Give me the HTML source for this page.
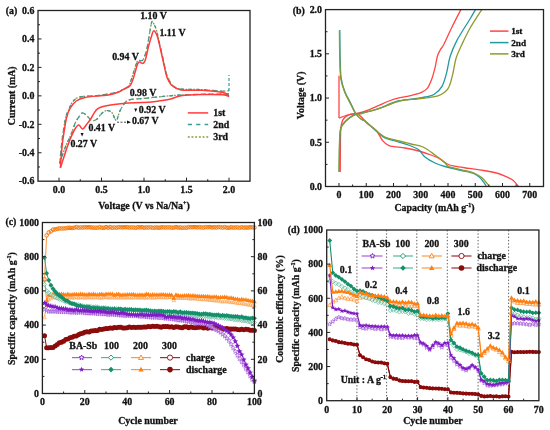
<!DOCTYPE html><html><head><meta charset="utf-8"><style>html,body{margin:0;padding:0;background:#fff;overflow:hidden}svg{display:block;will-change:transform;filter:blur(0.3px)}</style></head><body><svg width="550" height="430" viewBox="0 0 550 430" font-family='"Liberation Serif", serif' font-weight="bold">
<style>text{stroke:#111;stroke-width:0.3px;paint-order:stroke}</style>
<rect width="550" height="430" fill="#fff"/>
<g fill="none" stroke-linejoin="round">
<path d="M229.00,94.00 C227.97,94.00 227.30,93.95 222.80,94.00 C218.30,94.05 208.97,94.13 202.00,94.30 C195.03,94.47 186.38,94.75 181.00,95.00 C175.62,95.25 173.90,95.43 169.70,95.80 C165.50,96.17 160.45,96.73 155.80,97.20 C151.15,97.67 145.98,98.22 141.80,98.60 C137.62,98.98 133.37,98.97 130.70,99.50 C128.03,100.03 127.52,100.05 125.80,101.80 C124.08,103.55 121.67,107.67 120.40,110.00 C119.13,112.33 118.93,114.05 118.20,115.80 C117.47,117.55 117.10,121.10 116.00,120.50 C114.90,119.90 113.18,113.83 111.60,112.20 C110.02,110.57 108.07,110.58 106.50,110.70 C104.93,110.82 103.88,111.43 102.20,112.90 C100.52,114.37 98.22,118.28 96.40,119.50 C94.58,120.72 92.88,120.82 91.30,120.20 C89.72,119.58 88.37,117.02 86.90,115.80 C85.43,114.58 83.90,112.62 82.50,112.90 C81.10,113.18 79.70,115.82 78.50,117.50 C77.30,119.18 76.52,120.25 75.30,123.00 C74.08,125.75 72.75,130.23 71.20,134.00 C69.65,137.77 67.50,141.97 66.00,145.60 C64.50,149.23 63.23,152.82 62.20,155.80 C61.17,158.78 60.20,162.22 59.80,163.50" stroke="#8c9a3a" stroke-width="1.3" stroke-dasharray="1.8 2"/>
<path d="M59.80,163.50 C60.20,159.42 61.20,146.70 62.20,139.00 C63.20,131.30 64.72,122.13 65.80,117.30 C66.88,112.47 67.55,112.60 68.70,110.00 C69.85,107.40 70.82,103.87 72.70,101.70 C74.58,99.53 75.45,98.07 80.00,97.00 C84.55,95.93 93.67,96.13 100.00,95.30 C106.33,94.47 114.33,92.88 118.00,92.00 C121.67,91.12 120.25,90.95 122.00,90.00 C123.75,89.05 126.77,88.62 128.50,86.30 C130.23,83.98 131.32,79.18 132.40,76.10 C133.48,73.02 134.20,70.23 135.00,67.80 C135.80,65.37 136.50,62.73 137.20,61.50 C137.90,60.27 138.33,60.58 139.20,60.40 C140.07,60.22 141.43,61.27 142.40,60.40 C143.37,59.53 144.23,57.27 145.00,55.20 C145.77,53.13 146.42,50.53 147.00,48.00 C147.58,45.47 147.95,43.17 148.50,40.00 C149.05,36.83 149.78,31.92 150.30,29.00 C150.82,26.08 151.22,23.75 151.60,22.50 C151.98,21.25 152.25,21.35 152.60,21.50 C152.95,21.65 153.05,21.92 153.70,23.40 C154.35,24.88 155.45,26.68 156.50,30.40 C157.55,34.12 158.83,40.60 160.00,45.70 C161.17,50.80 162.45,56.35 163.50,61.00 C164.55,65.65 165.48,70.68 166.30,73.60 C167.12,76.52 167.35,76.52 168.40,78.50 C169.45,80.48 170.50,83.75 172.60,85.50 C174.70,87.25 176.10,88.32 181.00,89.00 C185.90,89.68 195.03,89.23 202.00,89.60 C208.97,89.97 218.30,91.05 222.80,91.20 C227.30,91.35 227.97,90.62 229.00,90.50" stroke="#8c9a3a" stroke-width="1.3" stroke-dasharray="1.8 2"/>
<path d="M229.00,94.00 C227.97,94.00 227.30,93.95 222.80,94.00 C218.30,94.05 208.97,94.13 202.00,94.30 C195.03,94.47 186.38,94.75 181.00,95.00 C175.62,95.25 173.90,95.43 169.70,95.80 C165.50,96.17 160.45,96.73 155.80,97.20 C151.15,97.67 145.98,98.22 141.80,98.60 C137.62,98.98 133.37,98.97 130.70,99.50 C128.03,100.03 127.52,100.05 125.80,101.80 C124.08,103.55 121.67,107.67 120.40,110.00 C119.13,112.33 118.93,114.05 118.20,115.80 C117.47,117.55 117.10,121.10 116.00,120.50 C114.90,119.90 113.18,113.83 111.60,112.20 C110.02,110.57 108.07,110.58 106.50,110.70 C104.93,110.82 103.88,111.43 102.20,112.90 C100.52,114.37 98.22,118.28 96.40,119.50 C94.58,120.72 92.88,120.82 91.30,120.20 C89.72,119.58 88.37,117.02 86.90,115.80 C85.43,114.58 83.90,112.62 82.50,112.90 C81.10,113.18 79.70,115.82 78.50,117.50 C77.30,119.18 76.52,120.25 75.30,123.00 C74.08,125.75 72.75,130.23 71.20,134.00 C69.65,137.77 67.50,141.97 66.00,145.60 C64.50,149.23 63.23,152.82 62.20,155.80 C61.17,158.78 60.20,162.22 59.80,163.50" stroke="#3a9a9a" stroke-width="1.3" stroke-dasharray="4 4"/>
<path d="M59.80,163.50 C60.20,159.42 61.20,146.70 62.20,139.00 C63.20,131.30 64.72,122.13 65.80,117.30 C66.88,112.47 67.55,112.60 68.70,110.00 C69.85,107.40 70.82,103.87 72.70,101.70 C74.58,99.53 75.45,98.07 80.00,97.00 C84.55,95.93 93.67,96.13 100.00,95.30 C106.33,94.47 114.33,92.88 118.00,92.00 C121.67,91.12 120.25,90.95 122.00,90.00 C123.75,89.05 126.77,88.62 128.50,86.30 C130.23,83.98 131.32,79.18 132.40,76.10 C133.48,73.02 134.20,70.23 135.00,67.80 C135.80,65.37 136.50,62.73 137.20,61.50 C137.90,60.27 138.33,60.58 139.20,60.40 C140.07,60.22 141.43,61.27 142.40,60.40 C143.37,59.53 144.23,57.27 145.00,55.20 C145.77,53.13 146.42,50.53 147.00,48.00 C147.58,45.47 147.95,43.17 148.50,40.00 C149.05,36.83 149.78,31.92 150.30,29.00 C150.82,26.08 151.22,23.75 151.60,22.50 C151.98,21.25 152.25,21.35 152.60,21.50 C152.95,21.65 153.05,21.92 153.70,23.40 C154.35,24.88 155.45,26.68 156.50,30.40 C157.55,34.12 158.83,40.60 160.00,45.70 C161.17,50.80 162.45,56.35 163.50,61.00 C164.55,65.65 165.48,70.68 166.30,73.60 C167.12,76.52 167.35,76.52 168.40,78.50 C169.45,80.48 170.50,83.75 172.60,85.50 C174.70,87.25 176.10,88.32 181.00,89.00 C185.90,89.68 195.03,89.23 202.00,89.60 C208.97,89.97 218.30,91.05 222.80,91.20 C227.30,91.35 227.97,90.62 229.00,90.50" stroke="#3a9a9a" stroke-width="1.3" stroke-dasharray="4 4"/>
<line x1="229" y1="91" x2="229" y2="75" stroke="#3a9a9a" stroke-width="1.2" stroke-dasharray="3 2"/>
<path d="M229.00,96.50 C227.97,96.22 227.30,95.12 222.80,94.80 C218.30,94.48 208.97,94.43 202.00,94.60 C195.03,94.77 186.38,95.02 181.00,95.80 C175.62,96.58 173.90,98.37 169.70,99.30 C165.50,100.23 160.45,100.85 155.80,101.40 C151.15,101.95 146.45,102.33 141.80,102.60 C137.15,102.87 132.53,102.67 127.90,103.00 C123.27,103.33 118.65,103.85 114.00,104.60 C109.35,105.35 103.08,106.43 100.00,107.50 C96.92,108.57 97.12,109.00 95.50,111.00 C93.88,113.00 91.80,117.25 90.30,119.50 C88.80,121.75 87.77,122.92 86.50,124.50 C85.23,126.08 83.98,128.90 82.70,129.00 C81.42,129.10 80.08,125.10 78.80,125.10 C77.52,125.10 76.27,127.08 75.00,129.00 C73.73,130.92 72.48,133.63 71.20,136.60 C69.92,139.57 68.58,143.18 67.30,146.80 C66.02,150.42 64.65,154.82 63.50,158.30 C62.35,161.78 60.92,166.13 60.40,167.70" stroke="#ff3b3b" stroke-width="1.5"/>
<path d="M60.40,167.70 C60.70,163.92 61.53,151.28 62.20,145.00 C62.87,138.72 63.68,134.50 64.40,130.00 C65.12,125.50 65.57,121.58 66.50,118.00 C67.43,114.42 68.38,111.33 70.00,108.50 C71.62,105.67 73.70,102.83 76.20,101.00 C78.70,99.17 81.03,98.37 85.00,97.50 C88.97,96.63 96.10,96.20 100.00,95.80 C103.90,95.40 105.38,95.68 108.40,95.10 C111.42,94.52 115.83,93.12 118.10,92.30 C120.37,91.48 120.52,91.00 122.00,90.20 C123.48,89.40 125.70,88.20 127.00,87.50 C128.30,86.80 128.97,86.92 129.80,86.00 C130.63,85.08 131.30,83.65 132.00,82.00 C132.70,80.35 133.32,78.30 134.00,76.10 C134.68,73.90 135.48,70.88 136.10,68.80 C136.72,66.72 137.18,64.73 137.70,63.60 C138.22,62.47 138.68,62.17 139.20,62.00 C139.72,61.83 140.27,62.33 140.80,62.60 C141.33,62.87 141.87,63.62 142.40,63.60 C142.93,63.58 143.48,63.18 144.00,62.50 C144.52,61.82 145.00,61.08 145.50,59.50 C146.00,57.92 146.48,55.25 147.00,53.00 C147.52,50.75 147.83,48.83 148.60,46.00 C149.37,43.17 150.75,38.53 151.60,36.00 C152.45,33.47 152.77,30.80 153.70,30.80 C154.63,30.80 156.15,33.28 157.20,36.00 C158.25,38.72 158.95,42.68 160.00,47.10 C161.05,51.52 162.45,57.85 163.50,62.50 C164.55,67.15 165.48,72.00 166.30,75.00 C167.12,78.00 167.35,78.67 168.40,80.50 C169.45,82.33 170.50,84.43 172.60,86.00 C174.70,87.57 176.10,89.18 181.00,89.90 C185.90,90.62 195.03,89.88 202.00,90.30 C208.97,90.72 218.63,91.70 222.80,92.40 C226.97,93.10 225.97,93.82 227.00,94.50 C228.03,95.18 228.67,96.17 229.00,96.50" stroke="#ff3b3b" stroke-width="1.5"/>
</g>
<rect x="38.00" y="10.50" width="212.00" height="170.70" fill="none" stroke="#222" stroke-width="1.3"/>
<line x1="59.00" y1="181.20" x2="59.00" y2="177.70" stroke="#222" stroke-width="1"/>
<line x1="101.50" y1="181.20" x2="101.50" y2="177.70" stroke="#222" stroke-width="1"/>
<line x1="144.00" y1="181.20" x2="144.00" y2="177.70" stroke="#222" stroke-width="1"/>
<line x1="186.50" y1="181.20" x2="186.50" y2="177.70" stroke="#222" stroke-width="1"/>
<line x1="229.00" y1="181.20" x2="229.00" y2="177.70" stroke="#222" stroke-width="1"/>
<line x1="80.25" y1="181.20" x2="80.25" y2="179.20" stroke="#222" stroke-width="1"/>
<line x1="122.75" y1="181.20" x2="122.75" y2="179.20" stroke="#222" stroke-width="1"/>
<line x1="165.25" y1="181.20" x2="165.25" y2="179.20" stroke="#222" stroke-width="1"/>
<line x1="207.75" y1="181.20" x2="207.75" y2="179.20" stroke="#222" stroke-width="1"/>
<line x1="38.00" y1="152.75" x2="41.50" y2="152.75" stroke="#222" stroke-width="1"/>
<line x1="38.00" y1="124.30" x2="41.50" y2="124.30" stroke="#222" stroke-width="1"/>
<line x1="38.00" y1="95.85" x2="41.50" y2="95.85" stroke="#222" stroke-width="1"/>
<line x1="38.00" y1="67.40" x2="41.50" y2="67.40" stroke="#222" stroke-width="1"/>
<line x1="38.00" y1="38.95" x2="41.50" y2="38.95" stroke="#222" stroke-width="1"/>
<line x1="38.00" y1="166.97" x2="40.00" y2="166.97" stroke="#222" stroke-width="1"/>
<line x1="38.00" y1="138.52" x2="40.00" y2="138.52" stroke="#222" stroke-width="1"/>
<line x1="38.00" y1="110.07" x2="40.00" y2="110.07" stroke="#222" stroke-width="1"/>
<line x1="38.00" y1="81.62" x2="40.00" y2="81.62" stroke="#222" stroke-width="1"/>
<line x1="38.00" y1="53.17" x2="40.00" y2="53.17" stroke="#222" stroke-width="1"/>
<line x1="38.00" y1="24.72" x2="40.00" y2="24.72" stroke="#222" stroke-width="1"/>
<text x="59.00" y="192.97" font-size="9.9" text-anchor="middle" fill="#111">0.0</text>
<text x="101.50" y="192.97" font-size="9.9" text-anchor="middle" fill="#111">0.5</text>
<text x="144.00" y="192.97" font-size="9.9" text-anchor="middle" fill="#111">1.0</text>
<text x="186.50" y="192.97" font-size="9.9" text-anchor="middle" fill="#111">1.5</text>
<text x="229.00" y="192.97" font-size="9.9" text-anchor="middle" fill="#111">2.0</text>
<text x="34.40" y="184.47" font-size="9.9" text-anchor="end" fill="#111">-0.6</text>
<text x="34.40" y="156.02" font-size="9.9" text-anchor="end" fill="#111">-0.4</text>
<text x="34.40" y="127.57" font-size="9.9" text-anchor="end" fill="#111">-0.2</text>
<text x="34.40" y="99.12" font-size="9.9" text-anchor="end" fill="#111">0.0</text>
<text x="34.40" y="70.67" font-size="9.9" text-anchor="end" fill="#111">0.2</text>
<text x="34.40" y="42.22" font-size="9.9" text-anchor="end" fill="#111">0.4</text>
<text x="34.40" y="13.77" font-size="9.9" text-anchor="end" fill="#111">0.6</text>
<text x="11.50" y="13.97" font-size="9.9" text-anchor="middle" fill="#111">(a)</text>
<text x="144.00" y="208.70" font-size="9.9" text-anchor="middle" fill="#111">Voltage (V vs Na/Na<tspan font-size="6" dy="-4">+</tspan><tspan dy="4">)</tspan></text>
<text x="14.70" y="95.80" font-size="9.9" text-anchor="middle" fill="#111" transform="rotate(-90 14.70 95.80)">Current (mA)</text>
<text x="153.50" y="19.27" font-size="9.9" text-anchor="middle" fill="#111">1.10 V</text>
<text x="172.50" y="35.87" font-size="9.9" text-anchor="middle" fill="#111">1.11 V</text>
<text x="125.50" y="59.77" font-size="9.9" text-anchor="middle" fill="#111">0.94 V</text>
<text x="143.00" y="95.57" font-size="9.9" text-anchor="middle" fill="#111">0.98 V</text>
<text x="152.20" y="112.97" font-size="9.9" text-anchor="middle" fill="#111">0.92 V</text>
<text x="145.30" y="124.17" font-size="9.9" text-anchor="middle" fill="#111">0.67 V</text>
<text x="101.80" y="131.47" font-size="9.9" text-anchor="middle" fill="#111">0.41 V</text>
<text x="83.80" y="146.77" font-size="9.9" text-anchor="middle" fill="#111">0.27 V</text>
<path d="M80.6,133 L83.6,133 L82.1,136.5 Z" fill="#111"/>
<path d="M134.2,108.6 L137.2,108.6 L135.7,112 Z" fill="#111"/>
<line x1="117" y1="122.2" x2="127.5" y2="122.2" stroke="#333" stroke-width="0.9" stroke-dasharray="2 1.5"/>
<path d="M127,120.6 L131,122.2 L127,123.8 Z" fill="#111"/>
<line x1="187.8" y1="112.9" x2="208.2" y2="112.9" stroke="#ff3b3b" stroke-width="1.5"/>
<line x1="187.8" y1="124.5" x2="208.2" y2="124.5" stroke="#3a9a9a" stroke-width="1.5" stroke-dasharray="4.2 4.2"/>
<line x1="187.8" y1="137" x2="208.2" y2="137" stroke="#8c9a3a" stroke-width="1.5" stroke-dasharray="1.9 1.8"/>
<text x="213.30" y="116.17" font-size="9.9" text-anchor="start" fill="#111">1st</text>
<text x="213.30" y="127.77" font-size="9.9" text-anchor="start" fill="#111">2nd</text>
<text x="213.30" y="140.27" font-size="9.9" text-anchor="start" fill="#111">3rd</text>
<g fill="none" stroke-width="1.3" stroke-linejoin="round">
<path d="M339.00,75.80 L339.00,118.00" stroke="#ff4545"/>
<path d="M339.00,118.00 C340.00,117.67 343.00,116.63 345.00,116.00 C347.00,115.37 349.17,114.57 351.00,114.20 C352.83,113.83 354.42,113.50 356.00,113.80 C357.58,114.10 358.62,114.40 360.50,116.00 C362.38,117.60 364.62,120.93 367.30,123.40 C369.98,125.87 374.12,128.03 376.60,130.80 C379.08,133.57 380.13,137.53 382.20,140.00 C384.27,142.47 385.20,144.27 389.00,145.60 C392.80,146.93 400.00,147.10 405.00,148.00 C410.00,148.90 414.67,149.83 419.00,151.00 C423.33,152.17 427.50,153.68 431.00,155.00 C434.50,156.32 437.28,157.40 440.00,158.90 C442.72,160.40 444.88,162.78 447.30,164.00 C449.72,165.22 450.88,165.47 454.50,166.20 C458.12,166.93 464.15,167.68 469.00,168.40 C473.85,169.12 478.73,169.65 483.60,170.50 C488.47,171.35 494.55,172.52 498.20,173.50 C501.85,174.48 503.08,175.32 505.50,176.40 C507.92,177.48 510.53,178.32 512.70,180.00 C514.87,181.68 517.53,185.42 518.50,186.50" stroke="#ff4545"/>
<path d="M340.20,172.00 C340.23,168.33 340.30,157.17 340.40,150.00 C340.50,142.83 340.37,134.07 340.80,129.00 C341.23,123.93 341.70,121.93 343.00,119.60 C344.30,117.27 346.10,116.08 348.60,115.00 C351.10,113.92 354.88,113.88 358.00,113.10 C361.12,112.32 363.90,111.55 367.30,110.30 C370.70,109.05 374.78,107.15 378.40,105.60 C382.02,104.05 385.73,102.23 389.00,101.00 C392.27,99.77 394.95,98.97 398.00,98.20 C401.05,97.43 404.23,97.10 407.30,96.40 C410.37,95.70 414.12,94.63 416.40,94.00 C418.68,93.37 419.23,93.48 421.00,92.60 C422.77,91.72 425.23,90.90 427.00,88.70 C428.77,86.50 430.27,82.88 431.60,79.40 C432.93,75.92 434.03,71.67 435.00,67.80 C435.97,63.93 436.48,59.25 437.40,56.20 C438.32,53.15 439.43,51.45 440.50,49.50 C441.57,47.55 441.88,48.25 443.80,44.50 C445.72,40.75 449.15,32.82 452.00,27.00 C454.85,21.18 459.42,12.50 460.90,9.60" stroke="#ff4545"/>
<path d="M339.80,30.00 C339.87,35.00 339.97,51.90 340.20,60.00 C340.43,68.10 340.42,73.32 341.20,78.60 C341.98,83.88 343.35,87.65 344.90,91.70 C346.45,95.75 348.65,99.18 350.50,102.90 C352.35,106.62 354.13,111.22 356.00,114.00 C357.87,116.78 360.20,118.43 361.70,119.60 C363.20,120.77 362.78,119.27 365.00,121.00 C367.22,122.73 371.67,127.17 375.00,130.00 C378.33,132.83 381.67,136.17 385.00,138.00 C388.33,139.83 390.67,139.67 395.00,141.00 C399.33,142.33 407.00,144.50 411.00,146.00 C415.00,147.50 416.67,148.17 419.00,150.00 C421.33,151.83 422.33,154.83 425.00,157.00 C427.67,159.17 431.67,161.42 435.00,163.00 C438.33,164.58 440.53,165.25 445.00,166.50 C449.47,167.75 457.05,169.33 461.80,170.50 C466.55,171.67 470.58,172.42 473.50,173.50 C476.42,174.58 477.62,175.55 479.30,177.00 C480.98,178.45 482.40,180.62 483.60,182.20 C484.80,183.78 486.02,185.78 486.50,186.50" stroke="#229a9f"/>
<path d="M339.20,172.00 C339.27,167.50 339.38,152.00 339.60,145.00 C339.82,138.00 339.93,133.50 340.50,130.00 C341.07,126.50 341.58,126.00 343.00,124.00 C344.42,122.00 347.00,119.60 349.00,118.00 C351.00,116.40 352.88,115.22 355.00,114.40 C357.12,113.58 358.10,113.93 361.70,113.10 C365.30,112.27 370.55,111.42 376.60,109.40 C382.65,107.38 391.37,102.82 398.00,101.00 C404.63,99.18 411.90,99.17 416.40,98.50 C420.90,97.83 422.07,97.67 425.00,97.00 C427.93,96.33 431.17,96.27 434.00,94.50 C436.83,92.73 439.88,90.08 442.00,86.40 C444.12,82.72 445.33,77.43 446.70,72.40 C448.07,67.37 448.45,61.62 450.20,56.20 C451.95,50.78 453.90,46.10 457.20,39.90 C460.50,33.70 466.95,24.05 470.00,19.00 C473.05,13.95 474.58,11.17 475.50,9.60" stroke="#229a9f"/>
<path d="M339.40,30.50 C339.47,35.42 339.57,51.98 339.80,60.00 C340.03,68.02 340.02,73.32 340.80,78.60 C341.58,83.88 342.97,87.65 344.50,91.70 C346.03,95.75 348.15,99.27 350.00,102.90 C351.85,106.53 353.68,110.77 355.60,113.50 C357.52,116.23 359.93,118.05 361.50,119.30 C363.07,120.55 362.75,119.30 365.00,121.00 C367.25,122.70 371.67,126.83 375.00,129.50 C378.33,132.17 381.67,135.25 385.00,137.00 C388.33,138.75 390.67,138.83 395.00,140.00 C399.33,141.17 406.33,142.83 411.00,144.00 C415.67,145.17 419.00,145.17 423.00,147.00 C427.00,148.83 431.33,152.33 435.00,155.00 C438.67,157.67 442.72,161.08 445.00,163.00 C447.28,164.92 445.90,165.37 448.70,166.50 C451.50,167.63 457.42,168.63 461.80,169.80 C466.18,170.97 471.63,172.17 475.00,173.50 C478.37,174.83 479.58,175.63 482.00,177.80 C484.42,179.97 488.25,185.05 489.50,186.50" stroke="#8e9a2e"/>
<path d="M339.00,172.00 C339.07,167.50 339.18,152.00 339.40,145.00 C339.62,138.00 339.70,133.42 340.30,130.00 C340.90,126.58 341.55,126.42 343.00,124.50 C344.45,122.58 347.00,120.08 349.00,118.50 C351.00,116.92 352.88,115.83 355.00,115.00 C357.12,114.17 357.53,114.63 361.70,113.50 C365.87,112.37 373.95,110.20 380.00,108.20 C386.05,106.20 391.93,103.03 398.00,101.50 C404.07,99.97 411.90,99.58 416.40,99.00 C420.90,98.42 421.30,98.55 425.00,98.00 C428.70,97.45 434.77,97.25 438.60,95.70 C442.43,94.15 445.67,92.18 448.00,88.70 C450.33,85.22 451.27,79.83 452.60,74.80 C453.93,69.77 454.45,63.55 456.00,58.50 C457.55,53.45 459.57,49.53 461.90,44.50 C464.23,39.47 466.68,34.12 470.00,28.30 C473.32,22.48 479.83,12.72 481.80,9.60" stroke="#8e9a2e"/>
</g>
<rect x="326" y="0" width="217" height="9" fill="#fff"/>
<rect x="325.50" y="9.60" width="218.00" height="176.90" fill="none" stroke="#222" stroke-width="1.3"/>
<line x1="339.00" y1="186.50" x2="339.00" y2="183.00" stroke="#222" stroke-width="1"/>
<line x1="366.25" y1="186.50" x2="366.25" y2="183.00" stroke="#222" stroke-width="1"/>
<line x1="393.50" y1="186.50" x2="393.50" y2="183.00" stroke="#222" stroke-width="1"/>
<line x1="420.75" y1="186.50" x2="420.75" y2="183.00" stroke="#222" stroke-width="1"/>
<line x1="448.00" y1="186.50" x2="448.00" y2="183.00" stroke="#222" stroke-width="1"/>
<line x1="475.25" y1="186.50" x2="475.25" y2="183.00" stroke="#222" stroke-width="1"/>
<line x1="502.50" y1="186.50" x2="502.50" y2="183.00" stroke="#222" stroke-width="1"/>
<line x1="529.75" y1="186.50" x2="529.75" y2="183.00" stroke="#222" stroke-width="1"/>
<line x1="352.62" y1="186.50" x2="352.62" y2="184.50" stroke="#222" stroke-width="1"/>
<line x1="379.88" y1="186.50" x2="379.88" y2="184.50" stroke="#222" stroke-width="1"/>
<line x1="407.12" y1="186.50" x2="407.12" y2="184.50" stroke="#222" stroke-width="1"/>
<line x1="434.38" y1="186.50" x2="434.38" y2="184.50" stroke="#222" stroke-width="1"/>
<line x1="461.62" y1="186.50" x2="461.62" y2="184.50" stroke="#222" stroke-width="1"/>
<line x1="488.88" y1="186.50" x2="488.88" y2="184.50" stroke="#222" stroke-width="1"/>
<line x1="516.12" y1="186.50" x2="516.12" y2="184.50" stroke="#222" stroke-width="1"/>
<line x1="325.50" y1="142.28" x2="329.00" y2="142.28" stroke="#222" stroke-width="1"/>
<line x1="325.50" y1="98.05" x2="329.00" y2="98.05" stroke="#222" stroke-width="1"/>
<line x1="325.50" y1="53.82" x2="329.00" y2="53.82" stroke="#222" stroke-width="1"/>
<line x1="325.50" y1="164.39" x2="327.50" y2="164.39" stroke="#222" stroke-width="1"/>
<line x1="325.50" y1="120.16" x2="327.50" y2="120.16" stroke="#222" stroke-width="1"/>
<line x1="325.50" y1="75.94" x2="327.50" y2="75.94" stroke="#222" stroke-width="1"/>
<line x1="325.50" y1="31.71" x2="327.50" y2="31.71" stroke="#222" stroke-width="1"/>
<text x="339.00" y="197.97" font-size="9.9" text-anchor="middle" fill="#111">0</text>
<text x="366.25" y="197.97" font-size="9.9" text-anchor="middle" fill="#111">100</text>
<text x="393.50" y="197.97" font-size="9.9" text-anchor="middle" fill="#111">200</text>
<text x="420.75" y="197.97" font-size="9.9" text-anchor="middle" fill="#111">300</text>
<text x="448.00" y="197.97" font-size="9.9" text-anchor="middle" fill="#111">400</text>
<text x="475.25" y="197.97" font-size="9.9" text-anchor="middle" fill="#111">500</text>
<text x="502.50" y="197.97" font-size="9.9" text-anchor="middle" fill="#111">600</text>
<text x="529.75" y="197.97" font-size="9.9" text-anchor="middle" fill="#111">700</text>
<text x="322.00" y="189.77" font-size="9.9" text-anchor="end" fill="#111">0.0</text>
<text x="322.00" y="145.54" font-size="9.9" text-anchor="end" fill="#111">0.5</text>
<text x="322.00" y="101.32" font-size="9.9" text-anchor="end" fill="#111">1.0</text>
<text x="322.00" y="57.09" font-size="9.9" text-anchor="end" fill="#111">1.5</text>
<text x="322.00" y="12.87" font-size="9.9" text-anchor="end" fill="#111">2.0</text>
<text x="298.80" y="13.67" font-size="9.9" text-anchor="middle" fill="#111">(b)</text>
<text x="434.50" y="211.10" font-size="9.9" text-anchor="middle" fill="#111">Capacity (mAh g<tspan font-size="6" dy="-4">-1</tspan><tspan dy="4">)</tspan></text>
<text x="303.70" y="95.30" font-size="9.9" text-anchor="middle" fill="#111" transform="rotate(-90 303.70 95.30)">Voltage (V)</text>
<line x1="490" y1="31.1" x2="508.5" y2="31.1" stroke="#ff4545" stroke-width="1.5"/>
<line x1="490" y1="42.6" x2="508.5" y2="42.6" stroke="#229a9f" stroke-width="1.5"/>
<line x1="490" y1="53.9" x2="508.5" y2="53.9" stroke="#8e9a2e" stroke-width="1.5"/>
<text x="511.20" y="34.14" font-size="9.2" text-anchor="start" fill="#111">1st</text>
<text x="511.20" y="45.64" font-size="9.2" text-anchor="start" fill="#111">2nd</text>
<text x="511.20" y="56.94" font-size="9.2" text-anchor="start" fill="#111">3rd</text>
<g>
<path d="M44.52,335.63 L46.64,347.63 L48.76,347.81 L50.88,347.57 L53.00,347.54 L55.12,346.09 L57.24,344.53 L59.36,342.69 L61.48,342.29 L63.60,341.33 L65.72,339.55 L67.84,339.10 L69.96,337.73 L72.08,337.21 L74.20,336.25 L76.32,335.96 L78.44,334.67 L80.56,333.64 L82.68,333.20 L84.80,332.18 L86.92,331.71 L89.04,331.96 L91.16,330.88 L93.28,330.68 L95.40,330.60 L97.52,330.51 L99.64,329.28 L101.76,329.40 L103.88,328.89 L106.00,328.47 L108.12,328.38 L110.24,327.91 L112.36,328.20 L114.48,327.53 L116.60,327.84 L118.72,327.28 L120.84,327.28 L122.96,328.02 L125.08,327.92 L127.20,327.78 L129.32,326.96 L131.44,327.45 L133.56,327.19 L135.68,327.47 L137.80,327.20 L139.92,327.27 L142.04,327.25 L144.16,326.95 L146.28,326.89 L148.40,326.51 L150.52,326.68 L152.64,326.37 L154.76,326.47 L156.88,326.36 L159.00,326.72 L161.12,327.27 L163.24,326.58 L165.36,326.50 L167.48,326.59 L169.60,326.97 L171.72,326.85 L173.84,327.39 L175.96,326.78 L178.08,327.08 L180.20,327.40 L182.32,327.66 L184.44,326.87 L186.56,326.76 L188.68,327.72 L190.80,327.01 L192.92,327.44 L195.04,327.74 L197.16,327.62 L199.28,327.16 L201.40,327.08 L203.52,327.96 L205.64,327.46 L207.76,328.13 L209.88,327.53 L212.00,328.01 L214.12,327.53 L216.24,327.51 L218.36,328.09 L220.48,327.67 L222.60,328.46 L224.72,328.78 L226.84,328.39 L228.96,329.12 L231.08,329.10 L233.20,329.03 L235.32,328.97 L237.44,329.58 L239.56,329.84 L241.68,329.14 L243.80,329.86 L245.92,329.34 L248.04,329.55 L250.16,330.23 L252.28,330.30 L254.40,330.38" fill="none" stroke="#8b0a0a" stroke-width="1" opacity="1"/>
<path d="M42.02,335.63 a2.50,2.50 0 1,0 5.00,0 a2.50,2.50 0 1,0 -5.00,0M44.14,347.63 a2.50,2.50 0 1,0 5.00,0 a2.50,2.50 0 1,0 -5.00,0M46.26,347.81 a2.50,2.50 0 1,0 5.00,0 a2.50,2.50 0 1,0 -5.00,0M48.38,347.57 a2.50,2.50 0 1,0 5.00,0 a2.50,2.50 0 1,0 -5.00,0M50.50,347.54 a2.50,2.50 0 1,0 5.00,0 a2.50,2.50 0 1,0 -5.00,0M52.62,346.09 a2.50,2.50 0 1,0 5.00,0 a2.50,2.50 0 1,0 -5.00,0M54.74,344.53 a2.50,2.50 0 1,0 5.00,0 a2.50,2.50 0 1,0 -5.00,0M56.86,342.69 a2.50,2.50 0 1,0 5.00,0 a2.50,2.50 0 1,0 -5.00,0M58.98,342.29 a2.50,2.50 0 1,0 5.00,0 a2.50,2.50 0 1,0 -5.00,0M61.10,341.33 a2.50,2.50 0 1,0 5.00,0 a2.50,2.50 0 1,0 -5.00,0M63.22,339.55 a2.50,2.50 0 1,0 5.00,0 a2.50,2.50 0 1,0 -5.00,0M65.34,339.10 a2.50,2.50 0 1,0 5.00,0 a2.50,2.50 0 1,0 -5.00,0M67.46,337.73 a2.50,2.50 0 1,0 5.00,0 a2.50,2.50 0 1,0 -5.00,0M69.58,337.21 a2.50,2.50 0 1,0 5.00,0 a2.50,2.50 0 1,0 -5.00,0M71.70,336.25 a2.50,2.50 0 1,0 5.00,0 a2.50,2.50 0 1,0 -5.00,0M73.82,335.96 a2.50,2.50 0 1,0 5.00,0 a2.50,2.50 0 1,0 -5.00,0M75.94,334.67 a2.50,2.50 0 1,0 5.00,0 a2.50,2.50 0 1,0 -5.00,0M78.06,333.64 a2.50,2.50 0 1,0 5.00,0 a2.50,2.50 0 1,0 -5.00,0M80.18,333.20 a2.50,2.50 0 1,0 5.00,0 a2.50,2.50 0 1,0 -5.00,0M82.30,332.18 a2.50,2.50 0 1,0 5.00,0 a2.50,2.50 0 1,0 -5.00,0M84.42,331.71 a2.50,2.50 0 1,0 5.00,0 a2.50,2.50 0 1,0 -5.00,0M86.54,331.96 a2.50,2.50 0 1,0 5.00,0 a2.50,2.50 0 1,0 -5.00,0M88.66,330.88 a2.50,2.50 0 1,0 5.00,0 a2.50,2.50 0 1,0 -5.00,0M90.78,330.68 a2.50,2.50 0 1,0 5.00,0 a2.50,2.50 0 1,0 -5.00,0M92.90,330.60 a2.50,2.50 0 1,0 5.00,0 a2.50,2.50 0 1,0 -5.00,0M95.02,330.51 a2.50,2.50 0 1,0 5.00,0 a2.50,2.50 0 1,0 -5.00,0M97.14,329.28 a2.50,2.50 0 1,0 5.00,0 a2.50,2.50 0 1,0 -5.00,0M99.26,329.40 a2.50,2.50 0 1,0 5.00,0 a2.50,2.50 0 1,0 -5.00,0M101.38,328.89 a2.50,2.50 0 1,0 5.00,0 a2.50,2.50 0 1,0 -5.00,0M103.50,328.47 a2.50,2.50 0 1,0 5.00,0 a2.50,2.50 0 1,0 -5.00,0M105.62,328.38 a2.50,2.50 0 1,0 5.00,0 a2.50,2.50 0 1,0 -5.00,0M107.74,327.91 a2.50,2.50 0 1,0 5.00,0 a2.50,2.50 0 1,0 -5.00,0M109.86,328.20 a2.50,2.50 0 1,0 5.00,0 a2.50,2.50 0 1,0 -5.00,0M111.98,327.53 a2.50,2.50 0 1,0 5.00,0 a2.50,2.50 0 1,0 -5.00,0M114.10,327.84 a2.50,2.50 0 1,0 5.00,0 a2.50,2.50 0 1,0 -5.00,0M116.22,327.28 a2.50,2.50 0 1,0 5.00,0 a2.50,2.50 0 1,0 -5.00,0M118.34,327.28 a2.50,2.50 0 1,0 5.00,0 a2.50,2.50 0 1,0 -5.00,0M120.46,328.02 a2.50,2.50 0 1,0 5.00,0 a2.50,2.50 0 1,0 -5.00,0M122.58,327.92 a2.50,2.50 0 1,0 5.00,0 a2.50,2.50 0 1,0 -5.00,0M124.70,327.78 a2.50,2.50 0 1,0 5.00,0 a2.50,2.50 0 1,0 -5.00,0M126.82,326.96 a2.50,2.50 0 1,0 5.00,0 a2.50,2.50 0 1,0 -5.00,0M128.94,327.45 a2.50,2.50 0 1,0 5.00,0 a2.50,2.50 0 1,0 -5.00,0M131.06,327.19 a2.50,2.50 0 1,0 5.00,0 a2.50,2.50 0 1,0 -5.00,0M133.18,327.47 a2.50,2.50 0 1,0 5.00,0 a2.50,2.50 0 1,0 -5.00,0M135.30,327.20 a2.50,2.50 0 1,0 5.00,0 a2.50,2.50 0 1,0 -5.00,0M137.42,327.27 a2.50,2.50 0 1,0 5.00,0 a2.50,2.50 0 1,0 -5.00,0M139.54,327.25 a2.50,2.50 0 1,0 5.00,0 a2.50,2.50 0 1,0 -5.00,0M141.66,326.95 a2.50,2.50 0 1,0 5.00,0 a2.50,2.50 0 1,0 -5.00,0M143.78,326.89 a2.50,2.50 0 1,0 5.00,0 a2.50,2.50 0 1,0 -5.00,0M145.90,326.51 a2.50,2.50 0 1,0 5.00,0 a2.50,2.50 0 1,0 -5.00,0M148.02,326.68 a2.50,2.50 0 1,0 5.00,0 a2.50,2.50 0 1,0 -5.00,0M150.14,326.37 a2.50,2.50 0 1,0 5.00,0 a2.50,2.50 0 1,0 -5.00,0M152.26,326.47 a2.50,2.50 0 1,0 5.00,0 a2.50,2.50 0 1,0 -5.00,0M154.38,326.36 a2.50,2.50 0 1,0 5.00,0 a2.50,2.50 0 1,0 -5.00,0M156.50,326.72 a2.50,2.50 0 1,0 5.00,0 a2.50,2.50 0 1,0 -5.00,0M158.62,327.27 a2.50,2.50 0 1,0 5.00,0 a2.50,2.50 0 1,0 -5.00,0M160.74,326.58 a2.50,2.50 0 1,0 5.00,0 a2.50,2.50 0 1,0 -5.00,0M162.86,326.50 a2.50,2.50 0 1,0 5.00,0 a2.50,2.50 0 1,0 -5.00,0M164.98,326.59 a2.50,2.50 0 1,0 5.00,0 a2.50,2.50 0 1,0 -5.00,0M167.10,326.97 a2.50,2.50 0 1,0 5.00,0 a2.50,2.50 0 1,0 -5.00,0M169.22,326.85 a2.50,2.50 0 1,0 5.00,0 a2.50,2.50 0 1,0 -5.00,0M171.34,327.39 a2.50,2.50 0 1,0 5.00,0 a2.50,2.50 0 1,0 -5.00,0M173.46,326.78 a2.50,2.50 0 1,0 5.00,0 a2.50,2.50 0 1,0 -5.00,0M175.58,327.08 a2.50,2.50 0 1,0 5.00,0 a2.50,2.50 0 1,0 -5.00,0M177.70,327.40 a2.50,2.50 0 1,0 5.00,0 a2.50,2.50 0 1,0 -5.00,0M179.82,327.66 a2.50,2.50 0 1,0 5.00,0 a2.50,2.50 0 1,0 -5.00,0M181.94,326.87 a2.50,2.50 0 1,0 5.00,0 a2.50,2.50 0 1,0 -5.00,0M184.06,326.76 a2.50,2.50 0 1,0 5.00,0 a2.50,2.50 0 1,0 -5.00,0M186.18,327.72 a2.50,2.50 0 1,0 5.00,0 a2.50,2.50 0 1,0 -5.00,0M188.30,327.01 a2.50,2.50 0 1,0 5.00,0 a2.50,2.50 0 1,0 -5.00,0M190.42,327.44 a2.50,2.50 0 1,0 5.00,0 a2.50,2.50 0 1,0 -5.00,0M192.54,327.74 a2.50,2.50 0 1,0 5.00,0 a2.50,2.50 0 1,0 -5.00,0M194.66,327.62 a2.50,2.50 0 1,0 5.00,0 a2.50,2.50 0 1,0 -5.00,0M196.78,327.16 a2.50,2.50 0 1,0 5.00,0 a2.50,2.50 0 1,0 -5.00,0M198.90,327.08 a2.50,2.50 0 1,0 5.00,0 a2.50,2.50 0 1,0 -5.00,0M201.02,327.96 a2.50,2.50 0 1,0 5.00,0 a2.50,2.50 0 1,0 -5.00,0M203.14,327.46 a2.50,2.50 0 1,0 5.00,0 a2.50,2.50 0 1,0 -5.00,0M205.26,328.13 a2.50,2.50 0 1,0 5.00,0 a2.50,2.50 0 1,0 -5.00,0M207.38,327.53 a2.50,2.50 0 1,0 5.00,0 a2.50,2.50 0 1,0 -5.00,0M209.50,328.01 a2.50,2.50 0 1,0 5.00,0 a2.50,2.50 0 1,0 -5.00,0M211.62,327.53 a2.50,2.50 0 1,0 5.00,0 a2.50,2.50 0 1,0 -5.00,0M213.74,327.51 a2.50,2.50 0 1,0 5.00,0 a2.50,2.50 0 1,0 -5.00,0M215.86,328.09 a2.50,2.50 0 1,0 5.00,0 a2.50,2.50 0 1,0 -5.00,0M217.98,327.67 a2.50,2.50 0 1,0 5.00,0 a2.50,2.50 0 1,0 -5.00,0M220.10,328.46 a2.50,2.50 0 1,0 5.00,0 a2.50,2.50 0 1,0 -5.00,0M222.22,328.78 a2.50,2.50 0 1,0 5.00,0 a2.50,2.50 0 1,0 -5.00,0M224.34,328.39 a2.50,2.50 0 1,0 5.00,0 a2.50,2.50 0 1,0 -5.00,0M226.46,329.12 a2.50,2.50 0 1,0 5.00,0 a2.50,2.50 0 1,0 -5.00,0M228.58,329.10 a2.50,2.50 0 1,0 5.00,0 a2.50,2.50 0 1,0 -5.00,0M230.70,329.03 a2.50,2.50 0 1,0 5.00,0 a2.50,2.50 0 1,0 -5.00,0M232.82,328.97 a2.50,2.50 0 1,0 5.00,0 a2.50,2.50 0 1,0 -5.00,0M234.94,329.58 a2.50,2.50 0 1,0 5.00,0 a2.50,2.50 0 1,0 -5.00,0M237.06,329.84 a2.50,2.50 0 1,0 5.00,0 a2.50,2.50 0 1,0 -5.00,0M239.18,329.14 a2.50,2.50 0 1,0 5.00,0 a2.50,2.50 0 1,0 -5.00,0M241.30,329.86 a2.50,2.50 0 1,0 5.00,0 a2.50,2.50 0 1,0 -5.00,0M243.42,329.34 a2.50,2.50 0 1,0 5.00,0 a2.50,2.50 0 1,0 -5.00,0M245.54,329.55 a2.50,2.50 0 1,0 5.00,0 a2.50,2.50 0 1,0 -5.00,0M247.66,330.23 a2.50,2.50 0 1,0 5.00,0 a2.50,2.50 0 1,0 -5.00,0M249.78,330.30 a2.50,2.50 0 1,0 5.00,0 a2.50,2.50 0 1,0 -5.00,0M251.90,330.38 a2.50,2.50 0 1,0 5.00,0 a2.50,2.50 0 1,0 -5.00,0" fill="#8b0a0a" opacity="1"/>
<path d="M44.52,317.48 L46.64,304.51 L48.76,299.41 L50.88,298.43 L53.00,297.27 L55.12,297.56 L57.24,297.62 L59.36,297.42 L61.48,297.75 L63.60,297.71 L65.72,297.24 L67.84,297.55 L69.96,297.54 L72.08,297.90 L74.20,297.63 L76.32,297.51 L78.44,297.90 L80.56,297.49 L82.68,297.48 L84.80,297.87 L86.92,297.48 L89.04,297.59 L91.16,297.45 L93.28,297.67 L95.40,297.43 L97.52,297.41 L99.64,297.90 L101.76,297.87 L103.88,297.45 L106.00,297.25 L108.12,297.74 L110.24,297.60 L112.36,297.51 L114.48,297.69 L116.60,297.66 L118.72,297.70 L120.84,297.66 L122.96,297.50 L125.08,297.71 L127.20,297.65 L129.32,297.38 L131.44,297.89 L133.56,297.52 L135.68,297.41 L137.80,297.70 L139.92,297.76 L142.04,297.36 L144.16,297.75 L146.28,297.78 L148.40,297.61 L150.52,297.42 L152.64,297.81 L154.76,297.64 L156.88,297.62 L159.00,297.26 L161.12,297.52 L163.24,297.22 L165.36,297.67 L167.48,297.54 L169.60,297.31 L171.72,297.13 L173.84,300.34 L175.96,297.76 L178.08,297.96 L180.20,297.82 L182.32,298.18 L184.44,297.90 L186.56,298.01 L188.68,298.59 L190.80,298.66 L192.92,298.43 L195.04,298.68 L197.16,298.70 L199.28,299.15 L201.40,299.43 L203.52,299.46 L205.64,299.25 L207.76,299.84 L209.88,300.03 L212.00,300.22 L214.12,300.45 L216.24,300.70 L218.36,300.58 L220.48,301.34 L222.60,301.68 L224.72,301.28 L226.84,301.56 L228.96,301.72 L231.08,302.34 L233.20,302.22 L235.32,302.53 L237.44,303.30 L239.56,303.23 L241.68,303.46 L243.80,303.87 L245.92,304.26 L248.04,304.71 L250.16,304.96 L252.28,305.33 L254.40,305.73" fill="none" stroke="#ff9a40" stroke-width="0.9" opacity="1"/>
<path d="M44.52,315.58 L46.32,318.81 L42.71,318.81ZM46.64,302.61 L48.45,305.84 L44.84,305.84ZM48.76,297.51 L50.56,300.74 L46.95,300.74ZM50.88,296.53 L52.68,299.76 L49.07,299.76ZM53.00,295.37 L54.80,298.60 L51.20,298.60ZM55.12,295.66 L56.92,298.89 L53.31,298.89ZM57.24,295.72 L59.04,298.95 L55.43,298.95ZM59.36,295.52 L61.16,298.75 L57.55,298.75ZM61.48,295.85 L63.29,299.08 L59.68,299.08ZM63.60,295.81 L65.41,299.04 L61.80,299.04ZM65.72,295.34 L67.53,298.57 L63.91,298.57ZM67.84,295.65 L69.65,298.88 L66.03,298.88ZM69.96,295.64 L71.77,298.87 L68.16,298.87ZM72.08,296.00 L73.89,299.23 L70.27,299.23ZM74.20,295.73 L76.01,298.96 L72.39,298.96ZM76.32,295.61 L78.12,298.84 L74.51,298.84ZM78.44,296.00 L80.25,299.23 L76.63,299.23ZM80.56,295.59 L82.37,298.82 L78.75,298.82ZM82.68,295.58 L84.49,298.81 L80.88,298.81ZM84.80,295.97 L86.61,299.20 L83.00,299.20ZM86.92,295.58 L88.73,298.81 L85.11,298.81ZM89.04,295.69 L90.84,298.92 L87.23,298.92ZM91.16,295.55 L92.97,298.78 L89.35,298.78ZM93.28,295.77 L95.09,299.00 L91.47,299.00ZM95.40,295.53 L97.21,298.76 L93.59,298.76ZM97.52,295.51 L99.33,298.74 L95.72,298.74ZM99.64,296.00 L101.45,299.23 L97.83,299.23ZM101.76,295.97 L103.56,299.20 L99.95,299.20ZM103.88,295.55 L105.69,298.78 L102.07,298.78ZM106.00,295.35 L107.81,298.58 L104.19,298.58ZM108.12,295.84 L109.93,299.07 L106.31,299.07ZM110.24,295.70 L112.05,298.93 L108.44,298.93ZM112.36,295.61 L114.17,298.84 L110.56,298.84ZM114.48,295.79 L116.28,299.02 L112.67,299.02ZM116.60,295.76 L118.41,298.99 L114.79,298.99ZM118.72,295.80 L120.53,299.03 L116.91,299.03ZM120.84,295.76 L122.65,298.99 L119.03,298.99ZM122.96,295.60 L124.77,298.83 L121.16,298.83ZM125.08,295.81 L126.89,299.04 L123.28,299.04ZM127.20,295.75 L129.01,298.98 L125.40,298.98ZM129.32,295.48 L131.12,298.71 L127.51,298.71ZM131.44,295.99 L133.25,299.22 L129.63,299.22ZM133.56,295.62 L135.37,298.85 L131.75,298.85ZM135.68,295.51 L137.49,298.74 L133.88,298.74ZM137.80,295.80 L139.61,299.03 L136.00,299.03ZM139.92,295.86 L141.73,299.09 L138.12,299.09ZM142.04,295.46 L143.84,298.69 L140.23,298.69ZM144.16,295.85 L145.97,299.08 L142.35,299.08ZM146.28,295.88 L148.09,299.11 L144.47,299.11ZM148.40,295.71 L150.21,298.94 L146.59,298.94ZM150.52,295.52 L152.33,298.75 L148.72,298.75ZM152.64,295.91 L154.45,299.14 L150.84,299.14ZM154.76,295.74 L156.56,298.97 L152.95,298.97ZM156.88,295.72 L158.69,298.95 L155.07,298.95ZM159.00,295.36 L160.81,298.59 L157.19,298.59ZM161.12,295.62 L162.93,298.85 L159.31,298.85ZM163.24,295.32 L165.05,298.55 L161.44,298.55ZM165.36,295.77 L167.17,299.00 L163.56,299.00ZM167.48,295.64 L169.29,298.87 L165.68,298.87ZM169.60,295.41 L171.41,298.64 L167.79,298.64ZM171.72,295.23 L173.53,298.46 L169.91,298.46ZM173.84,298.44 L175.65,301.67 L172.03,301.67ZM175.96,295.86 L177.77,299.09 L174.16,299.09ZM178.08,296.06 L179.89,299.29 L176.28,299.29ZM180.20,295.92 L182.01,299.15 L178.40,299.15ZM182.32,296.28 L184.13,299.51 L180.52,299.51ZM184.44,296.00 L186.25,299.23 L182.64,299.23ZM186.56,296.11 L188.37,299.34 L184.75,299.34ZM188.68,296.69 L190.49,299.92 L186.88,299.92ZM190.80,296.76 L192.61,299.99 L189.00,299.99ZM192.92,296.53 L194.73,299.76 L191.12,299.76ZM195.04,296.78 L196.85,300.01 L193.24,300.01ZM197.16,296.80 L198.97,300.03 L195.36,300.03ZM199.28,297.25 L201.09,300.48 L197.47,300.48ZM201.40,297.53 L203.21,300.76 L199.59,300.76ZM203.52,297.56 L205.33,300.79 L201.72,300.79ZM205.64,297.35 L207.45,300.58 L203.84,300.58ZM207.76,297.94 L209.57,301.17 L205.96,301.17ZM209.88,298.13 L211.69,301.36 L208.08,301.36ZM212.00,298.32 L213.81,301.55 L210.20,301.55ZM214.12,298.55 L215.93,301.78 L212.31,301.78ZM216.24,298.80 L218.05,302.03 L214.44,302.03ZM218.36,298.68 L220.17,301.91 L216.56,301.91ZM220.48,299.44 L222.29,302.67 L218.68,302.67ZM222.60,299.78 L224.41,303.01 L220.80,303.01ZM224.72,299.38 L226.53,302.61 L222.92,302.61ZM226.84,299.66 L228.65,302.89 L225.03,302.89ZM228.96,299.82 L230.77,303.05 L227.16,303.05ZM231.08,300.44 L232.89,303.67 L229.28,303.67ZM233.20,300.32 L235.01,303.55 L231.40,303.55ZM235.32,300.63 L237.13,303.86 L233.52,303.86ZM237.44,301.40 L239.25,304.63 L235.64,304.63ZM239.56,301.33 L241.37,304.56 L237.75,304.56ZM241.68,301.56 L243.49,304.79 L239.88,304.79ZM243.80,301.97 L245.61,305.20 L242.00,305.20ZM245.92,302.36 L247.73,305.59 L244.12,305.59ZM248.04,302.81 L249.85,306.04 L246.24,306.04ZM250.16,303.06 L251.97,306.29 L248.36,306.29ZM252.28,303.43 L254.09,306.66 L250.48,306.66ZM254.40,303.83 L256.20,307.06 L252.59,307.06Z" fill="#fff" fill-opacity="0.6" stroke="#ff9a40" stroke-width="0.6" opacity="1"/>
<path d="M44.52,279.87 L46.64,300.52 L48.76,294.86 L50.88,295.21 L53.00,293.91 L55.12,294.13 L57.24,293.89 L59.36,293.93 L61.48,293.93 L63.60,294.26 L65.72,294.84 L67.84,294.10 L69.96,294.69 L72.08,294.56 L74.20,294.19 L76.32,294.34 L78.44,294.46 L80.56,293.92 L82.68,294.26 L84.80,294.54 L86.92,294.64 L89.04,294.02 L91.16,294.41 L93.28,294.11 L95.40,294.55 L97.52,294.71 L99.64,294.37 L101.76,294.09 L103.88,294.75 L106.00,294.12 L108.12,293.99 L110.24,294.11 L112.36,294.10 L114.48,294.94 L116.60,294.31 L118.72,294.07 L120.84,294.91 L122.96,294.69 L125.08,294.69 L127.20,294.43 L129.32,294.54 L131.44,294.49 L133.56,294.19 L135.68,294.99 L137.80,294.94 L139.92,294.87 L142.04,294.87 L144.16,294.93 L146.28,294.02 L148.40,294.15 L150.52,294.96 L152.64,294.54 L154.76,294.75 L156.88,294.76 L159.00,294.74 L161.12,294.45 L163.24,294.52 L165.36,294.77 L167.48,294.95 L169.60,294.82 L171.72,295.05 L173.84,298.03 L175.96,294.78 L178.08,295.23 L180.20,295.64 L182.32,295.64 L184.44,295.54 L186.56,295.41 L188.68,295.33 L190.80,295.85 L192.92,295.52 L195.04,295.80 L197.16,296.10 L199.28,296.27 L201.40,296.24 L203.52,296.14 L205.64,296.53 L207.76,296.36 L209.88,296.70 L212.00,297.03 L214.12,296.84 L216.24,296.78 L218.36,297.52 L220.48,297.26 L222.60,297.37 L224.72,297.01 L226.84,297.22 L228.96,298.06 L231.08,297.79 L233.20,298.16 L235.32,298.97 L237.44,299.03 L239.56,299.65 L241.68,299.20 L243.80,299.63 L245.92,299.74 L248.04,300.18 L250.16,300.65 L252.28,300.92 L254.40,301.44" fill="none" stroke="#ff7f10" stroke-width="0.9" opacity="1"/>
<path d="M44.52,277.37 L46.89,281.62 L42.14,281.62ZM46.64,298.02 L49.02,302.27 L44.27,302.27ZM48.76,292.36 L51.13,296.61 L46.38,296.61ZM50.88,292.71 L53.25,296.96 L48.50,296.96ZM53.00,291.41 L55.38,295.66 L50.62,295.66ZM55.12,291.63 L57.49,295.88 L52.74,295.88ZM57.24,291.39 L59.61,295.64 L54.86,295.64ZM59.36,291.43 L61.73,295.68 L56.98,295.68ZM61.48,291.43 L63.86,295.68 L59.11,295.68ZM63.60,291.76 L65.97,296.01 L61.23,296.01ZM65.72,292.34 L68.09,296.59 L63.34,296.59ZM67.84,291.60 L70.22,295.85 L65.47,295.85ZM69.96,292.19 L72.34,296.44 L67.59,296.44ZM72.08,292.06 L74.45,296.31 L69.70,296.31ZM74.20,291.69 L76.58,295.94 L71.83,295.94ZM76.32,291.84 L78.69,296.09 L73.94,296.09ZM78.44,291.96 L80.81,296.21 L76.06,296.21ZM80.56,291.42 L82.94,295.67 L78.19,295.67ZM82.68,291.76 L85.06,296.01 L80.31,296.01ZM84.80,292.04 L87.18,296.29 L82.43,296.29ZM86.92,292.14 L89.30,296.39 L84.55,296.39ZM89.04,291.52 L91.41,295.77 L86.66,295.77ZM91.16,291.91 L93.53,296.16 L88.78,296.16ZM93.28,291.61 L95.66,295.86 L90.91,295.86ZM95.40,292.05 L97.78,296.30 L93.03,296.30ZM97.52,292.21 L99.90,296.46 L95.15,296.46ZM99.64,291.87 L102.02,296.12 L97.27,296.12ZM101.76,291.59 L104.13,295.84 L99.38,295.84ZM103.88,292.25 L106.25,296.50 L101.50,296.50ZM106.00,291.62 L108.38,295.87 L103.62,295.87ZM108.12,291.49 L110.50,295.74 L105.75,295.74ZM110.24,291.61 L112.62,295.86 L107.87,295.86ZM112.36,291.60 L114.74,295.85 L109.99,295.85ZM114.48,292.44 L116.85,296.69 L112.10,296.69ZM116.60,291.81 L118.97,296.06 L114.22,296.06ZM118.72,291.57 L121.09,295.82 L116.34,295.82ZM120.84,292.41 L123.22,296.66 L118.47,296.66ZM122.96,292.19 L125.34,296.44 L120.59,296.44ZM125.08,292.19 L127.46,296.44 L122.71,296.44ZM127.20,291.93 L129.58,296.18 L124.83,296.18ZM129.32,292.04 L131.69,296.29 L126.94,296.29ZM131.44,291.99 L133.81,296.24 L129.06,296.24ZM133.56,291.69 L135.94,295.94 L131.19,295.94ZM135.68,292.49 L138.06,296.74 L133.31,296.74ZM137.80,292.44 L140.18,296.69 L135.43,296.69ZM139.92,292.37 L142.30,296.62 L137.55,296.62ZM142.04,292.37 L144.41,296.62 L139.66,296.62ZM144.16,292.43 L146.53,296.68 L141.78,296.68ZM146.28,291.52 L148.66,295.77 L143.91,295.77ZM148.40,291.65 L150.78,295.90 L146.03,295.90ZM150.52,292.46 L152.90,296.71 L148.15,296.71ZM152.64,292.04 L155.02,296.29 L150.27,296.29ZM154.76,292.25 L157.13,296.50 L152.38,296.50ZM156.88,292.26 L159.25,296.51 L154.50,296.51ZM159.00,292.24 L161.38,296.49 L156.62,296.49ZM161.12,291.95 L163.50,296.20 L158.75,296.20ZM163.24,292.02 L165.62,296.27 L160.87,296.27ZM165.36,292.27 L167.74,296.52 L162.99,296.52ZM167.48,292.45 L169.86,296.70 L165.11,296.70ZM169.60,292.32 L171.97,296.57 L167.22,296.57ZM171.72,292.55 L174.09,296.80 L169.34,296.80ZM173.84,295.53 L176.22,299.78 L171.47,299.78ZM175.96,292.28 L178.34,296.53 L173.59,296.53ZM178.08,292.73 L180.46,296.98 L175.71,296.98ZM180.20,293.14 L182.58,297.39 L177.83,297.39ZM182.32,293.14 L184.70,297.39 L179.95,297.39ZM184.44,293.04 L186.82,297.29 L182.07,297.29ZM186.56,292.91 L188.94,297.16 L184.19,297.16ZM188.68,292.83 L191.06,297.08 L186.31,297.08ZM190.80,293.35 L193.18,297.60 L188.43,297.60ZM192.92,293.02 L195.30,297.27 L190.55,297.27ZM195.04,293.30 L197.42,297.55 L192.67,297.55ZM197.16,293.60 L199.54,297.85 L194.79,297.85ZM199.28,293.77 L201.66,298.02 L196.91,298.02ZM201.40,293.74 L203.78,297.99 L199.03,297.99ZM203.52,293.64 L205.90,297.89 L201.15,297.89ZM205.64,294.03 L208.02,298.28 L203.27,298.28ZM207.76,293.86 L210.14,298.11 L205.39,298.11ZM209.88,294.20 L212.26,298.45 L207.51,298.45ZM212.00,294.53 L214.38,298.78 L209.63,298.78ZM214.12,294.34 L216.50,298.59 L211.75,298.59ZM216.24,294.28 L218.62,298.53 L213.87,298.53ZM218.36,295.02 L220.74,299.27 L215.99,299.27ZM220.48,294.76 L222.86,299.01 L218.11,299.01ZM222.60,294.87 L224.98,299.12 L220.23,299.12ZM224.72,294.51 L227.10,298.76 L222.35,298.76ZM226.84,294.72 L229.22,298.97 L224.47,298.97ZM228.96,295.56 L231.34,299.81 L226.59,299.81ZM231.08,295.29 L233.46,299.54 L228.71,299.54ZM233.20,295.66 L235.58,299.91 L230.83,299.91ZM235.32,296.47 L237.70,300.72 L232.95,300.72ZM237.44,296.53 L239.82,300.78 L235.07,300.78ZM239.56,297.15 L241.94,301.40 L237.19,301.40ZM241.68,296.70 L244.06,300.95 L239.31,300.95ZM243.80,297.13 L246.18,301.38 L241.43,301.38ZM245.92,297.24 L248.30,301.49 L243.55,301.49ZM248.04,297.68 L250.42,301.93 L245.67,301.93ZM250.16,298.15 L252.54,302.40 L247.79,302.40ZM252.28,298.42 L254.66,302.67 L249.91,302.67ZM254.40,298.94 L256.77,303.19 L252.03,303.19Z" fill="#ff7f10" opacity="1"/>
<path d="M44.52,284.33 L46.64,290.84 L48.76,292.83 L50.88,294.34 L53.00,295.50 L55.12,297.14 L57.24,298.25 L59.36,299.38 L61.48,299.70 L63.60,301.04 L65.72,302.00 L67.84,302.29 L69.96,303.28 L72.08,303.27 L74.20,303.88 L76.32,304.25 L78.44,304.66 L80.56,305.41 L82.68,305.74 L84.80,306.44 L86.92,306.12 L89.04,306.47 L91.16,306.51 L93.28,307.10 L95.40,306.84 L97.52,306.89 L99.64,307.66 L101.76,307.66 L103.88,307.67 L106.00,307.67 L108.12,308.25 L110.24,308.47 L112.36,308.60 L114.48,308.52 L116.60,308.60 L118.72,309.03 L120.84,309.22 L122.96,309.38 L125.08,309.59 L127.20,309.72 L129.32,310.12 L131.44,310.02 L133.56,309.87 L135.68,310.43 L137.80,310.38 L139.92,310.96 L142.04,310.77 L144.16,310.90 L146.28,311.18 L148.40,311.50 L150.52,311.74 L152.64,311.84 L154.76,311.89 L156.88,312.61 L159.00,312.87 L161.12,312.64 L163.24,312.74 L165.36,313.23 L167.48,313.49 L169.60,313.52 L171.72,314.10 L173.84,314.26 L175.96,314.52 L178.08,314.48 L180.20,314.88 L182.32,315.15 L184.44,315.05 L186.56,315.01 L188.68,315.60 L190.80,315.45 L192.92,315.79 L195.04,315.62 L197.16,315.94 L199.28,316.30 L201.40,316.47 L203.52,316.74 L205.64,316.56 L207.76,316.82 L209.88,317.15 L212.00,317.22 L214.12,317.43 L216.24,317.31 L218.36,317.93 L220.48,317.54 L222.60,318.08 L224.72,318.19 L226.84,318.59 L228.96,318.64 L231.08,318.96 L233.20,319.44 L235.32,319.80 L237.44,319.94 L239.56,320.15 L241.68,320.77 L243.80,320.85 L245.92,321.00 L248.04,321.64 L250.16,322.11 L252.28,322.41 L254.40,322.39" fill="none" stroke="#5ab89a" stroke-width="0.9" opacity="1"/>
<path d="M44.52,282.23 L46.62,284.33 L44.52,286.43 L42.42,284.33ZM46.64,288.74 L48.74,290.84 L46.64,292.94 L44.54,290.84ZM48.76,290.73 L50.86,292.83 L48.76,294.93 L46.66,292.83ZM50.88,292.24 L52.98,294.34 L50.88,296.44 L48.78,294.34ZM53.00,293.40 L55.10,295.50 L53.00,297.60 L50.90,295.50ZM55.12,295.04 L57.22,297.14 L55.12,299.24 L53.02,297.14ZM57.24,296.15 L59.34,298.25 L57.24,300.35 L55.14,298.25ZM59.36,297.28 L61.46,299.38 L59.36,301.48 L57.26,299.38ZM61.48,297.60 L63.58,299.70 L61.48,301.80 L59.38,299.70ZM63.60,298.94 L65.70,301.04 L63.60,303.14 L61.50,301.04ZM65.72,299.90 L67.82,302.00 L65.72,304.10 L63.62,302.00ZM67.84,300.19 L69.94,302.29 L67.84,304.39 L65.74,302.29ZM69.96,301.18 L72.06,303.28 L69.96,305.38 L67.86,303.28ZM72.08,301.17 L74.18,303.27 L72.08,305.37 L69.98,303.27ZM74.20,301.78 L76.30,303.88 L74.20,305.98 L72.10,303.88ZM76.32,302.15 L78.42,304.25 L76.32,306.35 L74.22,304.25ZM78.44,302.56 L80.54,304.66 L78.44,306.76 L76.34,304.66ZM80.56,303.31 L82.66,305.41 L80.56,307.51 L78.46,305.41ZM82.68,303.64 L84.78,305.74 L82.68,307.84 L80.58,305.74ZM84.80,304.34 L86.90,306.44 L84.80,308.54 L82.70,306.44ZM86.92,304.02 L89.02,306.12 L86.92,308.22 L84.82,306.12ZM89.04,304.37 L91.14,306.47 L89.04,308.57 L86.94,306.47ZM91.16,304.41 L93.26,306.51 L91.16,308.61 L89.06,306.51ZM93.28,305.00 L95.38,307.10 L93.28,309.20 L91.18,307.10ZM95.40,304.74 L97.50,306.84 L95.40,308.94 L93.30,306.84ZM97.52,304.79 L99.62,306.89 L97.52,308.99 L95.42,306.89ZM99.64,305.56 L101.74,307.66 L99.64,309.76 L97.54,307.66ZM101.76,305.56 L103.86,307.66 L101.76,309.76 L99.66,307.66ZM103.88,305.57 L105.98,307.67 L103.88,309.77 L101.78,307.67ZM106.00,305.57 L108.10,307.67 L106.00,309.77 L103.90,307.67ZM108.12,306.15 L110.22,308.25 L108.12,310.35 L106.02,308.25ZM110.24,306.37 L112.34,308.47 L110.24,310.57 L108.14,308.47ZM112.36,306.50 L114.46,308.60 L112.36,310.70 L110.26,308.60ZM114.48,306.42 L116.58,308.52 L114.48,310.62 L112.38,308.52ZM116.60,306.50 L118.70,308.60 L116.60,310.70 L114.50,308.60ZM118.72,306.93 L120.82,309.03 L118.72,311.13 L116.62,309.03ZM120.84,307.12 L122.94,309.22 L120.84,311.32 L118.74,309.22ZM122.96,307.28 L125.06,309.38 L122.96,311.48 L120.86,309.38ZM125.08,307.49 L127.18,309.59 L125.08,311.69 L122.98,309.59ZM127.20,307.62 L129.30,309.72 L127.20,311.82 L125.10,309.72ZM129.32,308.02 L131.42,310.12 L129.32,312.22 L127.22,310.12ZM131.44,307.92 L133.54,310.02 L131.44,312.12 L129.34,310.02ZM133.56,307.77 L135.66,309.87 L133.56,311.97 L131.46,309.87ZM135.68,308.33 L137.78,310.43 L135.68,312.53 L133.58,310.43ZM137.80,308.28 L139.90,310.38 L137.80,312.48 L135.70,310.38ZM139.92,308.86 L142.02,310.96 L139.92,313.06 L137.82,310.96ZM142.04,308.67 L144.14,310.77 L142.04,312.87 L139.94,310.77ZM144.16,308.80 L146.26,310.90 L144.16,313.00 L142.06,310.90ZM146.28,309.08 L148.38,311.18 L146.28,313.28 L144.18,311.18ZM148.40,309.40 L150.50,311.50 L148.40,313.60 L146.30,311.50ZM150.52,309.64 L152.62,311.74 L150.52,313.84 L148.42,311.74ZM152.64,309.74 L154.74,311.84 L152.64,313.94 L150.54,311.84ZM154.76,309.79 L156.86,311.89 L154.76,313.99 L152.66,311.89ZM156.88,310.51 L158.98,312.61 L156.88,314.71 L154.78,312.61ZM159.00,310.77 L161.10,312.87 L159.00,314.97 L156.90,312.87ZM161.12,310.54 L163.22,312.64 L161.12,314.74 L159.02,312.64ZM163.24,310.64 L165.34,312.74 L163.24,314.84 L161.14,312.74ZM165.36,311.13 L167.46,313.23 L165.36,315.33 L163.26,313.23ZM167.48,311.39 L169.58,313.49 L167.48,315.59 L165.38,313.49ZM169.60,311.42 L171.70,313.52 L169.60,315.62 L167.50,313.52ZM171.72,312.00 L173.82,314.10 L171.72,316.20 L169.62,314.10ZM173.84,312.16 L175.94,314.26 L173.84,316.36 L171.74,314.26ZM175.96,312.42 L178.06,314.52 L175.96,316.62 L173.86,314.52ZM178.08,312.38 L180.18,314.48 L178.08,316.58 L175.98,314.48ZM180.20,312.78 L182.30,314.88 L180.20,316.98 L178.10,314.88ZM182.32,313.05 L184.42,315.15 L182.32,317.25 L180.22,315.15ZM184.44,312.95 L186.54,315.05 L184.44,317.15 L182.34,315.05ZM186.56,312.91 L188.66,315.01 L186.56,317.11 L184.46,315.01ZM188.68,313.50 L190.78,315.60 L188.68,317.70 L186.58,315.60ZM190.80,313.35 L192.90,315.45 L190.80,317.55 L188.70,315.45ZM192.92,313.69 L195.02,315.79 L192.92,317.89 L190.82,315.79ZM195.04,313.52 L197.14,315.62 L195.04,317.72 L192.94,315.62ZM197.16,313.84 L199.26,315.94 L197.16,318.04 L195.06,315.94ZM199.28,314.20 L201.38,316.30 L199.28,318.40 L197.18,316.30ZM201.40,314.37 L203.50,316.47 L201.40,318.57 L199.30,316.47ZM203.52,314.64 L205.62,316.74 L203.52,318.84 L201.42,316.74ZM205.64,314.46 L207.74,316.56 L205.64,318.66 L203.54,316.56ZM207.76,314.72 L209.86,316.82 L207.76,318.92 L205.66,316.82ZM209.88,315.05 L211.98,317.15 L209.88,319.25 L207.78,317.15ZM212.00,315.12 L214.10,317.22 L212.00,319.32 L209.90,317.22ZM214.12,315.33 L216.22,317.43 L214.12,319.53 L212.02,317.43ZM216.24,315.21 L218.34,317.31 L216.24,319.41 L214.14,317.31ZM218.36,315.83 L220.46,317.93 L218.36,320.03 L216.26,317.93ZM220.48,315.44 L222.58,317.54 L220.48,319.64 L218.38,317.54ZM222.60,315.98 L224.70,318.08 L222.60,320.18 L220.50,318.08ZM224.72,316.09 L226.82,318.19 L224.72,320.29 L222.62,318.19ZM226.84,316.49 L228.94,318.59 L226.84,320.69 L224.74,318.59ZM228.96,316.54 L231.06,318.64 L228.96,320.74 L226.86,318.64ZM231.08,316.86 L233.18,318.96 L231.08,321.06 L228.98,318.96ZM233.20,317.34 L235.30,319.44 L233.20,321.54 L231.10,319.44ZM235.32,317.70 L237.42,319.80 L235.32,321.90 L233.22,319.80ZM237.44,317.84 L239.54,319.94 L237.44,322.04 L235.34,319.94ZM239.56,318.05 L241.66,320.15 L239.56,322.25 L237.46,320.15ZM241.68,318.67 L243.78,320.77 L241.68,322.87 L239.58,320.77ZM243.80,318.75 L245.90,320.85 L243.80,322.95 L241.70,320.85ZM245.92,318.90 L248.02,321.00 L245.92,323.10 L243.82,321.00ZM248.04,319.54 L250.14,321.64 L248.04,323.74 L245.94,321.64ZM250.16,320.01 L252.26,322.11 L250.16,324.21 L248.06,322.11ZM252.28,320.31 L254.38,322.41 L252.28,324.51 L250.18,322.41ZM254.40,320.29 L256.50,322.39 L254.40,324.49 L252.30,322.39Z" fill="#fff" fill-opacity="0.6" stroke="#5ab89a" stroke-width="0.7" opacity="1"/>
<path d="M44.52,257.72 L46.64,273.33 L48.76,280.28 L50.88,285.18 L53.00,288.65 L55.12,291.49 L57.24,293.79 L59.36,295.48 L61.48,297.03 L63.60,298.70 L65.72,300.51 L67.84,301.04 L69.96,302.76 L72.08,303.80 L74.20,304.07 L76.32,305.31 L78.44,305.89 L80.56,305.71 L82.68,306.85 L84.80,306.99 L86.92,306.97 L89.04,307.08 L91.16,307.97 L93.28,307.85 L95.40,307.95 L97.52,308.11 L99.64,308.60 L101.76,308.43 L103.88,308.15 L106.00,308.83 L108.12,308.78 L110.24,309.31 L112.36,309.26 L114.48,308.96 L116.60,309.63 L118.72,308.94 L120.84,309.02 L122.96,309.95 L125.08,309.17 L127.20,309.84 L129.32,309.52 L131.44,309.62 L133.56,310.18 L135.68,309.87 L137.80,309.98 L139.92,309.91 L142.04,310.55 L144.16,310.13 L146.28,310.01 L148.40,310.39 L150.52,310.64 L152.64,311.18 L154.76,310.90 L156.88,311.16 L159.00,310.89 L161.12,311.05 L163.24,311.27 L165.36,311.78 L167.48,311.41 L169.60,311.54 L171.72,312.11 L173.84,311.49 L175.96,311.84 L178.08,312.50 L180.20,311.78 L182.32,312.70 L184.44,312.62 L186.56,312.38 L188.68,312.67 L190.80,312.88 L192.92,312.94 L195.04,313.30 L197.16,313.61 L199.28,313.91 L201.40,314.18 L203.52,313.68 L205.64,313.80 L207.76,314.18 L209.88,314.14 L212.00,314.70 L214.12,314.95 L216.24,315.00 L218.36,314.66 L220.48,315.67 L222.60,315.36 L224.72,315.78 L226.84,315.46 L228.96,316.09 L231.08,316.32 L233.20,316.45 L235.32,316.52 L237.44,316.49 L239.56,317.13 L241.68,316.83 L243.80,317.79 L245.92,317.84 L248.04,318.22 L250.16,318.41 L252.28,317.94 L254.40,318.20" fill="none" stroke="#13906a" stroke-width="0.9" opacity="1"/>
<path d="M44.52,255.22 L47.02,257.72 L44.52,260.22 L42.02,257.72ZM46.64,270.83 L49.14,273.33 L46.64,275.83 L44.14,273.33ZM48.76,277.78 L51.26,280.28 L48.76,282.78 L46.26,280.28ZM50.88,282.68 L53.38,285.18 L50.88,287.68 L48.38,285.18ZM53.00,286.15 L55.50,288.65 L53.00,291.15 L50.50,288.65ZM55.12,288.99 L57.62,291.49 L55.12,293.99 L52.62,291.49ZM57.24,291.29 L59.74,293.79 L57.24,296.29 L54.74,293.79ZM59.36,292.98 L61.86,295.48 L59.36,297.98 L56.86,295.48ZM61.48,294.53 L63.98,297.03 L61.48,299.53 L58.98,297.03ZM63.60,296.20 L66.10,298.70 L63.60,301.20 L61.10,298.70ZM65.72,298.01 L68.22,300.51 L65.72,303.01 L63.22,300.51ZM67.84,298.54 L70.34,301.04 L67.84,303.54 L65.34,301.04ZM69.96,300.26 L72.46,302.76 L69.96,305.26 L67.46,302.76ZM72.08,301.30 L74.58,303.80 L72.08,306.30 L69.58,303.80ZM74.20,301.57 L76.70,304.07 L74.20,306.57 L71.70,304.07ZM76.32,302.81 L78.82,305.31 L76.32,307.81 L73.82,305.31ZM78.44,303.39 L80.94,305.89 L78.44,308.39 L75.94,305.89ZM80.56,303.21 L83.06,305.71 L80.56,308.21 L78.06,305.71ZM82.68,304.35 L85.18,306.85 L82.68,309.35 L80.18,306.85ZM84.80,304.49 L87.30,306.99 L84.80,309.49 L82.30,306.99ZM86.92,304.47 L89.42,306.97 L86.92,309.47 L84.42,306.97ZM89.04,304.58 L91.54,307.08 L89.04,309.58 L86.54,307.08ZM91.16,305.47 L93.66,307.97 L91.16,310.47 L88.66,307.97ZM93.28,305.35 L95.78,307.85 L93.28,310.35 L90.78,307.85ZM95.40,305.45 L97.90,307.95 L95.40,310.45 L92.90,307.95ZM97.52,305.61 L100.02,308.11 L97.52,310.61 L95.02,308.11ZM99.64,306.10 L102.14,308.60 L99.64,311.10 L97.14,308.60ZM101.76,305.93 L104.26,308.43 L101.76,310.93 L99.26,308.43ZM103.88,305.65 L106.38,308.15 L103.88,310.65 L101.38,308.15ZM106.00,306.33 L108.50,308.83 L106.00,311.33 L103.50,308.83ZM108.12,306.28 L110.62,308.78 L108.12,311.28 L105.62,308.78ZM110.24,306.81 L112.74,309.31 L110.24,311.81 L107.74,309.31ZM112.36,306.76 L114.86,309.26 L112.36,311.76 L109.86,309.26ZM114.48,306.46 L116.98,308.96 L114.48,311.46 L111.98,308.96ZM116.60,307.13 L119.10,309.63 L116.60,312.13 L114.10,309.63ZM118.72,306.44 L121.22,308.94 L118.72,311.44 L116.22,308.94ZM120.84,306.52 L123.34,309.02 L120.84,311.52 L118.34,309.02ZM122.96,307.45 L125.46,309.95 L122.96,312.45 L120.46,309.95ZM125.08,306.67 L127.58,309.17 L125.08,311.67 L122.58,309.17ZM127.20,307.34 L129.70,309.84 L127.20,312.34 L124.70,309.84ZM129.32,307.02 L131.82,309.52 L129.32,312.02 L126.82,309.52ZM131.44,307.12 L133.94,309.62 L131.44,312.12 L128.94,309.62ZM133.56,307.68 L136.06,310.18 L133.56,312.68 L131.06,310.18ZM135.68,307.37 L138.18,309.87 L135.68,312.37 L133.18,309.87ZM137.80,307.48 L140.30,309.98 L137.80,312.48 L135.30,309.98ZM139.92,307.41 L142.42,309.91 L139.92,312.41 L137.42,309.91ZM142.04,308.05 L144.54,310.55 L142.04,313.05 L139.54,310.55ZM144.16,307.63 L146.66,310.13 L144.16,312.63 L141.66,310.13ZM146.28,307.51 L148.78,310.01 L146.28,312.51 L143.78,310.01ZM148.40,307.89 L150.90,310.39 L148.40,312.89 L145.90,310.39ZM150.52,308.14 L153.02,310.64 L150.52,313.14 L148.02,310.64ZM152.64,308.68 L155.14,311.18 L152.64,313.68 L150.14,311.18ZM154.76,308.40 L157.26,310.90 L154.76,313.40 L152.26,310.90ZM156.88,308.66 L159.38,311.16 L156.88,313.66 L154.38,311.16ZM159.00,308.39 L161.50,310.89 L159.00,313.39 L156.50,310.89ZM161.12,308.55 L163.62,311.05 L161.12,313.55 L158.62,311.05ZM163.24,308.77 L165.74,311.27 L163.24,313.77 L160.74,311.27ZM165.36,309.28 L167.86,311.78 L165.36,314.28 L162.86,311.78ZM167.48,308.91 L169.98,311.41 L167.48,313.91 L164.98,311.41ZM169.60,309.04 L172.10,311.54 L169.60,314.04 L167.10,311.54ZM171.72,309.61 L174.22,312.11 L171.72,314.61 L169.22,312.11ZM173.84,308.99 L176.34,311.49 L173.84,313.99 L171.34,311.49ZM175.96,309.34 L178.46,311.84 L175.96,314.34 L173.46,311.84ZM178.08,310.00 L180.58,312.50 L178.08,315.00 L175.58,312.50ZM180.20,309.28 L182.70,311.78 L180.20,314.28 L177.70,311.78ZM182.32,310.20 L184.82,312.70 L182.32,315.20 L179.82,312.70ZM184.44,310.12 L186.94,312.62 L184.44,315.12 L181.94,312.62ZM186.56,309.88 L189.06,312.38 L186.56,314.88 L184.06,312.38ZM188.68,310.17 L191.18,312.67 L188.68,315.17 L186.18,312.67ZM190.80,310.38 L193.30,312.88 L190.80,315.38 L188.30,312.88ZM192.92,310.44 L195.42,312.94 L192.92,315.44 L190.42,312.94ZM195.04,310.80 L197.54,313.30 L195.04,315.80 L192.54,313.30ZM197.16,311.11 L199.66,313.61 L197.16,316.11 L194.66,313.61ZM199.28,311.41 L201.78,313.91 L199.28,316.41 L196.78,313.91ZM201.40,311.68 L203.90,314.18 L201.40,316.68 L198.90,314.18ZM203.52,311.18 L206.02,313.68 L203.52,316.18 L201.02,313.68ZM205.64,311.30 L208.14,313.80 L205.64,316.30 L203.14,313.80ZM207.76,311.68 L210.26,314.18 L207.76,316.68 L205.26,314.18ZM209.88,311.64 L212.38,314.14 L209.88,316.64 L207.38,314.14ZM212.00,312.20 L214.50,314.70 L212.00,317.20 L209.50,314.70ZM214.12,312.45 L216.62,314.95 L214.12,317.45 L211.62,314.95ZM216.24,312.50 L218.74,315.00 L216.24,317.50 L213.74,315.00ZM218.36,312.16 L220.86,314.66 L218.36,317.16 L215.86,314.66ZM220.48,313.17 L222.98,315.67 L220.48,318.17 L217.98,315.67ZM222.60,312.86 L225.10,315.36 L222.60,317.86 L220.10,315.36ZM224.72,313.28 L227.22,315.78 L224.72,318.28 L222.22,315.78ZM226.84,312.96 L229.34,315.46 L226.84,317.96 L224.34,315.46ZM228.96,313.59 L231.46,316.09 L228.96,318.59 L226.46,316.09ZM231.08,313.82 L233.58,316.32 L231.08,318.82 L228.58,316.32ZM233.20,313.95 L235.70,316.45 L233.20,318.95 L230.70,316.45ZM235.32,314.02 L237.82,316.52 L235.32,319.02 L232.82,316.52ZM237.44,313.99 L239.94,316.49 L237.44,318.99 L234.94,316.49ZM239.56,314.63 L242.06,317.13 L239.56,319.63 L237.06,317.13ZM241.68,314.33 L244.18,316.83 L241.68,319.33 L239.18,316.83ZM243.80,315.29 L246.30,317.79 L243.80,320.29 L241.30,317.79ZM245.92,315.34 L248.42,317.84 L245.92,320.34 L243.42,317.84ZM248.04,315.72 L250.54,318.22 L248.04,320.72 L245.54,318.22ZM250.16,315.91 L252.66,318.41 L250.16,320.91 L247.66,318.41ZM252.28,315.44 L254.78,317.94 L252.28,320.44 L249.78,317.94ZM254.40,315.70 L256.90,318.20 L254.40,320.70 L251.90,318.20Z" fill="#13906a" opacity="1"/>
<path d="M44.52,309.41 L46.64,310.52 L48.76,311.48 L50.88,311.30 L53.00,311.30 L55.12,311.40 L57.24,311.55 L59.36,311.91 L61.48,311.78 L63.60,311.97 L65.72,311.87 L67.84,311.96 L69.96,312.34 L72.08,312.43 L74.20,312.19 L76.32,312.82 L78.44,312.42 L80.56,312.48 L82.68,312.57 L84.80,313.08 L86.92,313.08 L89.04,313.19 L91.16,313.28 L93.28,313.16 L95.40,313.49 L97.52,313.88 L99.64,313.62 L101.76,314.00 L103.88,314.04 L106.00,314.09 L108.12,314.71 L110.24,314.31 L112.36,314.52 L114.48,314.76 L116.60,314.87 L118.72,315.04 L120.84,315.35 L122.96,315.25 L125.08,315.71 L127.20,315.52 L129.32,315.55 L131.44,315.82 L133.56,315.86 L135.68,315.72 L137.80,315.90 L139.92,316.54 L142.04,316.22 L144.16,316.47 L146.28,317.03 L148.40,316.99 L150.52,317.25 L152.64,317.52 L154.76,317.38 L156.88,317.28 L159.00,317.87 L161.12,317.66 L163.24,317.96 L165.36,318.51 L167.48,318.32 L169.60,318.80 L171.72,318.89 L173.84,319.34 L175.96,319.63 L178.08,320.20 L180.20,320.19 L182.32,320.41 L184.44,320.77 L186.56,321.36 L188.68,321.45 L190.80,321.94 L192.92,322.51 L195.04,322.86 L197.16,323.14 L199.28,323.36 L201.40,323.69 L203.52,323.77 L205.64,323.94 L207.76,325.21 L209.88,326.45 L212.00,327.46 L214.12,328.86 L216.24,329.92 L218.36,330.88 L220.48,332.29 L222.60,334.36 L224.72,335.99 L226.84,338.22 L228.96,340.58 L231.08,344.27 L233.20,347.85 L235.32,351.49 L237.44,355.35 L239.56,358.73 L241.68,361.83 L243.80,364.67 L245.92,368.57 L248.04,372.04 L250.16,375.92 L252.28,379.60 L254.40,381.76" fill="none" stroke="#a860dc" stroke-width="0.9" opacity="1"/>
<path d="M44.52,307.01 L45.15,308.54 L46.80,308.67 L45.55,309.75 L45.93,311.35 L44.52,310.49 L43.11,311.35 L43.49,309.75 L42.24,308.67 L43.89,308.54ZM46.64,308.12 L47.27,309.65 L48.92,309.78 L47.67,310.85 L48.05,312.46 L46.64,311.60 L45.23,312.46 L45.61,310.85 L44.36,309.78 L46.01,309.65ZM48.76,309.08 L49.39,310.60 L51.04,310.74 L49.79,311.81 L50.17,313.42 L48.76,312.56 L47.35,313.42 L47.73,311.81 L46.48,310.74 L48.13,310.60ZM50.88,308.90 L51.51,310.43 L53.16,310.56 L51.91,311.64 L52.29,313.24 L50.88,312.38 L49.47,313.24 L49.85,311.64 L48.60,310.56 L50.25,310.43ZM53.00,308.90 L53.63,310.43 L55.28,310.56 L54.03,311.64 L54.41,313.24 L53.00,312.38 L51.59,313.24 L51.97,311.64 L50.72,310.56 L52.37,310.43ZM55.12,309.00 L55.75,310.52 L57.40,310.65 L56.15,311.73 L56.53,313.34 L55.12,312.48 L53.71,313.34 L54.09,311.73 L52.84,310.65 L54.49,310.52ZM57.24,309.15 L57.87,310.68 L59.52,310.81 L58.27,311.89 L58.65,313.49 L57.24,312.63 L55.83,313.49 L56.21,311.89 L54.96,310.81 L56.61,310.68ZM59.36,309.51 L59.99,311.03 L61.64,311.16 L60.39,312.24 L60.77,313.85 L59.36,312.99 L57.95,313.85 L58.33,312.24 L57.08,311.16 L58.73,311.03ZM61.48,309.38 L62.11,310.91 L63.76,311.04 L62.51,312.12 L62.89,313.72 L61.48,312.86 L60.07,313.72 L60.45,312.12 L59.20,311.04 L60.85,310.91ZM63.60,309.57 L64.23,311.10 L65.88,311.23 L64.63,312.31 L65.01,313.91 L63.60,313.05 L62.19,313.91 L62.57,312.31 L61.32,311.23 L62.97,311.10ZM65.72,309.47 L66.35,310.99 L68.00,311.12 L66.75,312.20 L67.13,313.81 L65.72,312.95 L64.31,313.81 L64.69,312.20 L63.44,311.12 L65.09,310.99ZM67.84,309.56 L68.47,311.09 L70.12,311.22 L68.87,312.30 L69.25,313.90 L67.84,313.04 L66.43,313.90 L66.81,312.30 L65.56,311.22 L67.21,311.09ZM69.96,309.94 L70.59,311.46 L72.24,311.59 L70.99,312.67 L71.37,314.28 L69.96,313.42 L68.55,314.28 L68.93,312.67 L67.68,311.59 L69.33,311.46ZM72.08,310.03 L72.71,311.55 L74.36,311.69 L73.11,312.76 L73.49,314.37 L72.08,313.51 L70.67,314.37 L71.05,312.76 L69.80,311.69 L71.45,311.55ZM74.20,309.79 L74.83,311.31 L76.48,311.45 L75.23,312.52 L75.61,314.13 L74.20,313.27 L72.79,314.13 L73.17,312.52 L71.92,311.45 L73.57,311.31ZM76.32,310.42 L76.95,311.95 L78.60,312.08 L77.35,313.16 L77.73,314.77 L76.32,313.90 L74.91,314.77 L75.29,313.16 L74.04,312.08 L75.69,311.95ZM78.44,310.02 L79.07,311.55 L80.72,311.68 L79.47,312.75 L79.85,314.36 L78.44,313.50 L77.03,314.36 L77.41,312.75 L76.16,311.68 L77.81,311.55ZM80.56,310.08 L81.19,311.61 L82.84,311.74 L81.59,312.82 L81.97,314.42 L80.56,313.56 L79.15,314.42 L79.53,312.82 L78.28,311.74 L79.93,311.61ZM82.68,310.17 L83.31,311.69 L84.96,311.82 L83.71,312.90 L84.09,314.51 L82.68,313.65 L81.27,314.51 L81.65,312.90 L80.40,311.82 L82.05,311.69ZM84.80,310.68 L85.43,312.20 L87.08,312.34 L85.83,313.41 L86.21,315.02 L84.80,314.16 L83.39,315.02 L83.77,313.41 L82.52,312.34 L84.17,312.20ZM86.92,310.68 L87.55,312.21 L89.20,312.34 L87.95,313.42 L88.33,315.03 L86.92,314.16 L85.51,315.03 L85.89,313.42 L84.64,312.34 L86.29,312.21ZM89.04,310.79 L89.67,312.31 L91.32,312.45 L90.07,313.52 L90.45,315.13 L89.04,314.27 L87.63,315.13 L88.01,313.52 L86.76,312.45 L88.41,312.31ZM91.16,310.88 L91.79,312.40 L93.44,312.53 L92.19,313.61 L92.57,315.22 L91.16,314.36 L89.75,315.22 L90.13,313.61 L88.88,312.53 L90.53,312.40ZM93.28,310.76 L93.91,312.29 L95.56,312.42 L94.31,313.50 L94.69,315.11 L93.28,314.24 L91.87,315.11 L92.25,313.50 L91.00,312.42 L92.65,312.29ZM95.40,311.09 L96.03,312.61 L97.68,312.75 L96.43,313.82 L96.81,315.43 L95.40,314.57 L93.99,315.43 L94.37,313.82 L93.12,312.75 L94.77,312.61ZM97.52,311.48 L98.15,313.00 L99.80,313.13 L98.55,314.21 L98.93,315.82 L97.52,314.96 L96.11,315.82 L96.49,314.21 L95.24,313.13 L96.89,313.00ZM99.64,311.22 L100.27,312.74 L101.92,312.87 L100.67,313.95 L101.05,315.56 L99.64,314.70 L98.23,315.56 L98.61,313.95 L97.36,312.87 L99.01,312.74ZM101.76,311.60 L102.39,313.12 L104.04,313.25 L102.79,314.33 L103.17,315.94 L101.76,315.08 L100.35,315.94 L100.73,314.33 L99.48,313.25 L101.13,313.12ZM103.88,311.64 L104.51,313.17 L106.16,313.30 L104.91,314.38 L105.29,315.99 L103.88,315.12 L102.47,315.99 L102.85,314.38 L101.60,313.30 L103.25,313.17ZM106.00,311.69 L106.63,313.21 L108.28,313.34 L107.03,314.42 L107.41,316.03 L106.00,315.17 L104.59,316.03 L104.97,314.42 L103.72,313.34 L105.37,313.21ZM108.12,312.31 L108.75,313.84 L110.40,313.97 L109.15,315.04 L109.53,316.65 L108.12,315.79 L106.71,316.65 L107.09,315.04 L105.84,313.97 L107.49,313.84ZM110.24,311.91 L110.87,313.44 L112.52,313.57 L111.27,314.65 L111.65,316.25 L110.24,315.39 L108.83,316.25 L109.21,314.65 L107.96,313.57 L109.61,313.44ZM112.36,312.12 L112.99,313.64 L114.64,313.77 L113.39,314.85 L113.77,316.46 L112.36,315.60 L110.95,316.46 L111.33,314.85 L110.08,313.77 L111.73,313.64ZM114.48,312.36 L115.11,313.89 L116.76,314.02 L115.51,315.09 L115.89,316.70 L114.48,315.84 L113.07,316.70 L113.45,315.09 L112.20,314.02 L113.85,313.89ZM116.60,312.47 L117.23,313.99 L118.88,314.12 L117.63,315.20 L118.01,316.81 L116.60,315.95 L115.19,316.81 L115.57,315.20 L114.32,314.12 L115.97,313.99ZM118.72,312.64 L119.35,314.16 L121.00,314.30 L119.75,315.37 L120.13,316.98 L118.72,316.12 L117.31,316.98 L117.69,315.37 L116.44,314.30 L118.09,314.16ZM120.84,312.95 L121.47,314.48 L123.12,314.61 L121.87,315.68 L122.25,317.29 L120.84,316.43 L119.43,317.29 L119.81,315.68 L118.56,314.61 L120.21,314.48ZM122.96,312.85 L123.59,314.37 L125.24,314.51 L123.99,315.58 L124.37,317.19 L122.96,316.33 L121.55,317.19 L121.93,315.58 L120.68,314.51 L122.33,314.37ZM125.08,313.31 L125.71,314.84 L127.36,314.97 L126.11,316.05 L126.49,317.65 L125.08,316.79 L123.67,317.65 L124.05,316.05 L122.80,314.97 L124.45,314.84ZM127.20,313.12 L127.83,314.65 L129.48,314.78 L128.23,315.86 L128.61,317.47 L127.20,316.60 L125.79,317.47 L126.17,315.86 L124.92,314.78 L126.57,314.65ZM129.32,313.15 L129.95,314.68 L131.60,314.81 L130.35,315.89 L130.73,317.49 L129.32,316.63 L127.91,317.49 L128.29,315.89 L127.04,314.81 L128.69,314.68ZM131.44,313.42 L132.07,314.94 L133.72,315.08 L132.47,316.15 L132.85,317.76 L131.44,316.90 L130.03,317.76 L130.41,316.15 L129.16,315.08 L130.81,314.94ZM133.56,313.46 L134.19,314.99 L135.84,315.12 L134.59,316.20 L134.97,317.81 L133.56,316.94 L132.15,317.81 L132.53,316.20 L131.28,315.12 L132.93,314.99ZM135.68,313.32 L136.31,314.85 L137.96,314.98 L136.71,316.06 L137.09,317.66 L135.68,316.80 L134.27,317.66 L134.65,316.06 L133.40,314.98 L135.05,314.85ZM137.80,313.50 L138.43,315.02 L140.08,315.16 L138.83,316.23 L139.21,317.84 L137.80,316.98 L136.39,317.84 L136.77,316.23 L135.52,315.16 L137.17,315.02ZM139.92,314.14 L140.55,315.67 L142.20,315.80 L140.95,316.88 L141.33,318.48 L139.92,317.62 L138.51,318.48 L138.89,316.88 L137.64,315.80 L139.29,315.67ZM142.04,313.82 L142.67,315.35 L144.32,315.48 L143.07,316.56 L143.45,318.16 L142.04,317.30 L140.63,318.16 L141.01,316.56 L139.76,315.48 L141.41,315.35ZM144.16,314.07 L144.79,315.59 L146.44,315.72 L145.19,316.80 L145.57,318.41 L144.16,317.55 L142.75,318.41 L143.13,316.80 L141.88,315.72 L143.53,315.59ZM146.28,314.63 L146.91,316.15 L148.56,316.29 L147.31,317.36 L147.69,318.97 L146.28,318.11 L144.87,318.97 L145.25,317.36 L144.00,316.29 L145.65,316.15ZM148.40,314.59 L149.03,316.11 L150.68,316.25 L149.43,317.32 L149.81,318.93 L148.40,318.07 L146.99,318.93 L147.37,317.32 L146.12,316.25 L147.77,316.11ZM150.52,314.85 L151.15,316.37 L152.80,316.50 L151.55,317.58 L151.93,319.19 L150.52,318.33 L149.11,319.19 L149.49,317.58 L148.24,316.50 L149.89,316.37ZM152.64,315.12 L153.27,316.65 L154.92,316.78 L153.67,317.86 L154.05,319.46 L152.64,318.60 L151.23,319.46 L151.61,317.86 L150.36,316.78 L152.01,316.65ZM154.76,314.98 L155.39,316.50 L157.04,316.64 L155.79,317.71 L156.17,319.32 L154.76,318.46 L153.35,319.32 L153.73,317.71 L152.48,316.64 L154.13,316.50ZM156.88,314.88 L157.51,316.41 L159.16,316.54 L157.91,317.62 L158.29,319.22 L156.88,318.36 L155.47,319.22 L155.85,317.62 L154.60,316.54 L156.25,316.41ZM159.00,315.47 L159.63,316.99 L161.28,317.13 L160.03,318.20 L160.41,319.81 L159.00,318.95 L157.59,319.81 L157.97,318.20 L156.72,317.13 L158.37,316.99ZM161.12,315.26 L161.75,316.79 L163.40,316.92 L162.15,318.00 L162.53,319.61 L161.12,318.74 L159.71,319.61 L160.09,318.00 L158.84,316.92 L160.49,316.79ZM163.24,315.56 L163.87,317.08 L165.52,317.21 L164.27,318.29 L164.65,319.90 L163.24,319.04 L161.83,319.90 L162.21,318.29 L160.96,317.21 L162.61,317.08ZM165.36,316.11 L165.99,317.64 L167.64,317.77 L166.39,318.84 L166.77,320.45 L165.36,319.59 L163.95,320.45 L164.33,318.84 L163.08,317.77 L164.73,317.64ZM167.48,315.92 L168.11,317.45 L169.76,317.58 L168.51,318.65 L168.89,320.26 L167.48,319.40 L166.07,320.26 L166.45,318.65 L165.20,317.58 L166.85,317.45ZM169.60,316.40 L170.23,317.93 L171.88,318.06 L170.63,319.14 L171.01,320.74 L169.60,319.88 L168.19,320.74 L168.57,319.14 L167.32,318.06 L168.97,317.93ZM171.72,316.49 L172.35,318.01 L174.00,318.14 L172.75,319.22 L173.13,320.83 L171.72,319.97 L170.31,320.83 L170.69,319.22 L169.44,318.14 L171.09,318.01ZM173.84,316.94 L174.47,318.46 L176.12,318.59 L174.87,319.67 L175.25,321.28 L173.84,320.42 L172.43,321.28 L172.81,319.67 L171.56,318.59 L173.21,318.46ZM175.96,317.23 L176.59,318.75 L178.24,318.88 L176.99,319.96 L177.37,321.57 L175.96,320.71 L174.55,321.57 L174.93,319.96 L173.68,318.88 L175.33,318.75ZM178.08,317.80 L178.71,319.33 L180.36,319.46 L179.11,320.54 L179.49,322.14 L178.08,321.28 L176.67,322.14 L177.05,320.54 L175.80,319.46 L177.45,319.33ZM180.20,317.79 L180.83,319.32 L182.48,319.45 L181.23,320.53 L181.61,322.13 L180.20,321.27 L178.79,322.13 L179.17,320.53 L177.92,319.45 L179.57,319.32ZM182.32,318.01 L182.95,319.54 L184.60,319.67 L183.35,320.75 L183.73,322.35 L182.32,321.49 L180.91,322.35 L181.29,320.75 L180.04,319.67 L181.69,319.54ZM184.44,318.37 L185.07,319.89 L186.72,320.03 L185.47,321.10 L185.85,322.71 L184.44,321.85 L183.03,322.71 L183.41,321.10 L182.16,320.03 L183.81,319.89ZM186.56,318.96 L187.19,320.49 L188.84,320.62 L187.59,321.70 L187.97,323.30 L186.56,322.44 L185.15,323.30 L185.53,321.70 L184.28,320.62 L185.93,320.49ZM188.68,319.05 L189.31,320.58 L190.96,320.71 L189.71,321.78 L190.09,323.39 L188.68,322.53 L187.27,323.39 L187.65,321.78 L186.40,320.71 L188.05,320.58ZM190.80,319.54 L191.43,321.07 L193.08,321.20 L191.83,322.28 L192.21,323.88 L190.80,323.02 L189.39,323.88 L189.77,322.28 L188.52,321.20 L190.17,321.07ZM192.92,320.11 L193.55,321.63 L195.20,321.76 L193.95,322.84 L194.33,324.45 L192.92,323.59 L191.51,324.45 L191.89,322.84 L190.64,321.76 L192.29,321.63ZM195.04,320.46 L195.67,321.98 L197.32,322.12 L196.07,323.19 L196.45,324.80 L195.04,323.94 L193.63,324.80 L194.01,323.19 L192.76,322.12 L194.41,321.98ZM197.16,320.74 L197.79,322.26 L199.44,322.40 L198.19,323.47 L198.57,325.08 L197.16,324.22 L195.75,325.08 L196.13,323.47 L194.88,322.40 L196.53,322.26ZM199.28,320.96 L199.91,322.49 L201.56,322.62 L200.31,323.69 L200.69,325.30 L199.28,324.44 L197.87,325.30 L198.25,323.69 L197.00,322.62 L198.65,322.49ZM201.40,321.29 L202.03,322.82 L203.68,322.95 L202.43,324.03 L202.81,325.64 L201.40,324.77 L199.99,325.64 L200.37,324.03 L199.12,322.95 L200.77,322.82ZM203.52,321.37 L204.15,322.90 L205.80,323.03 L204.55,324.10 L204.93,325.71 L203.52,324.85 L202.11,325.71 L202.49,324.10 L201.24,323.03 L202.89,322.90ZM205.64,321.54 L206.27,323.06 L207.92,323.20 L206.67,324.27 L207.05,325.88 L205.64,325.02 L204.23,325.88 L204.61,324.27 L203.36,323.20 L205.01,323.06ZM207.76,322.81 L208.39,324.34 L210.04,324.47 L208.79,325.55 L209.17,327.15 L207.76,326.29 L206.35,327.15 L206.73,325.55 L205.48,324.47 L207.13,324.34ZM209.88,324.05 L210.51,325.58 L212.16,325.71 L210.91,326.79 L211.29,328.40 L209.88,327.53 L208.47,328.40 L208.85,326.79 L207.60,325.71 L209.25,325.58ZM212.00,325.06 L212.63,326.59 L214.28,326.72 L213.03,327.80 L213.41,329.40 L212.00,328.54 L210.59,329.40 L210.97,327.80 L209.72,326.72 L211.37,326.59ZM214.12,326.46 L214.75,327.99 L216.40,328.12 L215.15,329.20 L215.53,330.80 L214.12,329.94 L212.71,330.80 L213.09,329.20 L211.84,328.12 L213.49,327.99ZM216.24,327.52 L216.87,329.04 L218.52,329.18 L217.27,330.25 L217.65,331.86 L216.24,331.00 L214.83,331.86 L215.21,330.25 L213.96,329.18 L215.61,329.04ZM218.36,328.48 L218.99,330.01 L220.64,330.14 L219.39,331.21 L219.77,332.82 L218.36,331.96 L216.95,332.82 L217.33,331.21 L216.08,330.14 L217.73,330.01ZM220.48,329.89 L221.11,331.41 L222.76,331.55 L221.51,332.62 L221.89,334.23 L220.48,333.37 L219.07,334.23 L219.45,332.62 L218.20,331.55 L219.85,331.41ZM222.60,331.96 L223.23,333.49 L224.88,333.62 L223.63,334.70 L224.01,336.31 L222.60,335.44 L221.19,336.31 L221.57,334.70 L220.32,333.62 L221.97,333.49ZM224.72,333.59 L225.35,335.11 L227.00,335.25 L225.75,336.32 L226.13,337.93 L224.72,337.07 L223.31,337.93 L223.69,336.32 L222.44,335.25 L224.09,335.11ZM226.84,335.82 L227.47,337.35 L229.12,337.48 L227.87,338.56 L228.25,340.17 L226.84,339.30 L225.43,340.17 L225.81,338.56 L224.56,337.48 L226.21,337.35ZM228.96,338.18 L229.59,339.71 L231.24,339.84 L229.99,340.91 L230.37,342.52 L228.96,341.66 L227.55,342.52 L227.93,340.91 L226.68,339.84 L228.33,339.71ZM231.08,341.87 L231.71,343.39 L233.36,343.53 L232.11,344.60 L232.49,346.21 L231.08,345.35 L229.67,346.21 L230.05,344.60 L228.80,343.53 L230.45,343.39ZM233.20,345.45 L233.83,346.98 L235.48,347.11 L234.23,348.18 L234.61,349.79 L233.20,348.93 L231.79,349.79 L232.17,348.18 L230.92,347.11 L232.57,346.98ZM235.32,349.09 L235.95,350.62 L237.60,350.75 L236.35,351.83 L236.73,353.44 L235.32,352.57 L233.91,353.44 L234.29,351.83 L233.04,350.75 L234.69,350.62ZM237.44,352.95 L238.07,354.47 L239.72,354.61 L238.47,355.68 L238.85,357.29 L237.44,356.43 L236.03,357.29 L236.41,355.68 L235.16,354.61 L236.81,354.47ZM239.56,356.33 L240.19,357.86 L241.84,357.99 L240.59,359.07 L240.97,360.68 L239.56,359.81 L238.15,360.68 L238.53,359.07 L237.28,357.99 L238.93,357.86ZM241.68,359.43 L242.31,360.95 L243.96,361.09 L242.71,362.16 L243.09,363.77 L241.68,362.91 L240.27,363.77 L240.65,362.16 L239.40,361.09 L241.05,360.95ZM243.80,362.27 L244.43,363.80 L246.08,363.93 L244.83,365.00 L245.21,366.61 L243.80,365.75 L242.39,366.61 L242.77,365.00 L241.52,363.93 L243.17,363.80ZM245.92,366.17 L246.55,367.70 L248.20,367.83 L246.95,368.90 L247.33,370.51 L245.92,369.65 L244.51,370.51 L244.89,368.90 L243.64,367.83 L245.29,367.70ZM248.04,369.64 L248.67,371.17 L250.32,371.30 L249.07,372.38 L249.45,373.99 L248.04,373.12 L246.63,373.99 L247.01,372.38 L245.76,371.30 L247.41,371.17ZM250.16,373.52 L250.79,375.04 L252.44,375.17 L251.19,376.25 L251.57,377.86 L250.16,377.00 L248.75,377.86 L249.13,376.25 L247.88,375.17 L249.53,375.04ZM252.28,377.20 L252.91,378.72 L254.56,378.85 L253.31,379.93 L253.69,381.54 L252.28,380.68 L250.87,381.54 L251.25,379.93 L250.00,378.85 L251.65,378.72ZM254.40,379.36 L255.03,380.88 L256.68,381.01 L255.43,382.09 L255.81,383.70 L254.40,382.84 L252.99,383.70 L253.37,382.09 L252.12,381.01 L253.77,380.88Z" fill="#fff" fill-opacity="0.6" stroke="#a860dc" stroke-width="0.7" opacity="1"/>
<path d="M44.52,302.97 L46.64,304.92 L48.76,305.60 L50.88,306.05 L53.00,306.53 L55.12,306.74 L57.24,307.72 L59.36,308.29 L61.48,308.40 L63.60,308.78 L65.72,308.82 L67.84,309.83 L69.96,309.81 L72.08,309.90 L74.20,310.37 L76.32,309.49 L78.44,310.34 L80.56,310.55 L82.68,310.25 L84.80,310.72 L86.92,310.40 L89.04,310.84 L91.16,311.22 L93.28,311.44 L95.40,310.90 L97.52,311.52 L99.64,311.14 L101.76,311.63 L103.88,311.32 L106.00,312.14 L108.12,312.36 L110.24,312.52 L112.36,312.12 L114.48,312.48 L116.60,312.95 L118.72,313.38 L120.84,312.94 L122.96,312.82 L125.08,313.38 L127.20,314.15 L129.32,314.30 L131.44,314.41 L133.56,314.49 L135.68,314.80 L137.80,314.96 L139.92,314.51 L142.04,314.43 L144.16,315.25 L146.28,314.56 L148.40,315.17 L150.52,314.94 L152.64,314.92 L154.76,314.56 L156.88,315.15 L159.00,314.53 L161.12,314.96 L163.24,315.35 L165.36,316.97 L167.48,316.80 L169.60,316.28 L171.72,317.07 L173.84,316.83 L175.96,317.23 L178.08,317.22 L180.20,317.31 L182.32,318.42 L184.44,318.18 L186.56,318.50 L188.68,318.70 L190.80,319.30 L192.92,319.23 L195.04,320.11 L197.16,320.37 L199.28,320.86 L201.40,320.61 L203.52,321.22 L205.64,321.75 L207.76,322.36 L209.88,322.31 L212.00,322.94 L214.12,323.34 L216.24,324.65 L218.36,325.51 L220.48,326.82 L222.60,327.75 L224.72,329.95 L226.84,330.99 L228.96,332.19 L231.08,334.58 L233.20,337.48 L235.32,341.33 L237.44,345.84 L239.56,351.46 L241.68,354.64 L243.80,359.66 L245.92,364.65 L248.04,368.30 L250.16,372.62 L252.28,376.93 L254.40,380.64" fill="none" stroke="#801cc4" stroke-width="0.9" opacity="1"/>
<path d="M44.52,299.97 L45.31,301.88 L47.37,302.04 L45.80,303.39 L46.28,305.40 L44.52,304.32 L42.76,305.40 L43.24,303.39 L41.67,302.04 L43.73,301.88ZM46.64,301.92 L47.43,303.83 L49.49,303.99 L47.92,305.34 L48.40,307.35 L46.64,306.27 L44.88,307.35 L45.36,305.34 L43.79,303.99 L45.85,303.83ZM48.76,302.60 L49.55,304.51 L51.61,304.68 L50.04,306.02 L50.52,308.03 L48.76,306.95 L47.00,308.03 L47.48,306.02 L45.91,304.68 L47.97,304.51ZM50.88,303.05 L51.67,304.96 L53.73,305.13 L52.16,306.47 L52.64,308.48 L50.88,307.40 L49.12,308.48 L49.60,306.47 L48.03,305.13 L50.09,304.96ZM53.00,303.53 L53.79,305.44 L55.85,305.61 L54.28,306.95 L54.76,308.96 L53.00,307.88 L51.24,308.96 L51.72,306.95 L50.15,305.61 L52.21,305.44ZM55.12,303.74 L55.91,305.65 L57.97,305.81 L56.40,307.16 L56.88,309.17 L55.12,308.09 L53.36,309.17 L53.84,307.16 L52.27,305.81 L54.33,305.65ZM57.24,304.72 L58.03,306.63 L60.09,306.79 L58.52,308.14 L59.00,310.15 L57.24,309.07 L55.48,310.15 L55.96,308.14 L54.39,306.79 L56.45,306.63ZM59.36,305.29 L60.15,307.20 L62.21,307.37 L60.64,308.71 L61.12,310.72 L59.36,309.64 L57.60,310.72 L58.08,308.71 L56.51,307.37 L58.57,307.20ZM61.48,305.40 L62.27,307.30 L64.33,307.47 L62.76,308.81 L63.24,310.82 L61.48,309.75 L59.72,310.82 L60.20,308.81 L58.63,307.47 L60.69,307.30ZM63.60,305.78 L64.39,307.69 L66.45,307.85 L64.88,309.20 L65.36,311.21 L63.60,310.13 L61.84,311.21 L62.32,309.20 L60.75,307.85 L62.81,307.69ZM65.72,305.82 L66.51,307.73 L68.57,307.89 L67.00,309.23 L67.48,311.24 L65.72,310.17 L63.96,311.24 L64.44,309.23 L62.87,307.89 L64.93,307.73ZM67.84,306.83 L68.63,308.74 L70.69,308.90 L69.12,310.25 L69.60,312.26 L67.84,311.18 L66.08,312.26 L66.56,310.25 L64.99,308.90 L67.05,308.74ZM69.96,306.81 L70.75,308.72 L72.81,308.88 L71.24,310.23 L71.72,312.24 L69.96,311.16 L68.20,312.24 L68.68,310.23 L67.11,308.88 L69.17,308.72ZM72.08,306.90 L72.87,308.81 L74.93,308.97 L73.36,310.32 L73.84,312.33 L72.08,311.25 L70.32,312.33 L70.80,310.32 L69.23,308.97 L71.29,308.81ZM74.20,307.37 L74.99,309.27 L77.05,309.44 L75.48,310.78 L75.96,312.79 L74.20,311.72 L72.44,312.79 L72.92,310.78 L71.35,309.44 L73.41,309.27ZM76.32,306.49 L77.11,308.40 L79.17,308.56 L77.60,309.91 L78.08,311.92 L76.32,310.84 L74.56,311.92 L75.04,309.91 L73.47,308.56 L75.53,308.40ZM78.44,307.34 L79.23,309.25 L81.29,309.41 L79.72,310.76 L80.20,312.77 L78.44,311.69 L76.68,312.77 L77.16,310.76 L75.59,309.41 L77.65,309.25ZM80.56,307.55 L81.35,309.46 L83.41,309.63 L81.84,310.97 L82.32,312.98 L80.56,311.90 L78.80,312.98 L79.28,310.97 L77.71,309.63 L79.77,309.46ZM82.68,307.25 L83.47,309.16 L85.53,309.32 L83.96,310.67 L84.44,312.68 L82.68,311.60 L80.92,312.68 L81.40,310.67 L79.83,309.32 L81.89,309.16ZM84.80,307.72 L85.59,309.63 L87.65,309.79 L86.08,311.14 L86.56,313.15 L84.80,312.07 L83.04,313.15 L83.52,311.14 L81.95,309.79 L84.01,309.63ZM86.92,307.40 L87.71,309.31 L89.77,309.47 L88.20,310.82 L88.68,312.83 L86.92,311.75 L85.16,312.83 L85.64,310.82 L84.07,309.47 L86.13,309.31ZM89.04,307.84 L89.83,309.74 L91.89,309.91 L90.32,311.25 L90.80,313.26 L89.04,312.19 L87.28,313.26 L87.76,311.25 L86.19,309.91 L88.25,309.74ZM91.16,308.22 L91.95,310.12 L94.01,310.29 L92.44,311.63 L92.92,313.64 L91.16,312.57 L89.40,313.64 L89.88,311.63 L88.31,310.29 L90.37,310.12ZM93.28,308.44 L94.07,310.35 L96.13,310.52 L94.56,311.86 L95.04,313.87 L93.28,312.79 L91.52,313.87 L92.00,311.86 L90.43,310.52 L92.49,310.35ZM95.40,307.90 L96.19,309.81 L98.25,309.97 L96.68,311.32 L97.16,313.33 L95.40,312.25 L93.64,313.33 L94.12,311.32 L92.55,309.97 L94.61,309.81ZM97.52,308.52 L98.31,310.43 L100.37,310.59 L98.80,311.93 L99.28,313.94 L97.52,312.87 L95.76,313.94 L96.24,311.93 L94.67,310.59 L96.73,310.43ZM99.64,308.14 L100.43,310.05 L102.49,310.22 L100.92,311.56 L101.40,313.57 L99.64,312.49 L97.88,313.57 L98.36,311.56 L96.79,310.22 L98.85,310.05ZM101.76,308.63 L102.55,310.53 L104.61,310.70 L103.04,312.04 L103.52,314.05 L101.76,312.98 L100.00,314.05 L100.48,312.04 L98.91,310.70 L100.97,310.53ZM103.88,308.32 L104.67,310.23 L106.73,310.39 L105.16,311.73 L105.64,313.74 L103.88,312.67 L102.12,313.74 L102.60,311.73 L101.03,310.39 L103.09,310.23ZM106.00,309.14 L106.79,311.05 L108.85,311.21 L107.28,312.55 L107.76,314.56 L106.00,313.49 L104.24,314.56 L104.72,312.55 L103.15,311.21 L105.21,311.05ZM108.12,309.36 L108.91,311.27 L110.97,311.43 L109.40,312.78 L109.88,314.79 L108.12,313.71 L106.36,314.79 L106.84,312.78 L105.27,311.43 L107.33,311.27ZM110.24,309.52 L111.03,311.42 L113.09,311.59 L111.52,312.93 L112.00,314.94 L110.24,313.87 L108.48,314.94 L108.96,312.93 L107.39,311.59 L109.45,311.42ZM112.36,309.12 L113.15,311.03 L115.21,311.20 L113.64,312.54 L114.12,314.55 L112.36,313.47 L110.60,314.55 L111.08,312.54 L109.51,311.20 L111.57,311.03ZM114.48,309.48 L115.27,311.39 L117.33,311.56 L115.76,312.90 L116.24,314.91 L114.48,313.83 L112.72,314.91 L113.20,312.90 L111.63,311.56 L113.69,311.39ZM116.60,309.95 L117.39,311.86 L119.45,312.02 L117.88,313.36 L118.36,315.37 L116.60,314.30 L114.84,315.37 L115.32,313.36 L113.75,312.02 L115.81,311.86ZM118.72,310.38 L119.51,312.28 L121.57,312.45 L120.00,313.79 L120.48,315.80 L118.72,314.73 L116.96,315.80 L117.44,313.79 L115.87,312.45 L117.93,312.28ZM120.84,309.94 L121.63,311.85 L123.69,312.02 L122.12,313.36 L122.60,315.37 L120.84,314.29 L119.08,315.37 L119.56,313.36 L117.99,312.02 L120.05,311.85ZM122.96,309.82 L123.75,311.73 L125.81,311.89 L124.24,313.24 L124.72,315.25 L122.96,314.17 L121.20,315.25 L121.68,313.24 L120.11,311.89 L122.17,311.73ZM125.08,310.38 L125.87,312.29 L127.93,312.45 L126.36,313.79 L126.84,315.80 L125.08,314.73 L123.32,315.80 L123.80,313.79 L122.23,312.45 L124.29,312.29ZM127.20,311.15 L127.99,313.06 L130.05,313.23 L128.48,314.57 L128.96,316.58 L127.20,315.50 L125.44,316.58 L125.92,314.57 L124.35,313.23 L126.41,313.06ZM129.32,311.30 L130.11,313.20 L132.17,313.37 L130.60,314.71 L131.08,316.72 L129.32,315.65 L127.56,316.72 L128.04,314.71 L126.47,313.37 L128.53,313.20ZM131.44,311.41 L132.23,313.31 L134.29,313.48 L132.72,314.82 L133.20,316.83 L131.44,315.76 L129.68,316.83 L130.16,314.82 L128.59,313.48 L130.65,313.31ZM133.56,311.49 L134.35,313.40 L136.41,313.57 L134.84,314.91 L135.32,316.92 L133.56,315.84 L131.80,316.92 L132.28,314.91 L130.71,313.57 L132.77,313.40ZM135.68,311.80 L136.47,313.71 L138.53,313.88 L136.96,315.22 L137.44,317.23 L135.68,316.15 L133.92,317.23 L134.40,315.22 L132.83,313.88 L134.89,313.71ZM137.80,311.96 L138.59,313.86 L140.65,314.03 L139.08,315.37 L139.56,317.38 L137.80,316.31 L136.04,317.38 L136.52,315.37 L134.95,314.03 L137.01,313.86ZM139.92,311.51 L140.71,313.42 L142.77,313.58 L141.20,314.93 L141.68,316.94 L139.92,315.86 L138.16,316.94 L138.64,314.93 L137.07,313.58 L139.13,313.42ZM142.04,311.43 L142.83,313.34 L144.89,313.50 L143.32,314.85 L143.80,316.86 L142.04,315.78 L140.28,316.86 L140.76,314.85 L139.19,313.50 L141.25,313.34ZM144.16,312.25 L144.95,314.16 L147.01,314.32 L145.44,315.67 L145.92,317.68 L144.16,316.60 L142.40,317.68 L142.88,315.67 L141.31,314.32 L143.37,314.16ZM146.28,311.56 L147.07,313.47 L149.13,313.63 L147.56,314.98 L148.04,316.99 L146.28,315.91 L144.52,316.99 L145.00,314.98 L143.43,313.63 L145.49,313.47ZM148.40,312.17 L149.19,314.08 L151.25,314.24 L149.68,315.59 L150.16,317.60 L148.40,316.52 L146.64,317.60 L147.12,315.59 L145.55,314.24 L147.61,314.08ZM150.52,311.94 L151.31,313.85 L153.37,314.01 L151.80,315.36 L152.28,317.37 L150.52,316.29 L148.76,317.37 L149.24,315.36 L147.67,314.01 L149.73,313.85ZM152.64,311.92 L153.43,313.83 L155.49,314.00 L153.92,315.34 L154.40,317.35 L152.64,316.27 L150.88,317.35 L151.36,315.34 L149.79,314.00 L151.85,313.83ZM154.76,311.56 L155.55,313.47 L157.61,313.63 L156.04,314.98 L156.52,316.99 L154.76,315.91 L153.00,316.99 L153.48,314.98 L151.91,313.63 L153.97,313.47ZM156.88,312.15 L157.67,314.05 L159.73,314.22 L158.16,315.56 L158.64,317.57 L156.88,316.50 L155.12,317.57 L155.60,315.56 L154.03,314.22 L156.09,314.05ZM159.00,311.53 L159.79,313.44 L161.85,313.60 L160.28,314.94 L160.76,316.95 L159.00,315.88 L157.24,316.95 L157.72,314.94 L156.15,313.60 L158.21,313.44ZM161.12,311.96 L161.91,313.87 L163.97,314.03 L162.40,315.38 L162.88,317.39 L161.12,316.31 L159.36,317.39 L159.84,315.38 L158.27,314.03 L160.33,313.87ZM163.24,312.35 L164.03,314.26 L166.09,314.42 L164.52,315.77 L165.00,317.78 L163.24,316.70 L161.48,317.78 L161.96,315.77 L160.39,314.42 L162.45,314.26ZM165.36,313.97 L166.15,315.88 L168.21,316.05 L166.64,317.39 L167.12,319.40 L165.36,318.32 L163.60,319.40 L164.08,317.39 L162.51,316.05 L164.57,315.88ZM167.48,313.80 L168.27,315.71 L170.33,315.88 L168.76,317.22 L169.24,319.23 L167.48,318.15 L165.72,319.23 L166.20,317.22 L164.63,315.88 L166.69,315.71ZM169.60,313.28 L170.39,315.18 L172.45,315.35 L170.88,316.69 L171.36,318.70 L169.60,317.63 L167.84,318.70 L168.32,316.69 L166.75,315.35 L168.81,315.18ZM171.72,314.07 L172.51,315.98 L174.57,316.15 L173.00,317.49 L173.48,319.50 L171.72,318.42 L169.96,319.50 L170.44,317.49 L168.87,316.15 L170.93,315.98ZM173.84,313.83 L174.63,315.74 L176.69,315.91 L175.12,317.25 L175.60,319.26 L173.84,318.18 L172.08,319.26 L172.56,317.25 L170.99,315.91 L173.05,315.74ZM175.96,314.23 L176.75,316.14 L178.81,316.31 L177.24,317.65 L177.72,319.66 L175.96,318.58 L174.20,319.66 L174.68,317.65 L173.11,316.31 L175.17,316.14ZM178.08,314.22 L178.87,316.13 L180.93,316.29 L179.36,317.64 L179.84,319.65 L178.08,318.57 L176.32,319.65 L176.80,317.64 L175.23,316.29 L177.29,316.13ZM180.20,314.31 L180.99,316.22 L183.05,316.38 L181.48,317.72 L181.96,319.73 L180.20,318.66 L178.44,319.73 L178.92,317.72 L177.35,316.38 L179.41,316.22ZM182.32,315.42 L183.11,317.33 L185.17,317.50 L183.60,318.84 L184.08,320.85 L182.32,319.77 L180.56,320.85 L181.04,318.84 L179.47,317.50 L181.53,317.33ZM184.44,315.18 L185.23,317.09 L187.29,317.26 L185.72,318.60 L186.20,320.61 L184.44,319.53 L182.68,320.61 L183.16,318.60 L181.59,317.26 L183.65,317.09ZM186.56,315.50 L187.35,317.41 L189.41,317.57 L187.84,318.92 L188.32,320.93 L186.56,319.85 L184.80,320.93 L185.28,318.92 L183.71,317.57 L185.77,317.41ZM188.68,315.70 L189.47,317.61 L191.53,317.78 L189.96,319.12 L190.44,321.13 L188.68,320.05 L186.92,321.13 L187.40,319.12 L185.83,317.78 L187.89,317.61ZM190.80,316.30 L191.59,318.21 L193.65,318.37 L192.08,319.72 L192.56,321.73 L190.80,320.65 L189.04,321.73 L189.52,319.72 L187.95,318.37 L190.01,318.21ZM192.92,316.23 L193.71,318.14 L195.77,318.30 L194.20,319.64 L194.68,321.65 L192.92,320.58 L191.16,321.65 L191.64,319.64 L190.07,318.30 L192.13,318.14ZM195.04,317.11 L195.83,319.02 L197.89,319.18 L196.32,320.53 L196.80,322.54 L195.04,321.46 L193.28,322.54 L193.76,320.53 L192.19,319.18 L194.25,319.02ZM197.16,317.37 L197.95,319.27 L200.01,319.44 L198.44,320.78 L198.92,322.79 L197.16,321.72 L195.40,322.79 L195.88,320.78 L194.31,319.44 L196.37,319.27ZM199.28,317.86 L200.07,319.77 L202.13,319.94 L200.56,321.28 L201.04,323.29 L199.28,322.21 L197.52,323.29 L198.00,321.28 L196.43,319.94 L198.49,319.77ZM201.40,317.61 L202.19,319.51 L204.25,319.68 L202.68,321.02 L203.16,323.03 L201.40,321.96 L199.64,323.03 L200.12,321.02 L198.55,319.68 L200.61,319.51ZM203.52,318.22 L204.31,320.13 L206.37,320.29 L204.80,321.64 L205.28,323.65 L203.52,322.57 L201.76,323.65 L202.24,321.64 L200.67,320.29 L202.73,320.13ZM205.64,318.75 L206.43,320.65 L208.49,320.82 L206.92,322.16 L207.40,324.17 L205.64,323.10 L203.88,324.17 L204.36,322.16 L202.79,320.82 L204.85,320.65ZM207.76,319.36 L208.55,321.27 L210.61,321.43 L209.04,322.78 L209.52,324.79 L207.76,323.71 L206.00,324.79 L206.48,322.78 L204.91,321.43 L206.97,321.27ZM209.88,319.31 L210.67,321.22 L212.73,321.38 L211.16,322.73 L211.64,324.74 L209.88,323.66 L208.12,324.74 L208.60,322.73 L207.03,321.38 L209.09,321.22ZM212.00,319.94 L212.79,321.85 L214.85,322.01 L213.28,323.36 L213.76,325.37 L212.00,324.29 L210.24,325.37 L210.72,323.36 L209.15,322.01 L211.21,321.85ZM214.12,320.34 L214.91,322.25 L216.97,322.42 L215.40,323.76 L215.88,325.77 L214.12,324.69 L212.36,325.77 L212.84,323.76 L211.27,322.42 L213.33,322.25ZM216.24,321.65 L217.03,323.55 L219.09,323.72 L217.52,325.06 L218.00,327.07 L216.24,326.00 L214.48,327.07 L214.96,325.06 L213.39,323.72 L215.45,323.55ZM218.36,322.51 L219.15,324.42 L221.21,324.59 L219.64,325.93 L220.12,327.94 L218.36,326.86 L216.60,327.94 L217.08,325.93 L215.51,324.59 L217.57,324.42ZM220.48,323.82 L221.27,325.73 L223.33,325.90 L221.76,327.24 L222.24,329.25 L220.48,328.17 L218.72,329.25 L219.20,327.24 L217.63,325.90 L219.69,325.73ZM222.60,324.75 L223.39,326.66 L225.45,326.82 L223.88,328.17 L224.36,330.18 L222.60,329.10 L220.84,330.18 L221.32,328.17 L219.75,326.82 L221.81,326.66ZM224.72,326.95 L225.51,328.86 L227.57,329.02 L226.00,330.37 L226.48,332.38 L224.72,331.30 L222.96,332.38 L223.44,330.37 L221.87,329.02 L223.93,328.86ZM226.84,327.99 L227.63,329.90 L229.69,330.06 L228.12,331.41 L228.60,333.42 L226.84,332.34 L225.08,333.42 L225.56,331.41 L223.99,330.06 L226.05,329.90ZM228.96,329.19 L229.75,331.10 L231.81,331.26 L230.24,332.61 L230.72,334.61 L228.96,333.54 L227.20,334.61 L227.68,332.61 L226.11,331.26 L228.17,331.10ZM231.08,331.58 L231.87,333.49 L233.93,333.65 L232.36,335.00 L232.84,337.01 L231.08,335.93 L229.32,337.01 L229.80,335.00 L228.23,333.65 L230.29,333.49ZM233.20,334.48 L233.99,336.39 L236.05,336.56 L234.48,337.90 L234.96,339.91 L233.20,338.83 L231.44,339.91 L231.92,337.90 L230.35,336.56 L232.41,336.39ZM235.32,338.33 L236.11,340.24 L238.17,340.40 L236.60,341.75 L237.08,343.76 L235.32,342.68 L233.56,343.76 L234.04,341.75 L232.47,340.40 L234.53,340.24ZM237.44,342.84 L238.23,344.75 L240.29,344.91 L238.72,346.25 L239.20,348.26 L237.44,347.19 L235.68,348.26 L236.16,346.25 L234.59,344.91 L236.65,344.75ZM239.56,348.46 L240.35,350.37 L242.41,350.53 L240.84,351.88 L241.32,353.89 L239.56,352.81 L237.80,353.89 L238.28,351.88 L236.71,350.53 L238.77,350.37ZM241.68,351.64 L242.47,353.54 L244.53,353.71 L242.96,355.05 L243.44,357.06 L241.68,355.99 L239.92,357.06 L240.40,355.05 L238.83,353.71 L240.89,353.54ZM243.80,356.66 L244.59,358.57 L246.65,358.73 L245.08,360.08 L245.56,362.09 L243.80,361.01 L242.04,362.09 L242.52,360.08 L240.95,358.73 L243.01,358.57ZM245.92,361.65 L246.71,363.56 L248.77,363.73 L247.20,365.07 L247.68,367.08 L245.92,366.00 L244.16,367.08 L244.64,365.07 L243.07,363.73 L245.13,363.56ZM248.04,365.30 L248.83,367.21 L250.89,367.37 L249.32,368.71 L249.80,370.72 L248.04,369.65 L246.28,370.72 L246.76,368.71 L245.19,367.37 L247.25,367.21ZM250.16,369.62 L250.95,371.53 L253.01,371.69 L251.44,373.04 L251.92,375.05 L250.16,373.97 L248.40,375.05 L248.88,373.04 L247.31,371.69 L249.37,371.53ZM252.28,373.93 L253.07,375.84 L255.13,376.01 L253.56,377.35 L254.04,379.36 L252.28,378.28 L250.52,379.36 L251.00,377.35 L249.43,376.01 L251.49,375.84ZM254.40,377.64 L255.19,379.55 L257.25,379.71 L255.68,381.05 L256.16,383.06 L254.40,381.99 L252.64,383.06 L253.12,381.05 L251.55,379.71 L253.61,379.55Z" fill="#801cc4" opacity="1"/>
<path d="M44.52,279.22 L46.64,235.39 L48.76,232.45 L50.88,231.32 L53.00,229.63 L55.12,229.44 L57.24,228.94 L59.36,228.38 L61.48,228.49 L63.60,228.45 L65.72,228.27 L67.84,227.82 L69.96,227.74 L72.08,228.02 L74.20,227.76 L76.32,227.14 L78.44,227.65 L80.56,227.42 L82.68,227.51 L84.80,227.27 L86.92,227.39 L89.04,227.26 L91.16,227.43 L93.28,227.67 L95.40,227.68 L97.52,227.75 L99.64,227.24 L101.76,227.72 L103.88,227.78 L106.00,227.14 L108.12,227.66 L110.24,227.19 L112.36,227.74 L114.48,227.48 L116.60,227.65 L118.72,227.23 L120.84,227.38 L122.96,227.36 L125.08,227.28 L127.20,227.20 L129.32,227.56 L131.44,227.39 L133.56,227.50 L135.68,227.73 L137.80,227.23 L139.92,227.39 L142.04,227.24 L144.16,227.66 L146.28,227.43 L148.40,227.48 L150.52,227.30 L152.64,227.75 L154.76,227.56 L156.88,227.47 L159.00,227.75 L161.12,227.42 L163.24,227.30 L165.36,227.51 L167.48,227.36 L169.60,227.39 L171.72,227.65 L173.84,227.56 L175.96,227.12 L178.08,227.57 L180.20,227.51 L182.32,227.74 L184.44,227.65 L186.56,227.69 L188.68,227.16 L190.80,227.30 L192.92,227.20 L195.04,227.13 L197.16,227.38 L199.28,227.16 L201.40,227.43 L203.52,227.51 L205.64,227.15 L207.76,227.18 L209.88,227.15 L212.00,227.47 L214.12,227.27 L216.24,227.52 L218.36,227.12 L220.48,227.17 L222.60,227.60 L224.72,227.16 L226.84,227.67 L228.96,227.74 L231.08,227.31 L233.20,227.60 L235.32,227.45 L237.44,227.36 L239.56,227.77 L241.68,227.29 L243.80,227.61 L245.92,227.51 L248.04,227.57 L250.16,227.29 L252.28,227.29 L254.40,227.60" fill="none" stroke="#f77a0c" stroke-width="0.8" opacity="1"/>
<path d="M42.72,279.22 a1.80,1.80 0 1,0 3.60,0 a1.80,1.80 0 1,0 -3.60,0M44.84,235.39 a1.80,1.80 0 1,0 3.60,0 a1.80,1.80 0 1,0 -3.60,0M46.96,232.45 a1.80,1.80 0 1,0 3.60,0 a1.80,1.80 0 1,0 -3.60,0M49.08,231.32 a1.80,1.80 0 1,0 3.60,0 a1.80,1.80 0 1,0 -3.60,0M51.20,229.63 a1.80,1.80 0 1,0 3.60,0 a1.80,1.80 0 1,0 -3.60,0M53.32,229.44 a1.80,1.80 0 1,0 3.60,0 a1.80,1.80 0 1,0 -3.60,0M55.44,228.94 a1.80,1.80 0 1,0 3.60,0 a1.80,1.80 0 1,0 -3.60,0M57.56,228.38 a1.80,1.80 0 1,0 3.60,0 a1.80,1.80 0 1,0 -3.60,0M59.68,228.49 a1.80,1.80 0 1,0 3.60,0 a1.80,1.80 0 1,0 -3.60,0M61.80,228.45 a1.80,1.80 0 1,0 3.60,0 a1.80,1.80 0 1,0 -3.60,0M63.92,228.27 a1.80,1.80 0 1,0 3.60,0 a1.80,1.80 0 1,0 -3.60,0M66.04,227.82 a1.80,1.80 0 1,0 3.60,0 a1.80,1.80 0 1,0 -3.60,0M68.16,227.74 a1.80,1.80 0 1,0 3.60,0 a1.80,1.80 0 1,0 -3.60,0M70.28,228.02 a1.80,1.80 0 1,0 3.60,0 a1.80,1.80 0 1,0 -3.60,0M72.40,227.76 a1.80,1.80 0 1,0 3.60,0 a1.80,1.80 0 1,0 -3.60,0M74.52,227.14 a1.80,1.80 0 1,0 3.60,0 a1.80,1.80 0 1,0 -3.60,0M76.64,227.65 a1.80,1.80 0 1,0 3.60,0 a1.80,1.80 0 1,0 -3.60,0M78.76,227.42 a1.80,1.80 0 1,0 3.60,0 a1.80,1.80 0 1,0 -3.60,0M80.88,227.51 a1.80,1.80 0 1,0 3.60,0 a1.80,1.80 0 1,0 -3.60,0M83.00,227.27 a1.80,1.80 0 1,0 3.60,0 a1.80,1.80 0 1,0 -3.60,0M85.12,227.39 a1.80,1.80 0 1,0 3.60,0 a1.80,1.80 0 1,0 -3.60,0M87.24,227.26 a1.80,1.80 0 1,0 3.60,0 a1.80,1.80 0 1,0 -3.60,0M89.36,227.43 a1.80,1.80 0 1,0 3.60,0 a1.80,1.80 0 1,0 -3.60,0M91.48,227.67 a1.80,1.80 0 1,0 3.60,0 a1.80,1.80 0 1,0 -3.60,0M93.60,227.68 a1.80,1.80 0 1,0 3.60,0 a1.80,1.80 0 1,0 -3.60,0M95.72,227.75 a1.80,1.80 0 1,0 3.60,0 a1.80,1.80 0 1,0 -3.60,0M97.84,227.24 a1.80,1.80 0 1,0 3.60,0 a1.80,1.80 0 1,0 -3.60,0M99.96,227.72 a1.80,1.80 0 1,0 3.60,0 a1.80,1.80 0 1,0 -3.60,0M102.08,227.78 a1.80,1.80 0 1,0 3.60,0 a1.80,1.80 0 1,0 -3.60,0M104.20,227.14 a1.80,1.80 0 1,0 3.60,0 a1.80,1.80 0 1,0 -3.60,0M106.32,227.66 a1.80,1.80 0 1,0 3.60,0 a1.80,1.80 0 1,0 -3.60,0M108.44,227.19 a1.80,1.80 0 1,0 3.60,0 a1.80,1.80 0 1,0 -3.60,0M110.56,227.74 a1.80,1.80 0 1,0 3.60,0 a1.80,1.80 0 1,0 -3.60,0M112.68,227.48 a1.80,1.80 0 1,0 3.60,0 a1.80,1.80 0 1,0 -3.60,0M114.80,227.65 a1.80,1.80 0 1,0 3.60,0 a1.80,1.80 0 1,0 -3.60,0M116.92,227.23 a1.80,1.80 0 1,0 3.60,0 a1.80,1.80 0 1,0 -3.60,0M119.04,227.38 a1.80,1.80 0 1,0 3.60,0 a1.80,1.80 0 1,0 -3.60,0M121.16,227.36 a1.80,1.80 0 1,0 3.60,0 a1.80,1.80 0 1,0 -3.60,0M123.28,227.28 a1.80,1.80 0 1,0 3.60,0 a1.80,1.80 0 1,0 -3.60,0M125.40,227.20 a1.80,1.80 0 1,0 3.60,0 a1.80,1.80 0 1,0 -3.60,0M127.52,227.56 a1.80,1.80 0 1,0 3.60,0 a1.80,1.80 0 1,0 -3.60,0M129.64,227.39 a1.80,1.80 0 1,0 3.60,0 a1.80,1.80 0 1,0 -3.60,0M131.76,227.50 a1.80,1.80 0 1,0 3.60,0 a1.80,1.80 0 1,0 -3.60,0M133.88,227.73 a1.80,1.80 0 1,0 3.60,0 a1.80,1.80 0 1,0 -3.60,0M136.00,227.23 a1.80,1.80 0 1,0 3.60,0 a1.80,1.80 0 1,0 -3.60,0M138.12,227.39 a1.80,1.80 0 1,0 3.60,0 a1.80,1.80 0 1,0 -3.60,0M140.24,227.24 a1.80,1.80 0 1,0 3.60,0 a1.80,1.80 0 1,0 -3.60,0M142.36,227.66 a1.80,1.80 0 1,0 3.60,0 a1.80,1.80 0 1,0 -3.60,0M144.48,227.43 a1.80,1.80 0 1,0 3.60,0 a1.80,1.80 0 1,0 -3.60,0M146.60,227.48 a1.80,1.80 0 1,0 3.60,0 a1.80,1.80 0 1,0 -3.60,0M148.72,227.30 a1.80,1.80 0 1,0 3.60,0 a1.80,1.80 0 1,0 -3.60,0M150.84,227.75 a1.80,1.80 0 1,0 3.60,0 a1.80,1.80 0 1,0 -3.60,0M152.96,227.56 a1.80,1.80 0 1,0 3.60,0 a1.80,1.80 0 1,0 -3.60,0M155.08,227.47 a1.80,1.80 0 1,0 3.60,0 a1.80,1.80 0 1,0 -3.60,0M157.20,227.75 a1.80,1.80 0 1,0 3.60,0 a1.80,1.80 0 1,0 -3.60,0M159.32,227.42 a1.80,1.80 0 1,0 3.60,0 a1.80,1.80 0 1,0 -3.60,0M161.44,227.30 a1.80,1.80 0 1,0 3.60,0 a1.80,1.80 0 1,0 -3.60,0M163.56,227.51 a1.80,1.80 0 1,0 3.60,0 a1.80,1.80 0 1,0 -3.60,0M165.68,227.36 a1.80,1.80 0 1,0 3.60,0 a1.80,1.80 0 1,0 -3.60,0M167.80,227.39 a1.80,1.80 0 1,0 3.60,0 a1.80,1.80 0 1,0 -3.60,0M169.92,227.65 a1.80,1.80 0 1,0 3.60,0 a1.80,1.80 0 1,0 -3.60,0M172.04,227.56 a1.80,1.80 0 1,0 3.60,0 a1.80,1.80 0 1,0 -3.60,0M174.16,227.12 a1.80,1.80 0 1,0 3.60,0 a1.80,1.80 0 1,0 -3.60,0M176.28,227.57 a1.80,1.80 0 1,0 3.60,0 a1.80,1.80 0 1,0 -3.60,0M178.40,227.51 a1.80,1.80 0 1,0 3.60,0 a1.80,1.80 0 1,0 -3.60,0M180.52,227.74 a1.80,1.80 0 1,0 3.60,0 a1.80,1.80 0 1,0 -3.60,0M182.64,227.65 a1.80,1.80 0 1,0 3.60,0 a1.80,1.80 0 1,0 -3.60,0M184.76,227.69 a1.80,1.80 0 1,0 3.60,0 a1.80,1.80 0 1,0 -3.60,0M186.88,227.16 a1.80,1.80 0 1,0 3.60,0 a1.80,1.80 0 1,0 -3.60,0M189.00,227.30 a1.80,1.80 0 1,0 3.60,0 a1.80,1.80 0 1,0 -3.60,0M191.12,227.20 a1.80,1.80 0 1,0 3.60,0 a1.80,1.80 0 1,0 -3.60,0M193.24,227.13 a1.80,1.80 0 1,0 3.60,0 a1.80,1.80 0 1,0 -3.60,0M195.36,227.38 a1.80,1.80 0 1,0 3.60,0 a1.80,1.80 0 1,0 -3.60,0M197.48,227.16 a1.80,1.80 0 1,0 3.60,0 a1.80,1.80 0 1,0 -3.60,0M199.60,227.43 a1.80,1.80 0 1,0 3.60,0 a1.80,1.80 0 1,0 -3.60,0M201.72,227.51 a1.80,1.80 0 1,0 3.60,0 a1.80,1.80 0 1,0 -3.60,0M203.84,227.15 a1.80,1.80 0 1,0 3.60,0 a1.80,1.80 0 1,0 -3.60,0M205.96,227.18 a1.80,1.80 0 1,0 3.60,0 a1.80,1.80 0 1,0 -3.60,0M208.08,227.15 a1.80,1.80 0 1,0 3.60,0 a1.80,1.80 0 1,0 -3.60,0M210.20,227.47 a1.80,1.80 0 1,0 3.60,0 a1.80,1.80 0 1,0 -3.60,0M212.32,227.27 a1.80,1.80 0 1,0 3.60,0 a1.80,1.80 0 1,0 -3.60,0M214.44,227.52 a1.80,1.80 0 1,0 3.60,0 a1.80,1.80 0 1,0 -3.60,0M216.56,227.12 a1.80,1.80 0 1,0 3.60,0 a1.80,1.80 0 1,0 -3.60,0M218.68,227.17 a1.80,1.80 0 1,0 3.60,0 a1.80,1.80 0 1,0 -3.60,0M220.80,227.60 a1.80,1.80 0 1,0 3.60,0 a1.80,1.80 0 1,0 -3.60,0M222.92,227.16 a1.80,1.80 0 1,0 3.60,0 a1.80,1.80 0 1,0 -3.60,0M225.04,227.67 a1.80,1.80 0 1,0 3.60,0 a1.80,1.80 0 1,0 -3.60,0M227.16,227.74 a1.80,1.80 0 1,0 3.60,0 a1.80,1.80 0 1,0 -3.60,0M229.28,227.31 a1.80,1.80 0 1,0 3.60,0 a1.80,1.80 0 1,0 -3.60,0M231.40,227.60 a1.80,1.80 0 1,0 3.60,0 a1.80,1.80 0 1,0 -3.60,0M233.52,227.45 a1.80,1.80 0 1,0 3.60,0 a1.80,1.80 0 1,0 -3.60,0M235.64,227.36 a1.80,1.80 0 1,0 3.60,0 a1.80,1.80 0 1,0 -3.60,0M237.76,227.77 a1.80,1.80 0 1,0 3.60,0 a1.80,1.80 0 1,0 -3.60,0M239.88,227.29 a1.80,1.80 0 1,0 3.60,0 a1.80,1.80 0 1,0 -3.60,0M242.00,227.61 a1.80,1.80 0 1,0 3.60,0 a1.80,1.80 0 1,0 -3.60,0M244.12,227.51 a1.80,1.80 0 1,0 3.60,0 a1.80,1.80 0 1,0 -3.60,0M246.24,227.57 a1.80,1.80 0 1,0 3.60,0 a1.80,1.80 0 1,0 -3.60,0M248.36,227.29 a1.80,1.80 0 1,0 3.60,0 a1.80,1.80 0 1,0 -3.60,0M250.48,227.29 a1.80,1.80 0 1,0 3.60,0 a1.80,1.80 0 1,0 -3.60,0M252.60,227.60 a1.80,1.80 0 1,0 3.60,0 a1.80,1.80 0 1,0 -3.60,0" fill="#fff" fill-opacity="0.6" stroke="#f77a0c" stroke-width="1" opacity="1"/>
</g>
<rect x="42.40" y="222.50" width="212.00" height="171.00" fill="none" stroke="#222" stroke-width="1.3"/>
<line x1="84.80" y1="393.50" x2="84.80" y2="390.00" stroke="#222" stroke-width="1"/>
<line x1="127.20" y1="393.50" x2="127.20" y2="390.00" stroke="#222" stroke-width="1"/>
<line x1="169.60" y1="393.50" x2="169.60" y2="390.00" stroke="#222" stroke-width="1"/>
<line x1="212.00" y1="393.50" x2="212.00" y2="390.00" stroke="#222" stroke-width="1"/>
<line x1="63.60" y1="393.50" x2="63.60" y2="391.50" stroke="#222" stroke-width="1"/>
<line x1="106.00" y1="393.50" x2="106.00" y2="391.50" stroke="#222" stroke-width="1"/>
<line x1="148.40" y1="393.50" x2="148.40" y2="391.50" stroke="#222" stroke-width="1"/>
<line x1="190.80" y1="393.50" x2="190.80" y2="391.50" stroke="#222" stroke-width="1"/>
<line x1="233.20" y1="393.50" x2="233.20" y2="391.50" stroke="#222" stroke-width="1"/>
<line x1="42.40" y1="359.30" x2="45.90" y2="359.30" stroke="#222" stroke-width="1"/>
<line x1="42.40" y1="325.10" x2="45.90" y2="325.10" stroke="#222" stroke-width="1"/>
<line x1="42.40" y1="290.90" x2="45.90" y2="290.90" stroke="#222" stroke-width="1"/>
<line x1="42.40" y1="256.70" x2="45.90" y2="256.70" stroke="#222" stroke-width="1"/>
<line x1="42.40" y1="376.40" x2="44.40" y2="376.40" stroke="#222" stroke-width="1"/>
<line x1="42.40" y1="342.20" x2="44.40" y2="342.20" stroke="#222" stroke-width="1"/>
<line x1="42.40" y1="308.00" x2="44.40" y2="308.00" stroke="#222" stroke-width="1"/>
<line x1="42.40" y1="273.80" x2="44.40" y2="273.80" stroke="#222" stroke-width="1"/>
<line x1="42.40" y1="239.60" x2="44.40" y2="239.60" stroke="#222" stroke-width="1"/>
<line x1="254.40" y1="359.30" x2="250.90" y2="359.30" stroke="#222" stroke-width="1"/>
<line x1="254.40" y1="325.10" x2="250.90" y2="325.10" stroke="#222" stroke-width="1"/>
<line x1="254.40" y1="290.90" x2="250.90" y2="290.90" stroke="#222" stroke-width="1"/>
<line x1="254.40" y1="256.70" x2="250.90" y2="256.70" stroke="#222" stroke-width="1"/>
<line x1="254.40" y1="376.40" x2="252.40" y2="376.40" stroke="#222" stroke-width="1"/>
<line x1="254.40" y1="342.20" x2="252.40" y2="342.20" stroke="#222" stroke-width="1"/>
<line x1="254.40" y1="308.00" x2="252.40" y2="308.00" stroke="#222" stroke-width="1"/>
<line x1="254.40" y1="273.80" x2="252.40" y2="273.80" stroke="#222" stroke-width="1"/>
<line x1="254.40" y1="239.60" x2="252.40" y2="239.60" stroke="#222" stroke-width="1"/>
<text x="42.40" y="405.07" font-size="9.9" text-anchor="middle" fill="#111">0</text>
<text x="84.80" y="405.07" font-size="9.9" text-anchor="middle" fill="#111">20</text>
<text x="127.20" y="405.07" font-size="9.9" text-anchor="middle" fill="#111">40</text>
<text x="169.60" y="405.07" font-size="9.9" text-anchor="middle" fill="#111">60</text>
<text x="212.00" y="405.07" font-size="9.9" text-anchor="middle" fill="#111">80</text>
<text x="254.40" y="405.07" font-size="9.9" text-anchor="middle" fill="#111">100</text>
<text x="39.00" y="396.77" font-size="9.9" text-anchor="end" fill="#111">0</text>
<text x="39.00" y="362.57" font-size="9.9" text-anchor="end" fill="#111">200</text>
<text x="39.00" y="328.37" font-size="9.9" text-anchor="end" fill="#111">400</text>
<text x="39.00" y="294.17" font-size="9.9" text-anchor="end" fill="#111">600</text>
<text x="39.00" y="259.97" font-size="9.9" text-anchor="end" fill="#111">800</text>
<text x="39.00" y="225.77" font-size="9.9" text-anchor="end" fill="#111">1000</text>
<text x="257.50" y="396.77" font-size="9.9" text-anchor="start" fill="#111">0</text>
<text x="257.50" y="362.57" font-size="9.9" text-anchor="start" fill="#111">20</text>
<text x="257.50" y="328.37" font-size="9.9" text-anchor="start" fill="#111">40</text>
<text x="257.50" y="294.17" font-size="9.9" text-anchor="start" fill="#111">60</text>
<text x="257.50" y="259.97" font-size="9.9" text-anchor="start" fill="#111">80</text>
<text x="257.50" y="225.77" font-size="9.9" text-anchor="start" fill="#111">100</text>
<text x="10.90" y="224.77" font-size="9.9" text-anchor="middle" fill="#111">(c)</text>
<text x="148.00" y="424.10" font-size="9.9" text-anchor="middle" fill="#111">Cycle number</text>
<text x="15.20" y="308.50" font-size="9.9" text-anchor="middle" fill="#111" transform="rotate(-90 15.20 308.50)">Specific capacity (mAh g<tspan font-size="6" dy="-4">-1</tspan><tspan dy="4">)</tspan></text>
<text x="283.20" y="309.00" font-size="9.9" text-anchor="middle" fill="#111" transform="rotate(-90 283.20 309.00)">Coulombic efficiency (%)</text>
<text x="83.30" y="348.87" font-size="9.9" text-anchor="middle" fill="#111">BA-Sb</text>
<text x="111.50" y="348.87" font-size="9.9" text-anchor="middle" fill="#111">100</text>
<text x="140.50" y="348.87" font-size="9.9" text-anchor="middle" fill="#111">200</text>
<text x="169.50" y="348.87" font-size="9.9" text-anchor="middle" fill="#111">300</text>
<text x="186.00" y="361.27" font-size="9.9" text-anchor="start" fill="#111">charge</text>
<text x="186.00" y="373.27" font-size="9.9" text-anchor="start" fill="#111">discharge</text>
<line x1="72" y1="357.6" x2="92" y2="357.6" stroke="#a860dc" stroke-width="1.2"/>
<path d="M81.60,355.00 L82.29,356.65 L84.07,356.80 L82.71,357.96 L83.13,359.70 L81.60,358.77 L80.07,359.70 L80.49,357.96 L79.13,356.80 L80.91,356.65Z" fill="#fff" stroke="#801cc4" stroke-width="0.9"/>
<line x1="72" y1="369.6" x2="92" y2="369.6" stroke="#a860dc" stroke-width="1.2"/>
<path d="M81.60,366.80 L82.34,368.58 L84.26,368.73 L82.80,369.99 L83.25,371.87 L81.60,370.86 L79.95,371.87 L80.40,369.99 L78.94,368.73 L80.86,368.58Z" fill="#801cc4"/>
<line x1="101" y1="357.6" x2="121" y2="357.6" stroke="#5ab89a" stroke-width="1.2"/>
<path d="M111.00,355.00 L113.60,357.60 L111.00,360.20 L108.40,357.60Z" fill="#fff" stroke="#13906a" stroke-width="0.9"/>
<line x1="101" y1="369.6" x2="121" y2="369.6" stroke="#5ab89a" stroke-width="1.2"/>
<path d="M111.00,366.80 L113.80,369.60 L111.00,372.40 L108.20,369.60Z" fill="#13906a"/>
<line x1="131" y1="357.6" x2="151" y2="357.6" stroke="#ff9a40" stroke-width="1.2"/>
<path d="M141.00,355.00 L143.47,359.42 L138.53,359.42Z" fill="#fff" stroke="#ff7f10" stroke-width="0.9"/>
<line x1="131" y1="369.6" x2="151" y2="369.6" stroke="#ff9a40" stroke-width="1.2"/>
<path d="M141.00,366.80 L143.66,371.56 L138.34,371.56Z" fill="#ff7f10"/>
<line x1="160" y1="357.6" x2="180" y2="357.6" stroke="#a03030" stroke-width="1.2"/>
<path d="M167.40,357.60 a2.60,2.60 0 1,0 5.20,0 a2.60,2.60 0 1,0 -5.20,0" fill="#fff" stroke="#8b0a0a" stroke-width="0.9"/>
<line x1="160" y1="369.6" x2="180" y2="369.6" stroke="#a03030" stroke-width="1.2"/>
<path d="M167.20,369.60 a2.80,2.80 0 1,0 5.60,0 a2.80,2.80 0 1,0 -5.60,0" fill="#8b0a0a"/>
<line x1="356.90" y1="230.00" x2="356.90" y2="400.70" stroke="#555" stroke-width="0.95" stroke-dasharray="1.4 1.9"/>
<line x1="386.60" y1="230.00" x2="386.60" y2="400.70" stroke="#555" stroke-width="0.95" stroke-dasharray="1.4 1.9"/>
<line x1="416.80" y1="230.00" x2="416.80" y2="400.70" stroke="#555" stroke-width="0.95" stroke-dasharray="1.4 1.9"/>
<line x1="447.30" y1="230.00" x2="447.30" y2="400.70" stroke="#555" stroke-width="0.95" stroke-dasharray="1.4 1.9"/>
<line x1="478.10" y1="230.00" x2="478.10" y2="400.70" stroke="#555" stroke-width="0.95" stroke-dasharray="1.4 1.9"/>
<line x1="508.60" y1="230.00" x2="508.60" y2="400.70" stroke="#555" stroke-width="0.95" stroke-dasharray="1.4 1.9"/>
<g>
<path d="M329.73,339.37 L332.76,340.40 L335.79,340.97 L338.82,342.27 L341.85,342.41 L344.88,342.98 L347.91,343.65 L350.94,343.79 L353.97,344.57 L357.00,344.76 L360.03,355.25 L363.06,357.37 L366.09,359.27 L369.12,359.96 L372.15,361.41 L375.18,362.31 L378.21,362.42 L381.24,362.58 L384.27,363.22 L387.30,363.73 L390.33,376.99 L393.36,378.65 L396.39,379.12 L399.42,380.53 L402.45,380.89 L405.48,381.16 L408.51,381.29 L411.54,381.20 L414.57,381.88 L417.60,381.87 L420.63,387.12 L423.66,387.53 L426.69,387.64 L429.72,388.20 L432.75,388.43 L435.78,388.55 L438.81,388.46 L441.84,388.86 L444.87,389.16 L447.90,389.20 L450.93,392.54 L453.96,392.85 L456.99,392.72 L460.02,393.00 L463.05,393.52 L466.08,393.50 L469.11,393.74 L472.14,393.71 L475.17,394.02 L478.20,394.53 L481.23,395.76 L484.26,396.39 L487.29,396.22 L490.32,396.03 L493.35,396.48 L496.38,396.29 L499.41,396.63 L502.44,396.24 L505.47,396.21 L508.50,396.38 L511.53,351.79 L514.56,352.18 L517.59,351.92 L520.62,351.99 L523.65,352.00 L526.68,352.08 L529.71,351.82 L532.74,351.75 L535.77,352.07 L538.80,351.94" fill="none" stroke="#8b0a0a" stroke-width="1.2" opacity="1"/>
<path d="M327.73,339.37 a2.00,2.00 0 1,0 4.00,0 a2.00,2.00 0 1,0 -4.00,0M330.76,340.40 a2.00,2.00 0 1,0 4.00,0 a2.00,2.00 0 1,0 -4.00,0M333.79,340.97 a2.00,2.00 0 1,0 4.00,0 a2.00,2.00 0 1,0 -4.00,0M336.82,342.27 a2.00,2.00 0 1,0 4.00,0 a2.00,2.00 0 1,0 -4.00,0M339.85,342.41 a2.00,2.00 0 1,0 4.00,0 a2.00,2.00 0 1,0 -4.00,0M342.88,342.98 a2.00,2.00 0 1,0 4.00,0 a2.00,2.00 0 1,0 -4.00,0M345.91,343.65 a2.00,2.00 0 1,0 4.00,0 a2.00,2.00 0 1,0 -4.00,0M348.94,343.79 a2.00,2.00 0 1,0 4.00,0 a2.00,2.00 0 1,0 -4.00,0M351.97,344.57 a2.00,2.00 0 1,0 4.00,0 a2.00,2.00 0 1,0 -4.00,0M355.00,344.76 a2.00,2.00 0 1,0 4.00,0 a2.00,2.00 0 1,0 -4.00,0M358.03,355.25 a2.00,2.00 0 1,0 4.00,0 a2.00,2.00 0 1,0 -4.00,0M361.06,357.37 a2.00,2.00 0 1,0 4.00,0 a2.00,2.00 0 1,0 -4.00,0M364.09,359.27 a2.00,2.00 0 1,0 4.00,0 a2.00,2.00 0 1,0 -4.00,0M367.12,359.96 a2.00,2.00 0 1,0 4.00,0 a2.00,2.00 0 1,0 -4.00,0M370.15,361.41 a2.00,2.00 0 1,0 4.00,0 a2.00,2.00 0 1,0 -4.00,0M373.18,362.31 a2.00,2.00 0 1,0 4.00,0 a2.00,2.00 0 1,0 -4.00,0M376.21,362.42 a2.00,2.00 0 1,0 4.00,0 a2.00,2.00 0 1,0 -4.00,0M379.24,362.58 a2.00,2.00 0 1,0 4.00,0 a2.00,2.00 0 1,0 -4.00,0M382.27,363.22 a2.00,2.00 0 1,0 4.00,0 a2.00,2.00 0 1,0 -4.00,0M385.30,363.73 a2.00,2.00 0 1,0 4.00,0 a2.00,2.00 0 1,0 -4.00,0M388.33,376.99 a2.00,2.00 0 1,0 4.00,0 a2.00,2.00 0 1,0 -4.00,0M391.36,378.65 a2.00,2.00 0 1,0 4.00,0 a2.00,2.00 0 1,0 -4.00,0M394.39,379.12 a2.00,2.00 0 1,0 4.00,0 a2.00,2.00 0 1,0 -4.00,0M397.42,380.53 a2.00,2.00 0 1,0 4.00,0 a2.00,2.00 0 1,0 -4.00,0M400.45,380.89 a2.00,2.00 0 1,0 4.00,0 a2.00,2.00 0 1,0 -4.00,0M403.48,381.16 a2.00,2.00 0 1,0 4.00,0 a2.00,2.00 0 1,0 -4.00,0M406.51,381.29 a2.00,2.00 0 1,0 4.00,0 a2.00,2.00 0 1,0 -4.00,0M409.54,381.20 a2.00,2.00 0 1,0 4.00,0 a2.00,2.00 0 1,0 -4.00,0M412.57,381.88 a2.00,2.00 0 1,0 4.00,0 a2.00,2.00 0 1,0 -4.00,0M415.60,381.87 a2.00,2.00 0 1,0 4.00,0 a2.00,2.00 0 1,0 -4.00,0M418.63,387.12 a2.00,2.00 0 1,0 4.00,0 a2.00,2.00 0 1,0 -4.00,0M421.66,387.53 a2.00,2.00 0 1,0 4.00,0 a2.00,2.00 0 1,0 -4.00,0M424.69,387.64 a2.00,2.00 0 1,0 4.00,0 a2.00,2.00 0 1,0 -4.00,0M427.72,388.20 a2.00,2.00 0 1,0 4.00,0 a2.00,2.00 0 1,0 -4.00,0M430.75,388.43 a2.00,2.00 0 1,0 4.00,0 a2.00,2.00 0 1,0 -4.00,0M433.78,388.55 a2.00,2.00 0 1,0 4.00,0 a2.00,2.00 0 1,0 -4.00,0M436.81,388.46 a2.00,2.00 0 1,0 4.00,0 a2.00,2.00 0 1,0 -4.00,0M439.84,388.86 a2.00,2.00 0 1,0 4.00,0 a2.00,2.00 0 1,0 -4.00,0M442.87,389.16 a2.00,2.00 0 1,0 4.00,0 a2.00,2.00 0 1,0 -4.00,0M445.90,389.20 a2.00,2.00 0 1,0 4.00,0 a2.00,2.00 0 1,0 -4.00,0M448.93,392.54 a2.00,2.00 0 1,0 4.00,0 a2.00,2.00 0 1,0 -4.00,0M451.96,392.85 a2.00,2.00 0 1,0 4.00,0 a2.00,2.00 0 1,0 -4.00,0M454.99,392.72 a2.00,2.00 0 1,0 4.00,0 a2.00,2.00 0 1,0 -4.00,0M458.02,393.00 a2.00,2.00 0 1,0 4.00,0 a2.00,2.00 0 1,0 -4.00,0M461.05,393.52 a2.00,2.00 0 1,0 4.00,0 a2.00,2.00 0 1,0 -4.00,0M464.08,393.50 a2.00,2.00 0 1,0 4.00,0 a2.00,2.00 0 1,0 -4.00,0M467.11,393.74 a2.00,2.00 0 1,0 4.00,0 a2.00,2.00 0 1,0 -4.00,0M470.14,393.71 a2.00,2.00 0 1,0 4.00,0 a2.00,2.00 0 1,0 -4.00,0M473.17,394.02 a2.00,2.00 0 1,0 4.00,0 a2.00,2.00 0 1,0 -4.00,0M476.20,394.53 a2.00,2.00 0 1,0 4.00,0 a2.00,2.00 0 1,0 -4.00,0M479.23,395.76 a2.00,2.00 0 1,0 4.00,0 a2.00,2.00 0 1,0 -4.00,0M482.26,396.39 a2.00,2.00 0 1,0 4.00,0 a2.00,2.00 0 1,0 -4.00,0M485.29,396.22 a2.00,2.00 0 1,0 4.00,0 a2.00,2.00 0 1,0 -4.00,0M488.32,396.03 a2.00,2.00 0 1,0 4.00,0 a2.00,2.00 0 1,0 -4.00,0M491.35,396.48 a2.00,2.00 0 1,0 4.00,0 a2.00,2.00 0 1,0 -4.00,0M494.38,396.29 a2.00,2.00 0 1,0 4.00,0 a2.00,2.00 0 1,0 -4.00,0M497.41,396.63 a2.00,2.00 0 1,0 4.00,0 a2.00,2.00 0 1,0 -4.00,0M500.44,396.24 a2.00,2.00 0 1,0 4.00,0 a2.00,2.00 0 1,0 -4.00,0M503.47,396.21 a2.00,2.00 0 1,0 4.00,0 a2.00,2.00 0 1,0 -4.00,0M506.50,396.38 a2.00,2.00 0 1,0 4.00,0 a2.00,2.00 0 1,0 -4.00,0M509.53,351.79 a2.00,2.00 0 1,0 4.00,0 a2.00,2.00 0 1,0 -4.00,0M512.56,352.18 a2.00,2.00 0 1,0 4.00,0 a2.00,2.00 0 1,0 -4.00,0M515.59,351.92 a2.00,2.00 0 1,0 4.00,0 a2.00,2.00 0 1,0 -4.00,0M518.62,351.99 a2.00,2.00 0 1,0 4.00,0 a2.00,2.00 0 1,0 -4.00,0M521.65,352.00 a2.00,2.00 0 1,0 4.00,0 a2.00,2.00 0 1,0 -4.00,0M524.68,352.08 a2.00,2.00 0 1,0 4.00,0 a2.00,2.00 0 1,0 -4.00,0M527.71,351.82 a2.00,2.00 0 1,0 4.00,0 a2.00,2.00 0 1,0 -4.00,0M530.74,351.75 a2.00,2.00 0 1,0 4.00,0 a2.00,2.00 0 1,0 -4.00,0M533.77,352.07 a2.00,2.00 0 1,0 4.00,0 a2.00,2.00 0 1,0 -4.00,0M536.80,351.94 a2.00,2.00 0 1,0 4.00,0 a2.00,2.00 0 1,0 -4.00,0" fill="#8b0a0a" opacity="1"/>
<path d="M329.73,339.55 L332.76,340.02 L335.79,340.97 L338.82,341.64 L341.85,342.21 L344.88,343.04 L347.91,343.42 L350.94,343.68 L353.97,344.58 L357.00,344.74 L360.03,355.18 L363.06,357.35 L366.09,359.52 L369.12,360.00 L372.15,361.41 L375.18,362.29 L378.21,362.58 L381.24,362.64 L384.27,363.56 L387.30,363.69 L390.33,377.28 L393.36,378.08 L396.39,379.14 L399.42,380.14 L402.45,380.79 L405.48,380.96 L408.51,381.25 L411.54,381.15 L414.57,381.35 L417.60,382.16 L420.63,387.44 L423.66,387.63 L426.69,387.85 L429.72,387.91 L432.75,388.06 L435.78,388.51 L438.81,388.92 L441.84,388.86 L444.87,389.12 L447.90,389.22 L450.93,392.20 L453.96,392.58 L456.99,392.91 L460.02,393.05 L463.05,393.22 L466.08,393.85 L469.11,393.49 L472.14,393.78 L475.17,393.92 L478.20,394.18 L481.23,396.16 L484.26,396.20 L487.29,396.44 L490.32,396.11 L493.35,396.54 L496.38,396.58 L499.41,396.52 L502.44,396.59 L505.47,396.50 L508.50,396.74 L511.53,352.39 L514.56,352.29 L517.59,352.32 L520.62,352.14 L523.65,352.37 L526.68,351.79 L529.71,351.97 L532.74,352.29 L535.77,352.22 L538.80,352.15" fill="none" stroke="#8b0a0a" stroke-width="1" opacity="1"/>
<path d="M328.13,339.55 a1.60,1.60 0 1,0 3.20,0 a1.60,1.60 0 1,0 -3.20,0M331.16,340.02 a1.60,1.60 0 1,0 3.20,0 a1.60,1.60 0 1,0 -3.20,0M334.19,340.97 a1.60,1.60 0 1,0 3.20,0 a1.60,1.60 0 1,0 -3.20,0M337.22,341.64 a1.60,1.60 0 1,0 3.20,0 a1.60,1.60 0 1,0 -3.20,0M340.25,342.21 a1.60,1.60 0 1,0 3.20,0 a1.60,1.60 0 1,0 -3.20,0M343.28,343.04 a1.60,1.60 0 1,0 3.20,0 a1.60,1.60 0 1,0 -3.20,0M346.31,343.42 a1.60,1.60 0 1,0 3.20,0 a1.60,1.60 0 1,0 -3.20,0M349.34,343.68 a1.60,1.60 0 1,0 3.20,0 a1.60,1.60 0 1,0 -3.20,0M352.37,344.58 a1.60,1.60 0 1,0 3.20,0 a1.60,1.60 0 1,0 -3.20,0M355.40,344.74 a1.60,1.60 0 1,0 3.20,0 a1.60,1.60 0 1,0 -3.20,0M358.43,355.18 a1.60,1.60 0 1,0 3.20,0 a1.60,1.60 0 1,0 -3.20,0M361.46,357.35 a1.60,1.60 0 1,0 3.20,0 a1.60,1.60 0 1,0 -3.20,0M364.49,359.52 a1.60,1.60 0 1,0 3.20,0 a1.60,1.60 0 1,0 -3.20,0M367.52,360.00 a1.60,1.60 0 1,0 3.20,0 a1.60,1.60 0 1,0 -3.20,0M370.55,361.41 a1.60,1.60 0 1,0 3.20,0 a1.60,1.60 0 1,0 -3.20,0M373.58,362.29 a1.60,1.60 0 1,0 3.20,0 a1.60,1.60 0 1,0 -3.20,0M376.61,362.58 a1.60,1.60 0 1,0 3.20,0 a1.60,1.60 0 1,0 -3.20,0M379.64,362.64 a1.60,1.60 0 1,0 3.20,0 a1.60,1.60 0 1,0 -3.20,0M382.67,363.56 a1.60,1.60 0 1,0 3.20,0 a1.60,1.60 0 1,0 -3.20,0M385.70,363.69 a1.60,1.60 0 1,0 3.20,0 a1.60,1.60 0 1,0 -3.20,0M388.73,377.28 a1.60,1.60 0 1,0 3.20,0 a1.60,1.60 0 1,0 -3.20,0M391.76,378.08 a1.60,1.60 0 1,0 3.20,0 a1.60,1.60 0 1,0 -3.20,0M394.79,379.14 a1.60,1.60 0 1,0 3.20,0 a1.60,1.60 0 1,0 -3.20,0M397.82,380.14 a1.60,1.60 0 1,0 3.20,0 a1.60,1.60 0 1,0 -3.20,0M400.85,380.79 a1.60,1.60 0 1,0 3.20,0 a1.60,1.60 0 1,0 -3.20,0M403.88,380.96 a1.60,1.60 0 1,0 3.20,0 a1.60,1.60 0 1,0 -3.20,0M406.91,381.25 a1.60,1.60 0 1,0 3.20,0 a1.60,1.60 0 1,0 -3.20,0M409.94,381.15 a1.60,1.60 0 1,0 3.20,0 a1.60,1.60 0 1,0 -3.20,0M412.97,381.35 a1.60,1.60 0 1,0 3.20,0 a1.60,1.60 0 1,0 -3.20,0M416.00,382.16 a1.60,1.60 0 1,0 3.20,0 a1.60,1.60 0 1,0 -3.20,0M419.03,387.44 a1.60,1.60 0 1,0 3.20,0 a1.60,1.60 0 1,0 -3.20,0M422.06,387.63 a1.60,1.60 0 1,0 3.20,0 a1.60,1.60 0 1,0 -3.20,0M425.09,387.85 a1.60,1.60 0 1,0 3.20,0 a1.60,1.60 0 1,0 -3.20,0M428.12,387.91 a1.60,1.60 0 1,0 3.20,0 a1.60,1.60 0 1,0 -3.20,0M431.15,388.06 a1.60,1.60 0 1,0 3.20,0 a1.60,1.60 0 1,0 -3.20,0M434.18,388.51 a1.60,1.60 0 1,0 3.20,0 a1.60,1.60 0 1,0 -3.20,0M437.21,388.92 a1.60,1.60 0 1,0 3.20,0 a1.60,1.60 0 1,0 -3.20,0M440.24,388.86 a1.60,1.60 0 1,0 3.20,0 a1.60,1.60 0 1,0 -3.20,0M443.27,389.12 a1.60,1.60 0 1,0 3.20,0 a1.60,1.60 0 1,0 -3.20,0M446.30,389.22 a1.60,1.60 0 1,0 3.20,0 a1.60,1.60 0 1,0 -3.20,0M449.33,392.20 a1.60,1.60 0 1,0 3.20,0 a1.60,1.60 0 1,0 -3.20,0M452.36,392.58 a1.60,1.60 0 1,0 3.20,0 a1.60,1.60 0 1,0 -3.20,0M455.39,392.91 a1.60,1.60 0 1,0 3.20,0 a1.60,1.60 0 1,0 -3.20,0M458.42,393.05 a1.60,1.60 0 1,0 3.20,0 a1.60,1.60 0 1,0 -3.20,0M461.45,393.22 a1.60,1.60 0 1,0 3.20,0 a1.60,1.60 0 1,0 -3.20,0M464.48,393.85 a1.60,1.60 0 1,0 3.20,0 a1.60,1.60 0 1,0 -3.20,0M467.51,393.49 a1.60,1.60 0 1,0 3.20,0 a1.60,1.60 0 1,0 -3.20,0M470.54,393.78 a1.60,1.60 0 1,0 3.20,0 a1.60,1.60 0 1,0 -3.20,0M473.57,393.92 a1.60,1.60 0 1,0 3.20,0 a1.60,1.60 0 1,0 -3.20,0M476.60,394.18 a1.60,1.60 0 1,0 3.20,0 a1.60,1.60 0 1,0 -3.20,0M479.63,396.16 a1.60,1.60 0 1,0 3.20,0 a1.60,1.60 0 1,0 -3.20,0M482.66,396.20 a1.60,1.60 0 1,0 3.20,0 a1.60,1.60 0 1,0 -3.20,0M485.69,396.44 a1.60,1.60 0 1,0 3.20,0 a1.60,1.60 0 1,0 -3.20,0M488.72,396.11 a1.60,1.60 0 1,0 3.20,0 a1.60,1.60 0 1,0 -3.20,0M491.75,396.54 a1.60,1.60 0 1,0 3.20,0 a1.60,1.60 0 1,0 -3.20,0M494.78,396.58 a1.60,1.60 0 1,0 3.20,0 a1.60,1.60 0 1,0 -3.20,0M497.81,396.52 a1.60,1.60 0 1,0 3.20,0 a1.60,1.60 0 1,0 -3.20,0M500.84,396.59 a1.60,1.60 0 1,0 3.20,0 a1.60,1.60 0 1,0 -3.20,0M503.87,396.50 a1.60,1.60 0 1,0 3.20,0 a1.60,1.60 0 1,0 -3.20,0M506.90,396.74 a1.60,1.60 0 1,0 3.20,0 a1.60,1.60 0 1,0 -3.20,0M509.93,352.39 a1.60,1.60 0 1,0 3.20,0 a1.60,1.60 0 1,0 -3.20,0M512.96,352.29 a1.60,1.60 0 1,0 3.20,0 a1.60,1.60 0 1,0 -3.20,0M515.99,352.32 a1.60,1.60 0 1,0 3.20,0 a1.60,1.60 0 1,0 -3.20,0M519.02,352.14 a1.60,1.60 0 1,0 3.20,0 a1.60,1.60 0 1,0 -3.20,0M522.05,352.37 a1.60,1.60 0 1,0 3.20,0 a1.60,1.60 0 1,0 -3.20,0M525.08,351.79 a1.60,1.60 0 1,0 3.20,0 a1.60,1.60 0 1,0 -3.20,0M528.11,351.97 a1.60,1.60 0 1,0 3.20,0 a1.60,1.60 0 1,0 -3.20,0M531.14,352.29 a1.60,1.60 0 1,0 3.20,0 a1.60,1.60 0 1,0 -3.20,0M534.17,352.22 a1.60,1.60 0 1,0 3.20,0 a1.60,1.60 0 1,0 -3.20,0M537.20,352.15 a1.60,1.60 0 1,0 3.20,0 a1.60,1.60 0 1,0 -3.20,0" fill="#8b0a0a" opacity="1"/>
<path d="M329.73,324.07 L332.76,321.50 L335.79,318.97 L338.82,317.24 L341.85,318.24 L344.88,318.50 L347.91,319.33 L350.94,319.59 L353.97,319.55 L357.00,319.94 L360.03,327.19 L363.06,328.25 L366.09,328.60 L369.12,327.48 L372.15,328.21 L375.18,328.88 L378.21,328.49 L381.24,329.35 L384.27,328.82 L387.30,328.35 L390.33,336.70 L393.36,337.01 L396.39,337.68 L399.42,337.61 L402.45,337.96 L405.48,337.21 L408.51,337.61 L411.54,337.35 L414.57,338.04 L417.60,338.26 L420.63,343.26 L423.66,344.56 L426.69,347.64 L429.72,349.75 L432.75,347.01 L435.78,343.36 L438.81,345.42 L441.84,347.42 L444.87,344.57 L447.90,345.01 L450.93,357.82 L453.96,360.89 L456.99,364.33 L460.02,366.55 L463.05,369.01 L466.08,370.39 L469.11,368.35 L472.14,365.89 L475.17,367.65 L478.20,370.84 L481.23,380.60 L484.26,382.98 L487.29,385.41 L490.32,385.63 L493.35,385.28 L496.38,385.13 L499.41,384.49 L502.44,384.26 L505.47,383.29 L508.50,382.37 L511.53,323.60 L514.56,323.24 L517.59,323.33 L520.62,323.62 L523.65,323.79 L526.68,324.28 L529.71,324.81 L532.74,324.10 L535.77,324.85 L538.80,324.33" fill="none" stroke="#a860dc" stroke-width="0.9" opacity="1"/>
<path d="M329.73,321.87 L330.31,323.27 L331.82,323.39 L330.67,324.38 L331.02,325.85 L329.73,325.06 L328.44,325.85 L328.79,324.38 L327.64,323.39 L329.15,323.27ZM332.76,319.30 L333.34,320.70 L334.85,320.82 L333.70,321.80 L334.05,323.28 L332.76,322.49 L331.47,323.28 L331.82,321.80 L330.67,320.82 L332.18,320.70ZM335.79,316.77 L336.37,318.17 L337.88,318.29 L336.73,319.28 L337.08,320.75 L335.79,319.96 L334.50,320.75 L334.85,319.28 L333.70,318.29 L335.21,318.17ZM338.82,315.04 L339.40,316.44 L340.91,316.56 L339.76,317.54 L340.11,319.02 L338.82,318.23 L337.53,319.02 L337.88,317.54 L336.73,316.56 L338.24,316.44ZM341.85,316.04 L342.43,317.44 L343.94,317.56 L342.79,318.55 L343.14,320.02 L341.85,319.23 L340.56,320.02 L340.91,318.55 L339.76,317.56 L341.27,317.44ZM344.88,316.30 L345.46,317.70 L346.97,317.82 L345.82,318.81 L346.17,320.28 L344.88,319.49 L343.59,320.28 L343.94,318.81 L342.79,317.82 L344.30,317.70ZM347.91,317.13 L348.49,318.53 L350.00,318.65 L348.85,319.64 L349.20,321.11 L347.91,320.32 L346.62,321.11 L346.97,319.64 L345.82,318.65 L347.33,318.53ZM350.94,317.39 L351.52,318.79 L353.03,318.91 L351.88,319.90 L352.23,321.37 L350.94,320.58 L349.65,321.37 L350.00,319.90 L348.85,318.91 L350.36,318.79ZM353.97,317.35 L354.55,318.75 L356.06,318.87 L354.91,319.85 L355.26,321.33 L353.97,320.54 L352.68,321.33 L353.03,319.85 L351.88,318.87 L353.39,318.75ZM357.00,317.74 L357.58,319.14 L359.09,319.26 L357.94,320.24 L358.29,321.72 L357.00,320.93 L355.71,321.72 L356.06,320.24 L354.91,319.26 L356.42,319.14ZM360.03,324.99 L360.61,326.39 L362.12,326.51 L360.97,327.50 L361.32,328.97 L360.03,328.18 L358.74,328.97 L359.09,327.50 L357.94,326.51 L359.45,326.39ZM363.06,326.05 L363.64,327.45 L365.15,327.57 L364.00,328.56 L364.35,330.03 L363.06,329.24 L361.77,330.03 L362.12,328.56 L360.97,327.57 L362.48,327.45ZM366.09,326.40 L366.67,327.79 L368.18,327.92 L367.03,328.90 L367.38,330.37 L366.09,329.59 L364.80,330.37 L365.15,328.90 L364.00,327.92 L365.51,327.79ZM369.12,325.28 L369.70,326.68 L371.21,326.80 L370.06,327.79 L370.41,329.26 L369.12,328.47 L367.83,329.26 L368.18,327.79 L367.03,326.80 L368.54,326.68ZM372.15,326.01 L372.73,327.41 L374.24,327.53 L373.09,328.51 L373.44,329.99 L372.15,329.20 L370.86,329.99 L371.21,328.51 L370.06,327.53 L371.57,327.41ZM375.18,326.68 L375.76,328.08 L377.27,328.20 L376.12,329.19 L376.47,330.66 L375.18,329.87 L373.89,330.66 L374.24,329.19 L373.09,328.20 L374.60,328.08ZM378.21,326.29 L378.79,327.69 L380.30,327.81 L379.15,328.80 L379.50,330.27 L378.21,329.48 L376.92,330.27 L377.27,328.80 L376.12,327.81 L377.63,327.69ZM381.24,327.15 L381.82,328.55 L383.33,328.67 L382.18,329.65 L382.53,331.13 L381.24,330.34 L379.95,331.13 L380.30,329.65 L379.15,328.67 L380.66,328.55ZM384.27,326.62 L384.85,328.01 L386.36,328.14 L385.21,329.12 L385.56,330.60 L384.27,329.81 L382.98,330.60 L383.33,329.12 L382.18,328.14 L383.69,328.01ZM387.30,326.15 L387.88,327.55 L389.39,327.67 L388.24,328.66 L388.59,330.13 L387.30,329.34 L386.01,330.13 L386.36,328.66 L385.21,327.67 L386.72,327.55ZM390.33,334.50 L390.91,335.90 L392.42,336.02 L391.27,337.01 L391.62,338.48 L390.33,337.69 L389.04,338.48 L389.39,337.01 L388.24,336.02 L389.75,335.90ZM393.36,334.81 L393.94,336.21 L395.45,336.33 L394.30,337.31 L394.65,338.79 L393.36,338.00 L392.07,338.79 L392.42,337.31 L391.27,336.33 L392.78,336.21ZM396.39,335.48 L396.97,336.88 L398.48,337.00 L397.33,337.98 L397.68,339.46 L396.39,338.67 L395.10,339.46 L395.45,337.98 L394.30,337.00 L395.81,336.88ZM399.42,335.41 L400.00,336.81 L401.51,336.93 L400.36,337.92 L400.71,339.39 L399.42,338.60 L398.13,339.39 L398.48,337.92 L397.33,336.93 L398.84,336.81ZM402.45,335.76 L403.03,337.16 L404.54,337.28 L403.39,338.26 L403.74,339.74 L402.45,338.95 L401.16,339.74 L401.51,338.26 L400.36,337.28 L401.87,337.16ZM405.48,335.01 L406.06,336.41 L407.57,336.53 L406.42,337.51 L406.77,338.99 L405.48,338.20 L404.19,338.99 L404.54,337.51 L403.39,336.53 L404.90,336.41ZM408.51,335.41 L409.09,336.81 L410.60,336.93 L409.45,337.92 L409.80,339.39 L408.51,338.60 L407.22,339.39 L407.57,337.92 L406.42,336.93 L407.93,336.81ZM411.54,335.15 L412.12,336.55 L413.63,336.67 L412.48,337.66 L412.83,339.13 L411.54,338.34 L410.25,339.13 L410.60,337.66 L409.45,336.67 L410.96,336.55ZM414.57,335.84 L415.15,337.24 L416.66,337.36 L415.51,338.35 L415.86,339.82 L414.57,339.03 L413.28,339.82 L413.63,338.35 L412.48,337.36 L413.99,337.24ZM417.60,336.06 L418.18,337.46 L419.69,337.58 L418.54,338.57 L418.89,340.04 L417.60,339.25 L416.31,340.04 L416.66,338.57 L415.51,337.58 L417.02,337.46ZM420.63,341.06 L421.21,342.46 L422.72,342.58 L421.57,343.57 L421.92,345.04 L420.63,344.25 L419.34,345.04 L419.69,343.57 L418.54,342.58 L420.05,342.46ZM423.66,342.36 L424.24,343.76 L425.75,343.88 L424.60,344.87 L424.95,346.34 L423.66,345.55 L422.37,346.34 L422.72,344.87 L421.57,343.88 L423.08,343.76ZM426.69,345.44 L427.27,346.84 L428.78,346.96 L427.63,347.95 L427.98,349.42 L426.69,348.63 L425.40,349.42 L425.75,347.95 L424.60,346.96 L426.11,346.84ZM429.72,347.55 L430.30,348.95 L431.81,349.07 L430.66,350.06 L431.01,351.53 L429.72,350.74 L428.43,351.53 L428.78,350.06 L427.63,349.07 L429.14,348.95ZM432.75,344.81 L433.33,346.21 L434.84,346.33 L433.69,347.31 L434.04,348.79 L432.75,348.00 L431.46,348.79 L431.81,347.31 L430.66,346.33 L432.17,346.21ZM435.78,341.16 L436.36,342.56 L437.87,342.68 L436.72,343.66 L437.07,345.14 L435.78,344.35 L434.49,345.14 L434.84,343.66 L433.69,342.68 L435.20,342.56ZM438.81,343.22 L439.39,344.62 L440.90,344.75 L439.75,345.73 L440.10,347.20 L438.81,346.41 L437.52,347.20 L437.87,345.73 L436.72,344.75 L438.23,344.62ZM441.84,345.22 L442.42,346.62 L443.93,346.74 L442.78,347.72 L443.13,349.20 L441.84,348.41 L440.55,349.20 L440.90,347.72 L439.75,346.74 L441.26,346.62ZM444.87,342.37 L445.45,343.77 L446.96,343.89 L445.81,344.87 L446.16,346.35 L444.87,345.56 L443.58,346.35 L443.93,344.87 L442.78,343.89 L444.29,343.77ZM447.90,342.81 L448.48,344.21 L449.99,344.33 L448.84,345.32 L449.19,346.79 L447.90,346.00 L446.61,346.79 L446.96,345.32 L445.81,344.33 L447.32,344.21ZM450.93,355.62 L451.51,357.02 L453.02,357.14 L451.87,358.12 L452.22,359.60 L450.93,358.81 L449.64,359.60 L449.99,358.12 L448.84,357.14 L450.35,357.02ZM453.96,358.69 L454.54,360.09 L456.05,360.21 L454.90,361.19 L455.25,362.67 L453.96,361.88 L452.67,362.67 L453.02,361.19 L451.87,360.21 L453.38,360.09ZM456.99,362.13 L457.57,363.53 L459.08,363.65 L457.93,364.63 L458.28,366.11 L456.99,365.32 L455.70,366.11 L456.05,364.63 L454.90,363.65 L456.41,363.53ZM460.02,364.35 L460.60,365.75 L462.11,365.87 L460.96,366.86 L461.31,368.33 L460.02,367.54 L458.73,368.33 L459.08,366.86 L457.93,365.87 L459.44,365.75ZM463.05,366.81 L463.63,368.21 L465.14,368.33 L463.99,369.32 L464.34,370.79 L463.05,370.00 L461.76,370.79 L462.11,369.32 L460.96,368.33 L462.47,368.21ZM466.08,368.19 L466.66,369.59 L468.17,369.71 L467.02,370.69 L467.37,372.17 L466.08,371.38 L464.79,372.17 L465.14,370.69 L463.99,369.71 L465.50,369.59ZM469.11,366.15 L469.69,367.55 L471.20,367.67 L470.05,368.66 L470.40,370.13 L469.11,369.34 L467.82,370.13 L468.17,368.66 L467.02,367.67 L468.53,367.55ZM472.14,363.69 L472.72,365.09 L474.23,365.21 L473.08,366.20 L473.43,367.67 L472.14,366.88 L470.85,367.67 L471.20,366.20 L470.05,365.21 L471.56,365.09ZM475.17,365.45 L475.75,366.84 L477.26,366.97 L476.11,367.95 L476.46,369.43 L475.17,368.64 L473.88,369.43 L474.23,367.95 L473.08,366.97 L474.59,366.84ZM478.20,368.64 L478.78,370.04 L480.29,370.16 L479.14,371.15 L479.49,372.62 L478.20,371.83 L476.91,372.62 L477.26,371.15 L476.11,370.16 L477.62,370.04ZM481.23,378.40 L481.81,379.80 L483.32,379.92 L482.17,380.90 L482.52,382.38 L481.23,381.59 L479.94,382.38 L480.29,380.90 L479.14,379.92 L480.65,379.80ZM484.26,380.78 L484.84,382.18 L486.35,382.30 L485.20,383.28 L485.55,384.76 L484.26,383.97 L482.97,384.76 L483.32,383.28 L482.17,382.30 L483.68,382.18ZM487.29,383.21 L487.87,384.61 L489.38,384.73 L488.23,385.72 L488.58,387.19 L487.29,386.40 L486.00,387.19 L486.35,385.72 L485.20,384.73 L486.71,384.61ZM490.32,383.43 L490.90,384.83 L492.41,384.95 L491.26,385.93 L491.61,387.41 L490.32,386.62 L489.03,387.41 L489.38,385.93 L488.23,384.95 L489.74,384.83ZM493.35,383.08 L493.93,384.48 L495.44,384.60 L494.29,385.59 L494.64,387.06 L493.35,386.27 L492.06,387.06 L492.41,385.59 L491.26,384.60 L492.77,384.48ZM496.38,382.93 L496.96,384.33 L498.47,384.45 L497.32,385.44 L497.67,386.91 L496.38,386.12 L495.09,386.91 L495.44,385.44 L494.29,384.45 L495.80,384.33ZM499.41,382.29 L499.99,383.69 L501.50,383.81 L500.35,384.79 L500.70,386.27 L499.41,385.48 L498.12,386.27 L498.47,384.79 L497.32,383.81 L498.83,383.69ZM502.44,382.06 L503.02,383.45 L504.53,383.58 L503.38,384.56 L503.73,386.04 L502.44,385.25 L501.15,386.04 L501.50,384.56 L500.35,383.58 L501.86,383.45ZM505.47,381.09 L506.05,382.49 L507.56,382.61 L506.41,383.60 L506.76,385.07 L505.47,384.28 L504.18,385.07 L504.53,383.60 L503.38,382.61 L504.89,382.49ZM508.50,380.17 L509.08,381.57 L510.59,381.69 L509.44,382.67 L509.79,384.15 L508.50,383.36 L507.21,384.15 L507.56,382.67 L506.41,381.69 L507.92,381.57ZM511.53,321.40 L512.11,322.80 L513.62,322.92 L512.47,323.90 L512.82,325.38 L511.53,324.59 L510.24,325.38 L510.59,323.90 L509.44,322.92 L510.95,322.80ZM514.56,321.04 L515.14,322.44 L516.65,322.56 L515.50,323.54 L515.85,325.02 L514.56,324.23 L513.27,325.02 L513.62,323.54 L512.47,322.56 L513.98,322.44ZM517.59,321.13 L518.17,322.52 L519.68,322.65 L518.53,323.63 L518.88,325.11 L517.59,324.32 L516.30,325.11 L516.65,323.63 L515.50,322.65 L517.01,322.52ZM520.62,321.42 L521.20,322.82 L522.71,322.94 L521.56,323.93 L521.91,325.40 L520.62,324.61 L519.33,325.40 L519.68,323.93 L518.53,322.94 L520.04,322.82ZM523.65,321.59 L524.23,322.99 L525.74,323.11 L524.59,324.09 L524.94,325.57 L523.65,324.78 L522.36,325.57 L522.71,324.09 L521.56,323.11 L523.07,322.99ZM526.68,322.08 L527.26,323.48 L528.77,323.60 L527.62,324.59 L527.97,326.06 L526.68,325.27 L525.39,326.06 L525.74,324.59 L524.59,323.60 L526.10,323.48ZM529.71,322.61 L530.29,324.01 L531.80,324.13 L530.65,325.12 L531.00,326.59 L529.71,325.80 L528.42,326.59 L528.77,325.12 L527.62,324.13 L529.13,324.01ZM532.74,321.90 L533.32,323.30 L534.83,323.42 L533.68,324.41 L534.03,325.88 L532.74,325.09 L531.45,325.88 L531.80,324.41 L530.65,323.42 L532.16,323.30ZM535.77,322.65 L536.35,324.04 L537.86,324.17 L536.71,325.15 L537.06,326.63 L535.77,325.84 L534.48,326.63 L534.83,325.15 L533.68,324.17 L535.19,324.04ZM538.80,322.13 L539.38,323.53 L540.89,323.65 L539.74,324.63 L540.09,326.11 L538.80,325.32 L537.51,326.11 L537.86,324.63 L536.71,323.65 L538.22,323.53Z" fill="#fff" fill-opacity="0.6" stroke="#a860dc" stroke-width="0.7" opacity="1"/>
<path d="M329.73,304.98 L332.76,301.67 L335.79,300.24 L338.82,298.07 L341.85,296.95 L344.88,298.16 L347.91,298.68 L350.94,299.10 L353.97,299.52 L357.00,301.10 L360.03,297.74 L363.06,297.21 L366.09,297.40 L369.12,298.24 L372.15,299.05 L375.18,299.18 L378.21,300.15 L381.24,300.71 L384.27,299.80 L387.30,300.64 L390.33,304.73 L393.36,304.31 L396.39,305.12 L399.42,304.66 L402.45,304.85 L405.48,305.83 L408.51,305.90 L411.54,305.98 L414.57,306.18 L417.60,305.84 L420.63,317.39 L423.66,317.17 L426.69,317.56 L429.72,316.50 L432.75,317.26 L435.78,317.11 L438.81,316.94 L441.84,316.50 L444.87,317.17 L447.90,316.49 L450.93,335.83 L453.96,328.96 L456.99,325.22 L460.02,325.74 L463.05,325.33 L466.08,326.02 L469.11,326.61 L472.14,325.87 L475.17,327.06 L478.20,328.70 L481.23,355.67 L484.26,353.00 L487.29,350.41 L490.32,347.25 L493.35,348.62 L496.38,349.73 L499.41,352.08 L502.44,354.64 L505.47,358.25 L508.50,361.40 L511.53,299.62 L514.56,301.51 L517.59,302.98 L520.62,302.95 L523.65,302.98 L526.68,303.87 L529.71,303.88 L532.74,304.27 L535.77,304.51 L538.80,304.50" fill="none" stroke="#ff9a40" stroke-width="0.9" opacity="1"/>
<path d="M329.73,302.78 L331.82,306.52 L327.64,306.52ZM332.76,299.47 L334.85,303.21 L330.67,303.21ZM335.79,298.04 L337.88,301.78 L333.70,301.78ZM338.82,295.87 L340.91,299.61 L336.73,299.61ZM341.85,294.75 L343.94,298.49 L339.76,298.49ZM344.88,295.96 L346.97,299.70 L342.79,299.70ZM347.91,296.48 L350.00,300.22 L345.82,300.22ZM350.94,296.90 L353.03,300.64 L348.85,300.64ZM353.97,297.32 L356.06,301.06 L351.88,301.06ZM357.00,298.90 L359.09,302.64 L354.91,302.64ZM360.03,295.54 L362.12,299.28 L357.94,299.28ZM363.06,295.01 L365.15,298.75 L360.97,298.75ZM366.09,295.20 L368.18,298.94 L364.00,298.94ZM369.12,296.04 L371.21,299.78 L367.03,299.78ZM372.15,296.85 L374.24,300.59 L370.06,300.59ZM375.18,296.98 L377.27,300.72 L373.09,300.72ZM378.21,297.95 L380.30,301.69 L376.12,301.69ZM381.24,298.51 L383.33,302.25 L379.15,302.25ZM384.27,297.60 L386.36,301.34 L382.18,301.34ZM387.30,298.44 L389.39,302.18 L385.21,302.18ZM390.33,302.53 L392.42,306.27 L388.24,306.27ZM393.36,302.11 L395.45,305.85 L391.27,305.85ZM396.39,302.92 L398.48,306.66 L394.30,306.66ZM399.42,302.46 L401.51,306.20 L397.33,306.20ZM402.45,302.65 L404.54,306.39 L400.36,306.39ZM405.48,303.63 L407.57,307.37 L403.39,307.37ZM408.51,303.70 L410.60,307.44 L406.42,307.44ZM411.54,303.78 L413.63,307.52 L409.45,307.52ZM414.57,303.98 L416.66,307.72 L412.48,307.72ZM417.60,303.64 L419.69,307.38 L415.51,307.38ZM420.63,315.19 L422.72,318.93 L418.54,318.93ZM423.66,314.97 L425.75,318.71 L421.57,318.71ZM426.69,315.36 L428.78,319.10 L424.60,319.10ZM429.72,314.30 L431.81,318.04 L427.63,318.04ZM432.75,315.06 L434.84,318.80 L430.66,318.80ZM435.78,314.91 L437.87,318.65 L433.69,318.65ZM438.81,314.74 L440.90,318.48 L436.72,318.48ZM441.84,314.30 L443.93,318.04 L439.75,318.04ZM444.87,314.97 L446.96,318.71 L442.78,318.71ZM447.90,314.29 L449.99,318.03 L445.81,318.03ZM450.93,333.63 L453.02,337.37 L448.84,337.37ZM453.96,326.76 L456.05,330.50 L451.87,330.50ZM456.99,323.02 L459.08,326.76 L454.90,326.76ZM460.02,323.54 L462.11,327.28 L457.93,327.28ZM463.05,323.13 L465.14,326.87 L460.96,326.87ZM466.08,323.82 L468.17,327.56 L463.99,327.56ZM469.11,324.41 L471.20,328.15 L467.02,328.15ZM472.14,323.67 L474.23,327.41 L470.05,327.41ZM475.17,324.86 L477.26,328.60 L473.08,328.60ZM478.20,326.50 L480.29,330.24 L476.11,330.24ZM481.23,353.47 L483.32,357.21 L479.14,357.21ZM484.26,350.80 L486.35,354.54 L482.17,354.54ZM487.29,348.21 L489.38,351.95 L485.20,351.95ZM490.32,345.05 L492.41,348.79 L488.23,348.79ZM493.35,346.42 L495.44,350.16 L491.26,350.16ZM496.38,347.53 L498.47,351.27 L494.29,351.27ZM499.41,349.88 L501.50,353.62 L497.32,353.62ZM502.44,352.44 L504.53,356.18 L500.35,356.18ZM505.47,356.05 L507.56,359.79 L503.38,359.79ZM508.50,359.20 L510.59,362.94 L506.41,362.94ZM511.53,297.42 L513.62,301.16 L509.44,301.16ZM514.56,299.31 L516.65,303.05 L512.47,303.05ZM517.59,300.78 L519.68,304.52 L515.50,304.52ZM520.62,300.75 L522.71,304.49 L518.53,304.49ZM523.65,300.78 L525.74,304.52 L521.56,304.52ZM526.68,301.67 L528.77,305.41 L524.59,305.41ZM529.71,301.68 L531.80,305.42 L527.62,305.42ZM532.74,302.07 L534.83,305.81 L530.65,305.81ZM535.77,302.31 L537.86,306.05 L533.68,306.05ZM538.80,302.30 L540.89,306.04 L536.71,306.04Z" fill="#fff" fill-opacity="0.6" stroke="#ff9a40" stroke-width="0.7" opacity="1"/>
<path d="M329.73,281.28 L332.76,281.51 L335.79,283.33 L338.82,284.45 L341.85,286.53 L344.88,288.04 L347.91,289.70 L350.94,292.38 L353.97,293.72 L357.00,294.94 L360.03,294.40 L363.06,296.50 L366.09,297.66 L369.12,298.36 L372.15,300.00 L375.18,300.91 L378.21,302.28 L381.24,302.60 L384.27,303.58 L387.30,304.57 L390.33,310.36 L393.36,310.10 L396.39,310.69 L399.42,311.91 L402.45,311.41 L405.48,311.81 L408.51,313.34 L411.54,312.85 L414.57,314.12 L417.60,314.51 L420.63,318.44 L423.66,318.65 L426.69,319.57 L429.72,319.20 L432.75,319.08 L435.78,319.33 L438.81,319.52 L441.84,319.35 L444.87,318.80 L447.90,319.76 L450.93,342.59 L453.96,345.73 L456.99,349.29 L460.02,349.93 L463.05,350.60 L466.08,351.82 L469.11,353.50 L472.14,353.66 L475.17,355.36 L478.20,356.53 L481.23,375.29 L484.26,378.49 L487.29,382.21 L490.32,381.20 L493.35,381.90 L496.38,382.09 L499.41,381.69 L502.44,381.02 L505.47,381.15 L508.50,381.91 L511.53,313.27 L514.56,313.50 L517.59,315.25 L520.62,315.61 L523.65,316.98 L526.68,317.56 L529.71,317.24 L532.74,318.13 L535.77,319.15 L538.80,318.51" fill="none" stroke="#5ab89a" stroke-width="0.9" opacity="1"/>
<path d="M329.73,279.08 L331.93,281.28 L329.73,283.48 L327.53,281.28ZM332.76,279.31 L334.96,281.51 L332.76,283.71 L330.56,281.51ZM335.79,281.13 L337.99,283.33 L335.79,285.53 L333.59,283.33ZM338.82,282.25 L341.02,284.45 L338.82,286.65 L336.62,284.45ZM341.85,284.33 L344.05,286.53 L341.85,288.73 L339.65,286.53ZM344.88,285.84 L347.08,288.04 L344.88,290.24 L342.68,288.04ZM347.91,287.50 L350.11,289.70 L347.91,291.90 L345.71,289.70ZM350.94,290.18 L353.14,292.38 L350.94,294.58 L348.74,292.38ZM353.97,291.52 L356.17,293.72 L353.97,295.92 L351.77,293.72ZM357.00,292.74 L359.20,294.94 L357.00,297.14 L354.80,294.94ZM360.03,292.20 L362.23,294.40 L360.03,296.60 L357.83,294.40ZM363.06,294.30 L365.26,296.50 L363.06,298.70 L360.86,296.50ZM366.09,295.46 L368.29,297.66 L366.09,299.86 L363.89,297.66ZM369.12,296.16 L371.32,298.36 L369.12,300.56 L366.92,298.36ZM372.15,297.80 L374.35,300.00 L372.15,302.20 L369.95,300.00ZM375.18,298.71 L377.38,300.91 L375.18,303.11 L372.98,300.91ZM378.21,300.08 L380.41,302.28 L378.21,304.48 L376.01,302.28ZM381.24,300.40 L383.44,302.60 L381.24,304.80 L379.04,302.60ZM384.27,301.38 L386.47,303.58 L384.27,305.78 L382.07,303.58ZM387.30,302.37 L389.50,304.57 L387.30,306.77 L385.10,304.57ZM390.33,308.16 L392.53,310.36 L390.33,312.56 L388.13,310.36ZM393.36,307.90 L395.56,310.10 L393.36,312.30 L391.16,310.10ZM396.39,308.49 L398.59,310.69 L396.39,312.89 L394.19,310.69ZM399.42,309.71 L401.62,311.91 L399.42,314.11 L397.22,311.91ZM402.45,309.21 L404.65,311.41 L402.45,313.61 L400.25,311.41ZM405.48,309.61 L407.68,311.81 L405.48,314.01 L403.28,311.81ZM408.51,311.14 L410.71,313.34 L408.51,315.54 L406.31,313.34ZM411.54,310.65 L413.74,312.85 L411.54,315.05 L409.34,312.85ZM414.57,311.92 L416.77,314.12 L414.57,316.32 L412.37,314.12ZM417.60,312.31 L419.80,314.51 L417.60,316.71 L415.40,314.51ZM420.63,316.24 L422.83,318.44 L420.63,320.64 L418.43,318.44ZM423.66,316.45 L425.86,318.65 L423.66,320.85 L421.46,318.65ZM426.69,317.37 L428.89,319.57 L426.69,321.77 L424.49,319.57ZM429.72,317.00 L431.92,319.20 L429.72,321.40 L427.52,319.20ZM432.75,316.88 L434.95,319.08 L432.75,321.28 L430.55,319.08ZM435.78,317.13 L437.98,319.33 L435.78,321.53 L433.58,319.33ZM438.81,317.32 L441.01,319.52 L438.81,321.72 L436.61,319.52ZM441.84,317.15 L444.04,319.35 L441.84,321.55 L439.64,319.35ZM444.87,316.60 L447.07,318.80 L444.87,321.00 L442.67,318.80ZM447.90,317.56 L450.10,319.76 L447.90,321.96 L445.70,319.76ZM450.93,340.39 L453.13,342.59 L450.93,344.79 L448.73,342.59ZM453.96,343.53 L456.16,345.73 L453.96,347.93 L451.76,345.73ZM456.99,347.09 L459.19,349.29 L456.99,351.49 L454.79,349.29ZM460.02,347.73 L462.22,349.93 L460.02,352.13 L457.82,349.93ZM463.05,348.40 L465.25,350.60 L463.05,352.80 L460.85,350.60ZM466.08,349.62 L468.28,351.82 L466.08,354.02 L463.88,351.82ZM469.11,351.30 L471.31,353.50 L469.11,355.70 L466.91,353.50ZM472.14,351.46 L474.34,353.66 L472.14,355.86 L469.94,353.66ZM475.17,353.16 L477.37,355.36 L475.17,357.56 L472.97,355.36ZM478.20,354.33 L480.40,356.53 L478.20,358.73 L476.00,356.53ZM481.23,373.09 L483.43,375.29 L481.23,377.49 L479.03,375.29ZM484.26,376.29 L486.46,378.49 L484.26,380.69 L482.06,378.49ZM487.29,380.01 L489.49,382.21 L487.29,384.41 L485.09,382.21ZM490.32,379.00 L492.52,381.20 L490.32,383.40 L488.12,381.20ZM493.35,379.70 L495.55,381.90 L493.35,384.10 L491.15,381.90ZM496.38,379.89 L498.58,382.09 L496.38,384.29 L494.18,382.09ZM499.41,379.49 L501.61,381.69 L499.41,383.89 L497.21,381.69ZM502.44,378.82 L504.64,381.02 L502.44,383.22 L500.24,381.02ZM505.47,378.95 L507.67,381.15 L505.47,383.35 L503.27,381.15ZM508.50,379.71 L510.70,381.91 L508.50,384.11 L506.30,381.91ZM511.53,311.07 L513.73,313.27 L511.53,315.47 L509.33,313.27ZM514.56,311.30 L516.76,313.50 L514.56,315.70 L512.36,313.50ZM517.59,313.05 L519.79,315.25 L517.59,317.45 L515.39,315.25ZM520.62,313.41 L522.82,315.61 L520.62,317.81 L518.42,315.61ZM523.65,314.78 L525.85,316.98 L523.65,319.18 L521.45,316.98ZM526.68,315.36 L528.88,317.56 L526.68,319.76 L524.48,317.56ZM529.71,315.04 L531.91,317.24 L529.71,319.44 L527.51,317.24ZM532.74,315.93 L534.94,318.13 L532.74,320.33 L530.54,318.13ZM535.77,316.95 L537.97,319.15 L535.77,321.35 L533.57,319.15ZM538.80,316.31 L541.00,318.51 L538.80,320.71 L536.60,318.51Z" fill="#fff" fill-opacity="0.6" stroke="#5ab89a" stroke-width="0.7" opacity="1"/>
<path d="M329.73,275.39 L332.76,307.60 L335.79,309.37 L338.82,309.10 L341.85,310.97 L344.88,310.67 L347.91,312.02 L350.94,312.97 L353.97,313.46 L357.00,313.74 L360.03,325.40 L363.06,325.71 L366.09,325.30 L369.12,325.82 L372.15,326.13 L375.18,326.23 L378.21,326.55 L381.24,326.51 L384.27,326.53 L387.30,326.71 L390.33,334.80 L393.36,335.44 L396.39,335.15 L399.42,335.59 L402.45,335.36 L405.48,335.88 L408.51,335.63 L411.54,336.02 L414.57,335.11 L417.60,335.42 L420.63,342.40 L423.66,343.55 L426.69,345.82 L429.72,349.17 L432.75,345.30 L435.78,342.07 L438.81,343.35 L441.84,345.28 L444.87,342.81 L447.90,342.65 L450.93,355.21 L453.96,358.22 L456.99,362.51 L460.02,364.83 L463.05,367.98 L466.08,368.76 L469.11,367.54 L472.14,365.06 L475.17,367.17 L478.20,369.63 L481.23,379.95 L484.26,381.17 L487.29,383.96 L490.32,384.43 L493.35,384.88 L496.38,384.19 L499.41,383.38 L502.44,382.89 L505.47,382.65 L508.50,381.93 L511.53,315.29 L514.56,316.60 L517.59,318.55 L520.62,318.59 L523.65,319.28 L526.68,318.77 L529.71,319.19 L532.74,320.21 L535.77,321.06 L538.80,320.52" fill="none" stroke="#801cc4" stroke-width="1.1" opacity="1"/>
<path d="M329.73,272.89 L330.39,274.48 L332.11,274.62 L330.80,275.74 L331.20,277.42 L329.73,276.52 L328.26,277.42 L328.66,275.74 L327.35,274.62 L329.07,274.48ZM332.76,305.10 L333.42,306.69 L335.14,306.83 L333.83,307.95 L334.23,309.62 L332.76,308.72 L331.29,309.62 L331.69,307.95 L330.38,306.83 L332.10,306.69ZM335.79,306.87 L336.45,308.46 L338.17,308.60 L336.86,309.72 L337.26,311.39 L335.79,310.49 L334.32,311.39 L334.72,309.72 L333.41,308.60 L335.13,308.46ZM338.82,306.60 L339.48,308.19 L341.20,308.33 L339.89,309.45 L340.29,311.12 L338.82,310.23 L337.35,311.12 L337.75,309.45 L336.44,308.33 L338.16,308.19ZM341.85,308.47 L342.51,310.06 L344.23,310.20 L342.92,311.32 L343.32,312.99 L341.85,312.10 L340.38,312.99 L340.78,311.32 L339.47,310.20 L341.19,310.06ZM344.88,308.17 L345.54,309.76 L347.26,309.90 L345.95,311.02 L346.35,312.69 L344.88,311.80 L343.41,312.69 L343.81,311.02 L342.50,309.90 L344.22,309.76ZM347.91,309.52 L348.57,311.11 L350.29,311.25 L348.98,312.37 L349.38,314.04 L347.91,313.15 L346.44,314.04 L346.84,312.37 L345.53,311.25 L347.25,311.11ZM350.94,310.47 L351.60,312.06 L353.32,312.19 L352.01,313.31 L352.41,314.99 L350.94,314.09 L349.47,314.99 L349.87,313.31 L348.56,312.19 L350.28,312.06ZM353.97,310.96 L354.63,312.55 L356.35,312.69 L355.04,313.81 L355.44,315.49 L353.97,314.59 L352.50,315.49 L352.90,313.81 L351.59,312.69 L353.31,312.55ZM357.00,311.24 L357.66,312.83 L359.38,312.97 L358.07,314.09 L358.47,315.77 L357.00,314.87 L355.53,315.77 L355.93,314.09 L354.62,312.97 L356.34,312.83ZM360.03,322.90 L360.69,324.49 L362.41,324.62 L361.10,325.74 L361.50,327.42 L360.03,326.52 L358.56,327.42 L358.96,325.74 L357.65,324.62 L359.37,324.49ZM363.06,323.21 L363.72,324.80 L365.44,324.94 L364.13,326.06 L364.53,327.74 L363.06,326.84 L361.59,327.74 L361.99,326.06 L360.68,324.94 L362.40,324.80ZM366.09,322.80 L366.75,324.39 L368.47,324.53 L367.16,325.65 L367.56,327.32 L366.09,326.42 L364.62,327.32 L365.02,325.65 L363.71,324.53 L365.43,324.39ZM369.12,323.32 L369.78,324.91 L371.50,325.05 L370.19,326.17 L370.59,327.84 L369.12,326.95 L367.65,327.84 L368.05,326.17 L366.74,325.05 L368.46,324.91ZM372.15,323.63 L372.81,325.22 L374.53,325.35 L373.22,326.47 L373.62,328.15 L372.15,327.25 L370.68,328.15 L371.08,326.47 L369.77,325.35 L371.49,325.22ZM375.18,323.73 L375.84,325.31 L377.56,325.45 L376.25,326.57 L376.65,328.25 L375.18,327.35 L373.71,328.25 L374.11,326.57 L372.80,325.45 L374.52,325.31ZM378.21,324.05 L378.87,325.64 L380.59,325.77 L379.28,326.90 L379.68,328.57 L378.21,327.67 L376.74,328.57 L377.14,326.90 L375.83,325.77 L377.55,325.64ZM381.24,324.01 L381.90,325.60 L383.62,325.74 L382.31,326.86 L382.71,328.53 L381.24,327.64 L379.77,328.53 L380.17,326.86 L378.86,325.74 L380.58,325.60ZM384.27,324.03 L384.93,325.62 L386.65,325.76 L385.34,326.88 L385.74,328.55 L384.27,327.66 L382.80,328.55 L383.20,326.88 L381.89,325.76 L383.61,325.62ZM387.30,324.21 L387.96,325.80 L389.68,325.94 L388.37,327.06 L388.77,328.73 L387.30,327.84 L385.83,328.73 L386.23,327.06 L384.92,325.94 L386.64,325.80ZM390.33,332.30 L390.99,333.89 L392.71,334.02 L391.40,335.14 L391.80,336.82 L390.33,335.92 L388.86,336.82 L389.26,335.14 L387.95,334.02 L389.67,333.89ZM393.36,332.94 L394.02,334.53 L395.74,334.67 L394.43,335.79 L394.83,337.46 L393.36,336.56 L391.89,337.46 L392.29,335.79 L390.98,334.67 L392.70,334.53ZM396.39,332.65 L397.05,334.24 L398.77,334.38 L397.46,335.50 L397.86,337.17 L396.39,336.28 L394.92,337.17 L395.32,335.50 L394.01,334.38 L395.73,334.24ZM399.42,333.09 L400.08,334.68 L401.80,334.82 L400.49,335.94 L400.89,337.61 L399.42,336.72 L397.95,337.61 L398.35,335.94 L397.04,334.82 L398.76,334.68ZM402.45,332.86 L403.11,334.45 L404.83,334.59 L403.52,335.71 L403.92,337.38 L402.45,336.49 L400.98,337.38 L401.38,335.71 L400.07,334.59 L401.79,334.45ZM405.48,333.38 L406.14,334.97 L407.86,335.10 L406.55,336.23 L406.95,337.90 L405.48,337.00 L404.01,337.90 L404.41,336.23 L403.10,335.10 L404.82,334.97ZM408.51,333.13 L409.17,334.72 L410.89,334.86 L409.58,335.98 L409.98,337.65 L408.51,336.75 L407.04,337.65 L407.44,335.98 L406.13,334.86 L407.85,334.72ZM411.54,333.52 L412.20,335.11 L413.92,335.25 L412.61,336.37 L413.01,338.04 L411.54,337.14 L410.07,338.04 L410.47,336.37 L409.16,335.25 L410.88,335.11ZM414.57,332.61 L415.23,334.20 L416.95,334.33 L415.64,335.45 L416.04,337.13 L414.57,336.23 L413.10,337.13 L413.50,335.45 L412.19,334.33 L413.91,334.20ZM417.60,332.92 L418.26,334.51 L419.98,334.65 L418.67,335.77 L419.07,337.45 L417.60,336.55 L416.13,337.45 L416.53,335.77 L415.22,334.65 L416.94,334.51ZM420.63,339.90 L421.29,341.49 L423.01,341.63 L421.70,342.75 L422.10,344.43 L420.63,343.53 L419.16,344.43 L419.56,342.75 L418.25,341.63 L419.97,341.49ZM423.66,341.05 L424.32,342.64 L426.04,342.78 L424.73,343.90 L425.13,345.57 L423.66,344.67 L422.19,345.57 L422.59,343.90 L421.28,342.78 L423.00,342.64ZM426.69,343.32 L427.35,344.91 L429.07,345.05 L427.76,346.17 L428.16,347.85 L426.69,346.95 L425.22,347.85 L425.62,346.17 L424.31,345.05 L426.03,344.91ZM429.72,346.67 L430.38,348.26 L432.10,348.40 L430.79,349.52 L431.19,351.20 L429.72,350.30 L428.25,351.20 L428.65,349.52 L427.34,348.40 L429.06,348.26ZM432.75,342.80 L433.41,344.39 L435.13,344.53 L433.82,345.65 L434.22,347.32 L432.75,346.42 L431.28,347.32 L431.68,345.65 L430.37,344.53 L432.09,344.39ZM435.78,339.57 L436.44,341.16 L438.16,341.30 L436.85,342.42 L437.25,344.09 L435.78,343.20 L434.31,344.09 L434.71,342.42 L433.40,341.30 L435.12,341.16ZM438.81,340.85 L439.47,342.44 L441.19,342.58 L439.88,343.70 L440.28,345.37 L438.81,344.48 L437.34,345.37 L437.74,343.70 L436.43,342.58 L438.15,342.44ZM441.84,342.78 L442.50,344.37 L444.22,344.51 L442.91,345.63 L443.31,347.30 L441.84,346.40 L440.37,347.30 L440.77,345.63 L439.46,344.51 L441.18,344.37ZM444.87,340.31 L445.53,341.90 L447.25,342.04 L445.94,343.16 L446.34,344.83 L444.87,343.93 L443.40,344.83 L443.80,343.16 L442.49,342.04 L444.21,341.90ZM447.90,340.15 L448.56,341.74 L450.28,341.88 L448.97,343.00 L449.37,344.68 L447.90,343.78 L446.43,344.68 L446.83,343.00 L445.52,341.88 L447.24,341.74ZM450.93,352.71 L451.59,354.30 L453.31,354.44 L452.00,355.56 L452.40,357.23 L450.93,356.33 L449.46,357.23 L449.86,355.56 L448.55,354.44 L450.27,354.30ZM453.96,355.72 L454.62,357.31 L456.34,357.45 L455.03,358.57 L455.43,360.24 L453.96,359.34 L452.49,360.24 L452.89,358.57 L451.58,357.45 L453.30,357.31ZM456.99,360.01 L457.65,361.60 L459.37,361.73 L458.06,362.85 L458.46,364.53 L456.99,363.63 L455.52,364.53 L455.92,362.85 L454.61,361.73 L456.33,361.60ZM460.02,362.33 L460.68,363.92 L462.40,364.05 L461.09,365.17 L461.49,366.85 L460.02,365.95 L458.55,366.85 L458.95,365.17 L457.64,364.05 L459.36,363.92ZM463.05,365.48 L463.71,367.07 L465.43,367.21 L464.12,368.33 L464.52,370.01 L463.05,369.11 L461.58,370.01 L461.98,368.33 L460.67,367.21 L462.39,367.07ZM466.08,366.26 L466.74,367.85 L468.46,367.99 L467.15,369.11 L467.55,370.79 L466.08,369.89 L464.61,370.79 L465.01,369.11 L463.70,367.99 L465.42,367.85ZM469.11,365.04 L469.77,366.63 L471.49,366.77 L470.18,367.89 L470.58,369.57 L469.11,368.67 L467.64,369.57 L468.04,367.89 L466.73,366.77 L468.45,366.63ZM472.14,362.56 L472.80,364.15 L474.52,364.29 L473.21,365.41 L473.61,367.08 L472.14,366.19 L470.67,367.08 L471.07,365.41 L469.76,364.29 L471.48,364.15ZM475.17,364.67 L475.83,366.26 L477.55,366.40 L476.24,367.52 L476.64,369.19 L475.17,368.29 L473.70,369.19 L474.10,367.52 L472.79,366.40 L474.51,366.26ZM478.20,367.13 L478.86,368.72 L480.58,368.85 L479.27,369.97 L479.67,371.65 L478.20,370.75 L476.73,371.65 L477.13,369.97 L475.82,368.85 L477.54,368.72ZM481.23,377.45 L481.89,379.04 L483.61,379.18 L482.30,380.30 L482.70,381.97 L481.23,381.07 L479.76,381.97 L480.16,380.30 L478.85,379.18 L480.57,379.04ZM484.26,378.67 L484.92,380.26 L486.64,380.39 L485.33,381.51 L485.73,383.19 L484.26,382.29 L482.79,383.19 L483.19,381.51 L481.88,380.39 L483.60,380.26ZM487.29,381.46 L487.95,383.05 L489.67,383.19 L488.36,384.31 L488.76,385.99 L487.29,385.09 L485.82,385.99 L486.22,384.31 L484.91,383.19 L486.63,383.05ZM490.32,381.93 L490.98,383.52 L492.70,383.66 L491.39,384.78 L491.79,386.45 L490.32,385.56 L488.85,386.45 L489.25,384.78 L487.94,383.66 L489.66,383.52ZM493.35,382.38 L494.01,383.97 L495.73,384.11 L494.42,385.23 L494.82,386.90 L493.35,386.01 L491.88,386.90 L492.28,385.23 L490.97,384.11 L492.69,383.97ZM496.38,381.69 L497.04,383.28 L498.76,383.42 L497.45,384.54 L497.85,386.21 L496.38,385.31 L494.91,386.21 L495.31,384.54 L494.00,383.42 L495.72,383.28ZM499.41,380.88 L500.07,382.47 L501.79,382.61 L500.48,383.73 L500.88,385.40 L499.41,384.51 L497.94,385.40 L498.34,383.73 L497.03,382.61 L498.75,382.47ZM502.44,380.39 L503.10,381.97 L504.82,382.11 L503.51,383.23 L503.91,384.91 L502.44,384.01 L500.97,384.91 L501.37,383.23 L500.06,382.11 L501.78,381.97ZM505.47,380.15 L506.13,381.74 L507.85,381.87 L506.54,383.00 L506.94,384.67 L505.47,383.77 L504.00,384.67 L504.40,383.00 L503.09,381.87 L504.81,381.74ZM508.50,379.43 L509.16,381.02 L510.88,381.16 L509.57,382.28 L509.97,383.96 L508.50,383.06 L507.03,383.96 L507.43,382.28 L506.12,381.16 L507.84,381.02ZM511.53,312.79 L512.19,314.38 L513.91,314.52 L512.60,315.64 L513.00,317.31 L511.53,316.42 L510.06,317.31 L510.46,315.64 L509.15,314.52 L510.87,314.38ZM514.56,314.10 L515.22,315.69 L516.94,315.83 L515.63,316.95 L516.03,318.62 L514.56,317.73 L513.09,318.62 L513.49,316.95 L512.18,315.83 L513.90,315.69ZM517.59,316.05 L518.25,317.64 L519.97,317.78 L518.66,318.90 L519.06,320.57 L517.59,319.67 L516.12,320.57 L516.52,318.90 L515.21,317.78 L516.93,317.64ZM520.62,316.09 L521.28,317.68 L523.00,317.82 L521.69,318.94 L522.09,320.62 L520.62,319.72 L519.15,320.62 L519.55,318.94 L518.24,317.82 L519.96,317.68ZM523.65,316.78 L524.31,318.37 L526.03,318.51 L524.72,319.63 L525.12,321.30 L523.65,320.41 L522.18,321.30 L522.58,319.63 L521.27,318.51 L522.99,318.37ZM526.68,316.27 L527.34,317.86 L529.06,317.99 L527.75,319.12 L528.15,320.79 L526.68,319.89 L525.21,320.79 L525.61,319.12 L524.30,317.99 L526.02,317.86ZM529.71,316.69 L530.37,318.28 L532.09,318.42 L530.78,319.54 L531.18,321.21 L529.71,320.32 L528.24,321.21 L528.64,319.54 L527.33,318.42 L529.05,318.28ZM532.74,317.71 L533.40,319.30 L535.12,319.44 L533.81,320.56 L534.21,322.23 L532.74,321.34 L531.27,322.23 L531.67,320.56 L530.36,319.44 L532.08,319.30ZM535.77,318.56 L536.43,320.15 L538.15,320.29 L536.84,321.41 L537.24,323.09 L535.77,322.19 L534.30,323.09 L534.70,321.41 L533.39,320.29 L535.11,320.15ZM538.80,318.02 L539.46,319.61 L541.18,319.75 L539.87,320.87 L540.27,322.54 L538.80,321.64 L537.33,322.54 L537.73,320.87 L536.42,319.75 L538.14,319.61Z" fill="#801cc4" opacity="1"/>
<path d="M329.73,240.50 L332.76,272.70 L335.79,275.45 L338.82,277.19 L341.85,279.32 L344.88,281.55 L347.91,284.22 L350.94,286.07 L353.97,289.01 L357.00,290.92 L360.03,290.65 L363.06,291.44 L366.09,293.14 L369.12,294.38 L372.15,295.21 L375.18,296.52 L378.21,297.25 L381.24,298.54 L384.27,299.46 L387.30,300.80 L390.33,306.18 L393.36,306.52 L396.39,307.76 L399.42,308.42 L402.45,308.09 L405.48,309.80 L408.51,309.58 L411.54,310.26 L414.57,311.65 L417.60,311.14 L420.63,316.69 L423.66,317.18 L426.69,317.16 L429.72,317.19 L432.75,318.23 L435.78,317.84 L438.81,317.99 L441.84,317.67 L444.87,317.84 L447.90,313.54 L450.93,339.99 L453.96,342.98 L456.99,346.68 L460.02,347.73 L463.05,349.43 L466.08,350.77 L469.11,351.70 L472.14,352.81 L475.17,354.58 L478.20,355.01 L481.23,373.31 L484.26,376.63 L487.29,380.04 L490.32,379.97 L493.35,380.23 L496.38,380.89 L499.41,379.81 L502.44,379.88 L505.47,380.21 L508.50,380.17 L511.53,307.79 L514.56,309.71 L517.59,309.91 L520.62,311.03 L523.65,311.74 L526.68,311.94 L529.71,311.77 L532.74,312.95 L535.77,312.68 L538.80,312.82" fill="none" stroke="#13906a" stroke-width="1.1" opacity="1"/>
<path d="M329.73,238.10 L332.13,240.50 L329.73,242.90 L327.33,240.50ZM332.76,270.30 L335.16,272.70 L332.76,275.10 L330.36,272.70ZM335.79,273.05 L338.19,275.45 L335.79,277.85 L333.39,275.45ZM338.82,274.79 L341.22,277.19 L338.82,279.59 L336.42,277.19ZM341.85,276.92 L344.25,279.32 L341.85,281.72 L339.45,279.32ZM344.88,279.15 L347.28,281.55 L344.88,283.95 L342.48,281.55ZM347.91,281.82 L350.31,284.22 L347.91,286.62 L345.51,284.22ZM350.94,283.67 L353.34,286.07 L350.94,288.47 L348.54,286.07ZM353.97,286.61 L356.37,289.01 L353.97,291.41 L351.57,289.01ZM357.00,288.52 L359.40,290.92 L357.00,293.32 L354.60,290.92ZM360.03,288.25 L362.43,290.65 L360.03,293.05 L357.63,290.65ZM363.06,289.04 L365.46,291.44 L363.06,293.84 L360.66,291.44ZM366.09,290.74 L368.49,293.14 L366.09,295.54 L363.69,293.14ZM369.12,291.98 L371.52,294.38 L369.12,296.78 L366.72,294.38ZM372.15,292.81 L374.55,295.21 L372.15,297.61 L369.75,295.21ZM375.18,294.12 L377.58,296.52 L375.18,298.92 L372.78,296.52ZM378.21,294.85 L380.61,297.25 L378.21,299.65 L375.81,297.25ZM381.24,296.14 L383.64,298.54 L381.24,300.94 L378.84,298.54ZM384.27,297.06 L386.67,299.46 L384.27,301.86 L381.87,299.46ZM387.30,298.40 L389.70,300.80 L387.30,303.20 L384.90,300.80ZM390.33,303.78 L392.73,306.18 L390.33,308.58 L387.93,306.18ZM393.36,304.12 L395.76,306.52 L393.36,308.92 L390.96,306.52ZM396.39,305.36 L398.79,307.76 L396.39,310.16 L393.99,307.76ZM399.42,306.02 L401.82,308.42 L399.42,310.82 L397.02,308.42ZM402.45,305.69 L404.85,308.09 L402.45,310.49 L400.05,308.09ZM405.48,307.40 L407.88,309.80 L405.48,312.20 L403.08,309.80ZM408.51,307.18 L410.91,309.58 L408.51,311.98 L406.11,309.58ZM411.54,307.86 L413.94,310.26 L411.54,312.66 L409.14,310.26ZM414.57,309.25 L416.97,311.65 L414.57,314.05 L412.17,311.65ZM417.60,308.74 L420.00,311.14 L417.60,313.54 L415.20,311.14ZM420.63,314.29 L423.03,316.69 L420.63,319.09 L418.23,316.69ZM423.66,314.78 L426.06,317.18 L423.66,319.58 L421.26,317.18ZM426.69,314.76 L429.09,317.16 L426.69,319.56 L424.29,317.16ZM429.72,314.79 L432.12,317.19 L429.72,319.59 L427.32,317.19ZM432.75,315.83 L435.15,318.23 L432.75,320.63 L430.35,318.23ZM435.78,315.44 L438.18,317.84 L435.78,320.24 L433.38,317.84ZM438.81,315.59 L441.21,317.99 L438.81,320.39 L436.41,317.99ZM441.84,315.27 L444.24,317.67 L441.84,320.07 L439.44,317.67ZM444.87,315.44 L447.27,317.84 L444.87,320.24 L442.47,317.84ZM447.90,311.14 L450.30,313.54 L447.90,315.94 L445.50,313.54ZM450.93,337.59 L453.33,339.99 L450.93,342.39 L448.53,339.99ZM453.96,340.58 L456.36,342.98 L453.96,345.38 L451.56,342.98ZM456.99,344.28 L459.39,346.68 L456.99,349.08 L454.59,346.68ZM460.02,345.33 L462.42,347.73 L460.02,350.13 L457.62,347.73ZM463.05,347.03 L465.45,349.43 L463.05,351.83 L460.65,349.43ZM466.08,348.37 L468.48,350.77 L466.08,353.17 L463.68,350.77ZM469.11,349.30 L471.51,351.70 L469.11,354.10 L466.71,351.70ZM472.14,350.41 L474.54,352.81 L472.14,355.21 L469.74,352.81ZM475.17,352.18 L477.57,354.58 L475.17,356.98 L472.77,354.58ZM478.20,352.61 L480.60,355.01 L478.20,357.41 L475.80,355.01ZM481.23,370.91 L483.63,373.31 L481.23,375.71 L478.83,373.31ZM484.26,374.23 L486.66,376.63 L484.26,379.03 L481.86,376.63ZM487.29,377.64 L489.69,380.04 L487.29,382.44 L484.89,380.04ZM490.32,377.57 L492.72,379.97 L490.32,382.37 L487.92,379.97ZM493.35,377.83 L495.75,380.23 L493.35,382.63 L490.95,380.23ZM496.38,378.49 L498.78,380.89 L496.38,383.29 L493.98,380.89ZM499.41,377.41 L501.81,379.81 L499.41,382.21 L497.01,379.81ZM502.44,377.48 L504.84,379.88 L502.44,382.28 L500.04,379.88ZM505.47,377.81 L507.87,380.21 L505.47,382.61 L503.07,380.21ZM508.50,377.77 L510.90,380.17 L508.50,382.57 L506.10,380.17ZM511.53,305.39 L513.93,307.79 L511.53,310.19 L509.13,307.79ZM514.56,307.31 L516.96,309.71 L514.56,312.11 L512.16,309.71ZM517.59,307.51 L519.99,309.91 L517.59,312.31 L515.19,309.91ZM520.62,308.63 L523.02,311.03 L520.62,313.43 L518.22,311.03ZM523.65,309.34 L526.05,311.74 L523.65,314.14 L521.25,311.74ZM526.68,309.54 L529.08,311.94 L526.68,314.34 L524.28,311.94ZM529.71,309.37 L532.11,311.77 L529.71,314.17 L527.31,311.77ZM532.74,310.55 L535.14,312.95 L532.74,315.35 L530.34,312.95ZM535.77,310.28 L538.17,312.68 L535.77,315.08 L533.37,312.68ZM538.80,310.42 L541.20,312.82 L538.80,315.22 L536.40,312.82Z" fill="#13906a" opacity="1"/>
<path d="M329.73,265.17 L332.76,291.95 L335.79,291.71 L338.82,291.31 L341.85,291.09 L344.88,291.80 L347.91,292.28 L350.94,293.57 L353.97,294.92 L357.00,296.23 L360.03,292.14 L363.06,293.34 L366.09,293.58 L369.12,294.93 L372.15,295.47 L375.18,295.66 L378.21,295.59 L381.24,296.04 L384.27,296.54 L387.30,297.54 L390.33,301.33 L393.36,301.61 L396.39,301.83 L399.42,302.51 L402.45,301.67 L405.48,302.86 L408.51,302.03 L411.54,302.33 L414.57,303.82 L417.60,303.46 L420.63,315.08 L423.66,314.88 L426.69,315.59 L429.72,315.84 L432.75,315.92 L435.78,314.91 L438.81,315.92 L441.84,315.41 L444.87,316.01 L447.90,315.49 L450.93,333.51 L453.96,327.80 L456.99,323.11 L460.02,323.36 L463.05,323.02 L466.08,323.61 L469.11,324.59 L472.14,324.02 L475.17,324.93 L478.20,327.61 L481.23,355.29 L484.26,351.61 L487.29,348.65 L490.32,345.83 L493.35,347.48 L496.38,348.62 L499.41,350.08 L502.44,352.61 L505.47,357.00 L508.50,359.22 L511.53,297.82 L514.56,300.16 L517.59,300.43 L520.62,300.92 L523.65,300.85 L526.68,301.88 L529.71,301.97 L532.74,302.13 L535.77,301.50 L538.80,302.26" fill="none" stroke="#ff7f10" stroke-width="1.1" opacity="1"/>
<path d="M329.73,262.67 L332.10,266.92 L327.35,266.92ZM332.76,289.45 L335.13,293.70 L330.38,293.70ZM335.79,289.21 L338.16,293.46 L333.41,293.46ZM338.82,288.81 L341.19,293.06 L336.44,293.06ZM341.85,288.59 L344.22,292.84 L339.47,292.84ZM344.88,289.30 L347.25,293.55 L342.50,293.55ZM347.91,289.78 L350.28,294.03 L345.53,294.03ZM350.94,291.07 L353.31,295.32 L348.56,295.32ZM353.97,292.42 L356.34,296.67 L351.59,296.67ZM357.00,293.73 L359.38,297.98 L354.62,297.98ZM360.03,289.64 L362.40,293.89 L357.65,293.89ZM363.06,290.84 L365.44,295.09 L360.69,295.09ZM366.09,291.08 L368.46,295.33 L363.71,295.33ZM369.12,292.43 L371.50,296.68 L366.75,296.68ZM372.15,292.97 L374.52,297.22 L369.77,297.22ZM375.18,293.16 L377.56,297.41 L372.81,297.41ZM378.21,293.09 L380.58,297.34 L375.83,297.34ZM381.24,293.54 L383.62,297.79 L378.87,297.79ZM384.27,294.04 L386.64,298.29 L381.89,298.29ZM387.30,295.04 L389.67,299.29 L384.92,299.29ZM390.33,298.83 L392.70,303.08 L387.95,303.08ZM393.36,299.11 L395.74,303.36 L390.99,303.36ZM396.39,299.33 L398.76,303.58 L394.01,303.58ZM399.42,300.01 L401.79,304.26 L397.04,304.26ZM402.45,299.17 L404.82,303.42 L400.07,303.42ZM405.48,300.36 L407.86,304.61 L403.11,304.61ZM408.51,299.53 L410.88,303.78 L406.13,303.78ZM411.54,299.83 L413.91,304.08 L409.16,304.08ZM414.57,301.32 L416.94,305.57 L412.19,305.57ZM417.60,300.96 L419.97,305.21 L415.22,305.21ZM420.63,312.58 L423.00,316.83 L418.25,316.83ZM423.66,312.38 L426.03,316.63 L421.28,316.63ZM426.69,313.09 L429.06,317.34 L424.31,317.34ZM429.72,313.34 L432.09,317.59 L427.34,317.59ZM432.75,313.42 L435.12,317.67 L430.38,317.67ZM435.78,312.41 L438.15,316.66 L433.40,316.66ZM438.81,313.42 L441.19,317.67 L436.44,317.67ZM441.84,312.91 L444.21,317.16 L439.46,317.16ZM444.87,313.51 L447.25,317.76 L442.50,317.76ZM447.90,312.99 L450.27,317.24 L445.52,317.24ZM450.93,331.01 L453.30,335.26 L448.55,335.26ZM453.96,325.30 L456.33,329.55 L451.58,329.55ZM456.99,320.61 L459.37,324.86 L454.62,324.86ZM460.02,320.86 L462.39,325.11 L457.64,325.11ZM463.05,320.52 L465.42,324.77 L460.67,324.77ZM466.08,321.11 L468.45,325.36 L463.70,325.36ZM469.11,322.09 L471.49,326.34 L466.74,326.34ZM472.14,321.52 L474.51,325.77 L469.76,325.77ZM475.17,322.43 L477.54,326.68 L472.79,326.68ZM478.20,325.11 L480.57,329.36 L475.82,329.36ZM481.23,352.79 L483.61,357.04 L478.86,357.04ZM484.26,349.11 L486.63,353.36 L481.88,353.36ZM487.29,346.15 L489.66,350.40 L484.91,350.40ZM490.32,343.33 L492.69,347.58 L487.94,347.58ZM493.35,344.98 L495.72,349.23 L490.97,349.23ZM496.38,346.12 L498.75,350.37 L494.00,350.37ZM499.41,347.58 L501.78,351.83 L497.03,351.83ZM502.44,350.11 L504.81,354.36 L500.06,354.36ZM505.47,354.50 L507.84,358.75 L503.09,358.75ZM508.50,356.72 L510.88,360.97 L506.12,360.97ZM511.53,295.32 L513.90,299.57 L509.15,299.57ZM514.56,297.66 L516.93,301.91 L512.18,301.91ZM517.59,297.93 L519.96,302.18 L515.21,302.18ZM520.62,298.42 L523.00,302.67 L518.25,302.67ZM523.65,298.35 L526.02,302.60 L521.27,302.60ZM526.68,299.38 L529.05,303.63 L524.30,303.63ZM529.71,299.47 L532.09,303.72 L527.34,303.72ZM532.74,299.63 L535.12,303.88 L530.37,303.88ZM535.77,299.00 L538.14,303.25 L533.39,303.25ZM538.80,299.76 L541.17,304.01 L536.42,304.01Z" fill="#ff7f10" opacity="1"/>
</g>
<rect x="326.70" y="230.00" width="212.20" height="170.70" fill="none" stroke="#222" stroke-width="1.3"/>
<line x1="357.00" y1="400.70" x2="357.00" y2="397.20" stroke="#222" stroke-width="1"/>
<line x1="387.30" y1="400.70" x2="387.30" y2="397.20" stroke="#222" stroke-width="1"/>
<line x1="417.60" y1="400.70" x2="417.60" y2="397.20" stroke="#222" stroke-width="1"/>
<line x1="447.90" y1="400.70" x2="447.90" y2="397.20" stroke="#222" stroke-width="1"/>
<line x1="478.20" y1="400.70" x2="478.20" y2="397.20" stroke="#222" stroke-width="1"/>
<line x1="508.50" y1="400.70" x2="508.50" y2="397.20" stroke="#222" stroke-width="1"/>
<line x1="341.85" y1="400.70" x2="341.85" y2="398.70" stroke="#222" stroke-width="1"/>
<line x1="372.15" y1="400.70" x2="372.15" y2="398.70" stroke="#222" stroke-width="1"/>
<line x1="402.45" y1="400.70" x2="402.45" y2="398.70" stroke="#222" stroke-width="1"/>
<line x1="432.75" y1="400.70" x2="432.75" y2="398.70" stroke="#222" stroke-width="1"/>
<line x1="463.05" y1="400.70" x2="463.05" y2="398.70" stroke="#222" stroke-width="1"/>
<line x1="493.35" y1="400.70" x2="493.35" y2="398.70" stroke="#222" stroke-width="1"/>
<line x1="523.65" y1="400.70" x2="523.65" y2="398.70" stroke="#222" stroke-width="1"/>
<line x1="326.70" y1="366.56" x2="330.20" y2="366.56" stroke="#222" stroke-width="1"/>
<line x1="326.70" y1="332.42" x2="330.20" y2="332.42" stroke="#222" stroke-width="1"/>
<line x1="326.70" y1="298.28" x2="330.20" y2="298.28" stroke="#222" stroke-width="1"/>
<line x1="326.70" y1="264.14" x2="330.20" y2="264.14" stroke="#222" stroke-width="1"/>
<line x1="326.70" y1="383.63" x2="328.70" y2="383.63" stroke="#222" stroke-width="1"/>
<line x1="326.70" y1="349.49" x2="328.70" y2="349.49" stroke="#222" stroke-width="1"/>
<line x1="326.70" y1="315.35" x2="328.70" y2="315.35" stroke="#222" stroke-width="1"/>
<line x1="326.70" y1="281.21" x2="328.70" y2="281.21" stroke="#222" stroke-width="1"/>
<line x1="326.70" y1="247.07" x2="328.70" y2="247.07" stroke="#222" stroke-width="1"/>
<text x="326.70" y="412.77" font-size="9.9" text-anchor="middle" fill="#111">0</text>
<text x="357.00" y="412.77" font-size="9.9" text-anchor="middle" fill="#111">10</text>
<text x="387.30" y="412.77" font-size="9.9" text-anchor="middle" fill="#111">20</text>
<text x="417.60" y="412.77" font-size="9.9" text-anchor="middle" fill="#111">30</text>
<text x="447.90" y="412.77" font-size="9.9" text-anchor="middle" fill="#111">40</text>
<text x="478.20" y="412.77" font-size="9.9" text-anchor="middle" fill="#111">50</text>
<text x="508.50" y="412.77" font-size="9.9" text-anchor="middle" fill="#111">60</text>
<text x="538.80" y="412.77" font-size="9.9" text-anchor="middle" fill="#111">70</text>
<text x="323.00" y="403.97" font-size="9.9" text-anchor="end" fill="#111">0</text>
<text x="323.00" y="369.83" font-size="9.9" text-anchor="end" fill="#111">200</text>
<text x="323.00" y="335.69" font-size="9.9" text-anchor="end" fill="#111">400</text>
<text x="323.00" y="301.55" font-size="9.9" text-anchor="end" fill="#111">600</text>
<text x="323.00" y="267.41" font-size="9.9" text-anchor="end" fill="#111">800</text>
<text x="323.00" y="233.27" font-size="9.9" text-anchor="end" fill="#111">1000</text>
<text x="293.80" y="232.97" font-size="9.9" text-anchor="middle" fill="#111">(d)</text>
<text x="433.00" y="424.40" font-size="9.9" text-anchor="middle" fill="#111">Cycle number</text>
<text x="298.70" y="315.50" font-size="9.9" text-anchor="middle" fill="#111" transform="rotate(-90 298.70 315.50)">Specific capacity (mAh g<tspan font-size="6" dy="-4">-1</tspan><tspan dy="4">)</tspan></text>
<text x="376.50" y="246.87" font-size="9.9" text-anchor="middle" fill="#111">BA-Sb</text>
<text x="402.70" y="246.87" font-size="9.9" text-anchor="middle" fill="#111">100</text>
<text x="431.80" y="246.97" font-size="9.9" text-anchor="middle" fill="#111">200</text>
<text x="461.20" y="246.97" font-size="9.9" text-anchor="middle" fill="#111">300</text>
<text x="477.40" y="259.27" font-size="9.9" text-anchor="start" fill="#111">charge</text>
<text x="476.60" y="271.07" font-size="9.9" text-anchor="start" fill="#111">discharge</text>
<line x1="361.6" y1="256" x2="382.5" y2="256" stroke="#a860dc" stroke-width="1.2"/>
<path d="M372.50,253.40 L373.19,255.05 L374.97,255.20 L373.61,256.36 L374.03,258.10 L372.50,257.17 L370.97,258.10 L371.39,256.36 L370.03,255.20 L371.81,255.05Z" fill="#fff" stroke="#801cc4" stroke-width="0.9"/>
<line x1="361.6" y1="268" x2="382.5" y2="268" stroke="#a860dc" stroke-width="1.2"/>
<path d="M372.50,265.20 L373.24,266.98 L375.16,267.13 L373.70,268.39 L374.15,270.27 L372.50,269.26 L370.85,270.27 L371.30,268.39 L369.84,267.13 L371.76,266.98Z" fill="#801cc4"/>
<line x1="393" y1="256" x2="413" y2="256" stroke="#5ab89a" stroke-width="1.2"/>
<path d="M403.00,253.40 L405.60,256.00 L403.00,258.60 L400.40,256.00Z" fill="#fff" stroke="#13906a" stroke-width="0.9"/>
<line x1="393" y1="268" x2="413" y2="268" stroke="#5ab89a" stroke-width="1.2"/>
<path d="M403.00,265.20 L405.80,268.00 L403.00,270.80 L400.20,268.00Z" fill="#13906a"/>
<line x1="421.8" y1="256" x2="441.9" y2="256" stroke="#ff9a40" stroke-width="1.2"/>
<path d="M431.70,253.40 L434.17,257.82 L429.23,257.82Z" fill="#fff" stroke="#ff7f10" stroke-width="0.9"/>
<line x1="421.8" y1="268" x2="441.9" y2="268" stroke="#ff9a40" stroke-width="1.2"/>
<path d="M431.70,265.20 L434.36,269.96 L429.04,269.96Z" fill="#ff7f10"/>
<line x1="451.4" y1="256" x2="471.5" y2="256" stroke="#a03030" stroke-width="1.2"/>
<path d="M458.90,256.00 a2.60,2.60 0 1,0 5.20,0 a2.60,2.60 0 1,0 -5.20,0" fill="#fff" stroke="#8b0a0a" stroke-width="0.9"/>
<line x1="451.4" y1="268" x2="471.5" y2="268" stroke="#a03030" stroke-width="1.2"/>
<path d="M458.70,268.00 a2.80,2.80 0 1,0 5.60,0 a2.80,2.80 0 1,0 -5.60,0" fill="#8b0a0a"/>
<text x="346.00" y="273.07" font-size="9.9" text-anchor="middle" fill="#111">0.1</text>
<text x="371.00" y="288.07" font-size="9.9" text-anchor="middle" fill="#111">0.2</text>
<text x="401.30" y="293.97" font-size="9.9" text-anchor="middle" fill="#111">0.4</text>
<text x="433.00" y="304.27" font-size="9.9" text-anchor="middle" fill="#111">0.8</text>
<text x="463.70" y="315.37" font-size="9.9" text-anchor="middle" fill="#111">1.6</text>
<text x="493.80" y="339.17" font-size="9.9" text-anchor="middle" fill="#111">3.2</text>
<text x="523.50" y="294.37" font-size="9.9" text-anchor="middle" fill="#111">0.1</text>
<text x="386.00" y="382.50" font-size="9.9" text-anchor="end" fill="#111">Unit : A g<tspan font-size="6" dy="-4">-1</tspan></text>
</svg></body></html>
